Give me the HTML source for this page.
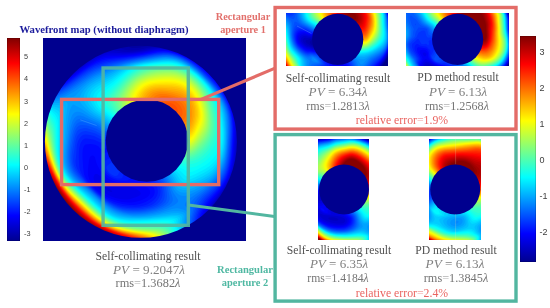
<!DOCTYPE html><html><head><meta charset="utf-8"><title>Wavefront map</title><style>html,body{margin:0;padding:0;background:#fff}#p{position:relative;width:550px;height:308px;overflow:hidden;background:#fff;font-family:'Liberation Serif',serif}.t{position:absolute;white-space:nowrap;line-height:normal}.c{position:absolute;white-space:nowrap;line-height:1;font-family:'Liberation Sans',sans-serif;color:#404040}svg{display:block}</style></head><body><div id="p">
<div style="position:absolute;left:7px;top:38.2px;width:13.3px;height:202.8px;background:linear-gradient(to bottom,#800000 0%,#ff0000 12.5%,#ffff00 37.5%,#00ffff 62.5%,#0000ff 87.5%,#00008f 100%);box-shadow:inset 0 0 0 0.5px rgba(0,0,0,.3)"></div>
<div style="position:absolute;left:519.8px;top:35.5px;width:15.9px;height:226.3px;background:linear-gradient(to bottom,#800000 0%,#ff0000 12.5%,#ffff00 37.5%,#00ffff 62.5%,#0000ff 87.5%,#00008f 100%);box-shadow:inset 0 0 0 0.5px rgba(0,0,0,.3)"></div>
<svg style="position:absolute;left:43.1px;top:38.2px" width="203" height="202.8" viewBox="43.1 38.2 203 202.8"><rect x="42.1" y="37.2" width="205" height="204" fill="#0000a3"/>
<path fill="#0000b1" d="M42.1 37.2l85.6 0 1.2 9 0.3 1 2.9 1 3 0.1 4-0.3 8.7-1.8 0.6-9 98.7 0 0 204-205 0z"/>
<path fill="#0000bf" d="M42.1 37.2l75.7 0 2.4 11 2 1 3.9 0.9 3 0.4 3 0.1 6.2-0.4 9.8-2.3 4.5-0.7 1.5-0.4 0.9-0.6 1.4-9 90.7 0 0 204-205 0z"/>
<path fill="#0000cd" d="M42.1 37.2l65.8 0 4.1 13 11.1 1.7 5 0.3 6-0.3 6-0.7 11-2.6 9-1.1 0.6-0.3 2.1-10 84.3 0 0 102-10 0.2-0.6 13.8-0.4 2 0 0.9 11 1.6 0 43.9-22-12.3-1 0.8-0.4 1.1-1.6 1.7-1.6 2.3-6.9 9-1.3 2-0.3 1 0.1 0.4 35 32.3 0 1.3-205 0z"/>
<path fill="#0000dc" d="M42.1 37.2l0.9 0 32.1 34.3 1-0.2 10-7.4 9-5.9 1.6-0.8 0.4-0.4 1.6-0.6 0.4-0.4 5-1.9 4-0.9 3-0.2 12 0.6 9-0.3 9-1.1 4.3-0.8 6.7-1.6 3-0.5 4-0.3 6 0.1 0.9-0.7 3-11 78.1 0 0 90-10 1.4-1 0.5 0.1 2.1-0.3 7-1.1 19-1.3 9-0.9 4-0.7 2-0.2 1-0.3 1-0.3 0.3-0.4 1.7-0.6 0.9-0.7 2.1-0.3 0.3-0.7 1.7-3.3 5.7-5 7.3-9.3 12-2 3-0.5 1-0.2 1 29 30-195 0z"/>
<path fill="#0000ea" d="M247.1 37.2l0 81-12 2.7-0.2 2.3 0.4 4-0.1 7-1 19-0.6 6-0.7 5-1.1 5-1.1 4-1.5 4-1.3 3-1.8 3.5-2 3.4-4 5.7-10.7 13.4-2.6 4-1 2-0.4 1 0.5 1 24.2 27-188 0 0-192.2 29 27.2 13-9.6 7-4.8 7-3.9 3-1.2 3-1 3-0.7 3-0.3 13-0.1 11-0.8 8-1.1 12-2.5 4-0.5 5 0 4 0.3 2 0.4 2.3-0.2 4.3-13zM104.4 187.2l0.5 1 2.2 2 1.6 1 2.2 1 1.2 0.1 0.3-0.1-0.4-1-0.9-1-2.7-2-1.8-1-1.5-0.5z"/>
<path fill="#0000f8" d="M247.1 37.2l0 71.5-14 4.4-0.1 2.1 0.5 1 1 10 0.1 5-0.2 6-0.8 13-0.7 8-1 7-1.4 6-1.3 4-1.2 3-1.9 3.9-2 3.5-2 3-3 4-8.1 9.6-3.1 4-2.5 4-2.4 5 21.8 26-182.7 0 0-184.5 26 22.4 2-1.1 14-10.2 8-5.2 4-2.2 3-1.4 3-1.2 3-0.8 4-0.6 15-0.7 10-1 8-1.1 13-2.7 4-0.5 6 0.1 8 1.3 2 0.6 2 0.1 0.9-0.3 6.2-15zM94.1 175.6l-0.4 1.6-0.1 1 0.5 3 1.3 3 2.1 3 2.6 2.6 3 2.4 5 3 4 1.8 3.5 1.2 4.5 1.1 4 0.4 4-0.1 2.3-0.4 6.2-2 2.5-1.3 1-0.7 0.6-1 0-1-0.5-1-0.8-1-3-2-2.1-1-2.9-1-2.3-0.5-10-1-4-0.9-3-1.1-4-2.1-10-7-1-0.4-1-0.1-1 0.3z"/>
<path fill="#0007ff" d="M247.1 59.2l0 34.4-18 8.2 0 1.7 0.5 0.7 0.5 2.4 0.5 0.6 0.3 2 0.5 1 1.4 7 0.8 6 0.3 6-0.3 10-1.1 16-1.2 9-1.6 7-1.3 4-1.3 3.1-2 3.9-1.8 3-4.2 5.8-8.9 10.2-3.2 4-3.1 5-1.4 3-1.2 3-0.1 1 19.2 24-178.3 0 0-178.7 23.2 18.7 0.8 0.4 1-0.4 16-11.5 7-4.6 7-3.8 3-1.3 3-1 3-0.7 3-0.4 16-1.3 10-1.2 7-1.1 16-3 4-0.2 5 0.2 4 0.7 4 1 3 0.9 4 1.6 1 0.2 1 0.7 1 0.2 1 0.8 1 0.1 0.7 0.7 1.3 0.3 0.7 0.7 1.7 1 0.6 0.1 1 1 1 0.1 1.9 1.8 1.1 0.5 0.4 0.5 0.6 0.2 3 2.9 1 0.4 1 0.9 12.8 12.6 0.2 1 1 0.4zM90.1 157.3l-1 3.2-1.1 9.7 0 3 0.2 2 1 4 1.8 4 2.1 3 2.7 3 2.2 2 4 3 5.2 3 3.9 1.7 3.6 1.3 3.4 1 4 0.9 6 0.6 3 0 3.9-0.5 3.1-0.8 3-0.9 3-1.3 2-1 2-1.5 1.3-1.5 0.8-2-0.1-2-0.4-1-0.6-1-1-0.9-2-1.1-5.4-2-4.6-1.1-8-1.1-7-0.2-4-0.5-4-1.2-4-2-2.7-1.9-2.2-2-2.7-3-2-3-2.1-4-0.8-2-1.5-5.5-1-1.6-1-0.5-1 0-1 0.5z"/>
<path fill="#0015ff" d="M208.6 75.2l5.5 5.8 5 6.2 4.1 6 3.3 6 1.8 4 1.1 3 1.8 6 1.2 6 0.7 7 0.1 5-0.1 6-0.6 11-0.7 8-1.5 10-1.2 5-1.2 4-1.2 3-1.6 3.3-2 3.4-2 3-4 4.9-8.6 9.4-3.8 5-1.7 3-1.5 3-1.6 4-0.6 2 0.5 1 16.8 22-174.5 0 0-173.8 22 16.6 1-0.3 2-1.3 17-12.1 6-3.9 6-3.3 6-2.3 3-0.8 4-0.7 18-2 9-1.2 22-4 4-0.3 3 0 5 0.6 6 1.5 6 2.2 6 2.9 5 3.1 5 3.6 5.3 4.5zM85.1 145l-1 1.2-0.8 2-0.4 2-0.3 3 0 4 0.7 11 0.8 6 1 2.7 1 1.9 3 4.5 5.1 5.9 5.9 5.1 4.1 2.9 3.4 2 3.5 1.6 3 1.2 4 1.2 4.5 1 3.5 0.5 4 0.4 3 0 3-0.2 3.6-0.7 3.3-1 3.1-1.3 3-1.6 2-1.5 1.7-1.6 1.3-2.1 0.6-1.9 0.1-1-0.1-2-0.6-2-1-1.3-1-0.8-1.5-0.9-4.5-1.9-8.3-2.1-2.2-1 3.5-24.8 0.6-6.2-0.6-0.7-0.3 1.7-0.7 1.7-0.5 2.3-0.5 1-7.1 24-0.9 0.4-1 0.7-1 0.4-2 0.1-6-0.2-4-0.9-3-1.2-3-1.8-3-2.6-2.3-2.9-1.1-2-0.8-2-0.6-2-0.3-3 0.7-7 0.4-1.4 2.5-0.6 22.7-7 0.8-0.4 2.4-0.6 0.6-0.4 2.6-0.6-0.6-0.3-4 0.3-1 0.4-4.4 0.6-21.4 4-1.2 0.5-0.3-0.5-0.7-0.4-1-1.5-1-1.1-3-1.2-3-0.6-2-0.1-4 0.3zM134.5 143.2l0.6 0.2 2-0.2zM140.1 145.1l-0.2 3.1 0.2 0.2 0.1-2.2z"/>
<path fill="#0023ff" d="M206.5 74.2l6.6 6.8 5 5.9 4 5.7 3.7 6.6 2.7 6 2.2 7 1.3 7 0.5 7 0.1 5-0.3 7-0.6 11-0.7 7-0.7 5-1 5-1 4-1.3 4-1.2 3-1.7 3.3-2 3.3-2 2.8-4 4.7-8.6 8.9-3.4 4.4-2.1 3.6-1.9 3.8-1.3 3.2-1.2 4 0.3 1 15.3 21-171.1 0 0-169.6 20 14.2 1 0.3 4-2.5 16-11.4 6-3.9 6-3.3 6-2.4 4-1.1 5-1 27-3.8 20-3.7 4-0.4 3-0.1 5 0.3 5 1 6 2 5.2 2.4 5.3 3 5.5 3.8 5.1 4.2zM82.1 141l-1 1.7-1 2.6-0.7 2.9-0.4 4-0.1 5 0.4 9 0.3 2 0.5 2 1.3 3 1.6 3 2 3 2.9 4 5.4 6 3.1 3 3.7 3.1 4 2.9 5 3 4 1.9 2.7 1.1 3.2 1 4.1 0.9 7 0.7 5 0.1 4-0.3 2.9-0.4 3.7-1 2.4-1 3.4-2 2.5-2 1.8-2 1.3-2.2 0.8-2.8 0-3-0.8-3.1-1-1.5-1.7-1.4-3.3-1.7-3.2-1.3-1.5-1-5.3-37.1-1.3 1.1-16.7 31.7-0.8 2.3-1.2 0.5-2 0-2-0.1-3-1-3-1.5-2.5-1.9-1.8-2-1.9-3-1-3-0.3-2 0.2-1 0.4-1 0.9-1.3 33-17.4 1-0.8 1 0 0.2-0.5-7.2-0.1-33 0.5-3-1.5-3-1.1-3.6-0.8-4.4-0.5-1 0.1-1 0.4-1 0.7z"/>
<path fill="#0032ff" d="M204.5 73.2l6.9 7 5.7 6.5 4 5.5 4 6.7 3 6.8 2 6.5 1.3 7 0.5 7 0.1 6-0.3 7-0.7 10-0.7 7-0.7 5-1 5-1.1 4-1.4 4-1.3 3-1.7 3.2-2 3.1-2 2.7-4 4.4-7.8 7.6-2.2 2.5-2 2.7-2.2 3.8-2.3 5-1.2 3-1.4 5 0.2 1 14 20-168.1 0 0-165.9 19 12.8 1-0.2 3-1.8 17-11.9 6-3.9 7-3.8 6-2.4 5-1.4 6-1.2 27-4.4 17-3.2 4-0.5 4-0.2 5 0.2 5 1 5 1.6 5.1 2.2 4.9 2.7 5 3.4 5 3.9zM80.1 137.9l-1 1.5-1 2-0.8 2.8-0.4 2-0.7 10-0.6 5 0.2 3 0.4 2 1.2 3 1.6 3 2.7 4 3.7 5 6.1 7 3.6 3.6 4 3.5 7 5 3.1 1.9 3.9 2.1 4.9 1.9 3.1 0.9 7 1.1 5 0.2 5-0.2 4-0.4 4-0.8 3-0.8 2.4-1 1.8-1 2.5-2 1.9-2 1.4-2.2 1.1-2.8 0.4-3-0.1-2-0.4-2-0.7-2-1.3-2-2-1.6-4.1-2.4-0.7-1-9.2-33.2-1-3.1-0.6-0.7-11.1-1-28.3-2-1-0.1-4-2-2-0.8-4-1-4-0.6-1 0-2 0.6-1.4 0.9zM139.1 143.6l0.3 0.6-20.4 29-1 2-0.9 0.7-2 0.4-0.5-0.1-2.5-1.2-2.4-1.8-1.7-2-1.2-2-0.6-2 0.9-1.1 2.2-1.9 28.5-20z"/>
<path fill="#0040ff" d="M202.6 72.2l7.5 7.5 5.8 6.5 4.5 6 3.7 6 3 6.3 2.2 6.7 1.4 7 0.6 8 0.1 5-0.3 7-0.7 10-0.7 7-0.6 4.4-1 5.2-1.1 4.4-1.4 4-2.5 5.4-2 3.2-2 2.6-4 4.4-9 8.4-2.7 3-1.4 2-2.3 4-2.6 6-1.4 4-1.2 5 0.1 1 12.8 19-165.3 0 0-162.6 18 11.6 3-1.6 6-4 13.6-9.4 5.4-3.5 6.6-3.5 6.4-2.6 7-2.1 10-2.1 24.6-4.2 12.4-2.4 8-0.9 5 0.1 5 0.7 5 1.5 4.9 2 5.1 2.7 4.9 3.3 5.1 4zM78.1 135.1l-1.1 2.1-1.2 4-2.3 15-0.2 3 0 2 0.5 3 0.5 2 1.3 3 1.8 3 7.1 9 3.4 4 3.8 4 4.2 4 3.2 2.7 7 5.2 4 2.5 3 1.6 4 1.7 3 1 3 0.8 4 0.6 5 0.3 5 0 5-0.5 5-0.9 3.8-1 3.2-1.3 3.1-1.7 2.3-2 1.9-3 0.8-2 0.4-2 0.1-4-0.7-4-0.8-2-1.3-2-1.8-1.7-2-1.3-1.2-1-12.7-34-1.1-2.6-0.4-0.4-5.6-1-34-4.6-5-2.6-2-0.8-4-1.1-4-0.8-2 0.1-2 0.6-2 1.2z"/>
<path fill="#004eff" d="M202.1 72.6l7.6 7.6 6.2 7 4.5 6 3.7 6.2 3 6.6 1.9 6.2 1.2 7 0.5 8 0 6-0.4 7-0.6 9-0.8 7-0.8 5-1 4.4-1 3.6-1.4 4-2.6 5.2-2 3-2 2.5-3 3.1-10.3 9.2-2.8 3-1.5 2-1.7 3-3.9 10-1.1 4-0.8 4 0.2 1 11.6 18-162.7 0 0-159.5 16 9.8 1 0.4 3-1.5 7-4.4 13-9 6-3.8 7-3.7 7-2.8 9-2.7 12.8-2.8 31.2-5.7 8-0.9 5 0 4 0.5 5 1.3 5 2 5 2.6 5 3.2 5 3.9zM78.1 130.5l-1 1.3-0.7 1.4-1.3 3.4-1 4.3-2 11.2-0.4 4.1 0 3 0.4 3.7 0.8 3.3 1.2 3 1 1.8 3.1 4.2 10.8 12 5.1 5 4 3.6 4 3.2 4 2.9 4 2.6 3.2 1.7 3.8 1.7 4 1.3 4 0.9 3 0.4 5 0.3 5-0.2 5-0.5 6-1.1 4-1.1 4.2-1.7 3.2-2 2.1-2 0.7-1 0.9-2 0.5-2 0.2-2-0.4-5-0.6-3-0.7-2-1-2-1.1-1.5-1-1-2-1.5-0.9-1-16.3-36-4-1-35.8-7.1-6-3.2-8-2.4-2-0.2-3 0.3-2 0.6-1 0.5z"/>
<path fill="#005cff" d="M202.1 73.3l7.8 7.9 6.1 7 4.4 6 3.7 6.4 2.8 6.6 1.7 6 1.1 7 0.4 8-0.1 6-0.5 9-1.2 12-1.7 9-1.1 4-1.4 4-1.4 3-1.6 2.8-3 4-4 4-11.6 10.2-3.6 4-1.3 2-0.9 2-4.1 13-1.1 6 0.3 1 10.5 17-160.2 0 0-156.6 15 8.7 1 0.3 3-1.3 8-4.8 12-8.3 7-4.5 7-3.7 7-3 9-2.8 14-3.4 30-5.6 7-0.9 5-0.1 5 0.5 5 1.3 5 2 5 2.6 5 3.3 5 3.9zM77.1 127.6l-1.6 2.6-1.4 4-1.2 5-1.9 10-0.5 5-0.1 4 0.3 4 1 4 1.1 3 1 2 1.3 2 2 2.4 13.1 13.6 7.9 7.3 4 3.2 4 3 4 2.6 4 2.2 4 1.7 3 0.9 4 0.9 4 0.5 5 0.3 5-0.2 6-0.6 5-1 5-1.4 3.6-1.4 3.6-2 2.4-2 0.9-1 1-2 0.5-3-0.1-3-0.4-3-0.6-3-0.9-3-0.9-2-1.1-1.8-1-1.2-2.3-2-0.7-1-18-35-4-1.2-35-8.7-6-3.5-4-1.5-5-1.5-4-0.5-3 0.2-1.4 0.7z"/>
<path fill="#006aff" d="M202.1 74.1l7 7.1 6.1 7 4.9 6.6 3.7 6.4 2.5 6 1 3 0.9 4 1 7 0.2 8-0.7 16-1.2 11-1 5-1.2 5-1.2 3.5-1.5 3.5-2.5 4.3-3 3.8-5 4.7-10.9 9.2-3.3 3-2.5 3-1 2-0.3 1-0.9 6-2.4 9-0.7 5 0.4 1 9.6 16-158 0 0-154 15 8.2 3-1.3 8-4.4 14-9.6 7.9-4.9 6.1-3.2 7-3 5.2-1.8 5.8-1.8 12.6-3.2 8.4-1.7 20-3.6 7-0.9 5-0.2 5 0.5 5 1.3 4.2 1.6 4.8 2.4 5 3.2 5 3.9zM76.7 124.2l-1.9 3-1.7 4.4-1.4 5.6-1.6 9.2-0.7 5.8-0.2 5 0.4 5 0.9 4 1.1 3 1 2 1.5 2.4 2.1 2.6 2.8 3 12.6 12 6.5 6 8 6.3 4 2.7 4 2.2 4 1.6 4 1.3 4 0.8 4 0.5 5 0.2 6-0.3 6-0.8 6-1.2 4.4-1.3 4.8-2 3.3-2 2.3-2 0.7-1 0.9-2 0.2-1 0-2-1.7-8-0.9-3-1.1-3-1.9-3.2-3-3.3-19.9-34.5-3.1-1.1-36-10.9-4-2.7-2-1-9-3.2-5-1.1-2 0-2 0.8z"/>
<path fill="#0078ff" d="M202.1 74.7l7.3 7.5 6 7 4.9 7 2.3 4 1.5 3 1.2 3 1.4 4 1.4 6.8 0.6 7.2 0 9-0.8 14-1.3 10-1.1 5-1.1 4-1.3 3.5-1.6 3.5-2.6 4-3.8 4.3-7 6.2-13.4 10.5-2.8 3-1.1 2-0.3 2 0.7 4 0.1 2-0.6 3-1.3 5-0.6 6 9.1 16-155.8 0 0-151.4 14 7.4 3-1.2 8-4 17.5-11.8 6.5-4 6-3.2 7-3 12-4.1 12-3.3 8-1.6 21-3.7 5-0.6 5-0.2 5 0.5 5 1.2 4 1.5 5 2.5 5 3.3 5 3.8zM75.8 121.2l-1.9 3-1.8 4.7-1.5 6.3-1.5 9.6-0.8 6.4-0.2 6 0.4 5 0.8 4 1.1 3 1.5 3 2.1 3 2.1 2.5 3 2.9 20 18.2 5 4.1 4 2.9 3 1.9 4 2 4 1.6 4 1.1 4 0.7 5 0.5 6 0.1 6-0.5 6-0.9 5.2-1.1 6.3-2 4.5-2 3.3-2 2.2-2 1.1-2 0.2-1-0.1-2-4.3-13-1.2-3-1.8-3-2.6-3-1.1-2-19.7-30.4-0.9-1.6-38.1-13.6-4-2.7-2-1.1-8-3.3-6-2.1-2-0.5-2 0.2-2 0.9z"/>
<path fill="#0087ff" d="M202.1 75.3l7.6 7.9 5.8 7 4.8 7 2.2 4 1.6 3.5 1 2.5 1.2 4 0.8 3.7 0.5 3.3 0.5 8-0.2 11-0.8 12-0.7 5-0.9 5-1 4-1.4 4.1-1.7 3.9-1.8 3-1.5 2.1-2 2.4-6 5.6-6 4.7-13.8 9.2-3.5 3-1.4 2-0.4 2 0.4 1 2.8 3 0.9 1.8 0.2 1.2-0.3 3-1 4-0.3 2-0.2 4 0.1 1 8.3 15-153.8 0 0-149 13 6.5 1-0.1 8-3.2 3-1.6 9-5.8 11.2-7.8 6.6-4 6-3 7.3-3 11.9-4.3 5.8-1.7 5.2-1.3 16-3.1 15-2.3 5-0.3 5 0.2 5 1.1 5 1.8 5 2.5 5 3.3 5 3.8zM74.5 118.2l-1.3 2-0.9 2-1.6 5-1.3 7-1.8 13-0.5 6-0.1 5 0.5 5 1 4 1.2 3 1.7 3 2.2 3 2.5 2.9 3 2.8 8 6.8 10 9.2 5 4.3 4 3.1 4 2.7 3 1.7 4 1.8 4 1.3 4 0.9 5 0.7 5 0.3 6-0.2 6-0.6 6-1 5-1.1 5.2-1.6 5.2-2 6-3 2.7-2 0.7-1 0.4-1-0.2-1-0.5-1-4.5-6.9-1-2.1-2.7-7-1.4-3-25.9-36.5-0.9-1.5-37.1-15.1-6-3.9-15-6.8-3-0.7-2 0.1-2 0.9z"/>
<path fill="#0095ff" d="M202.1 75.9l7.9 8.3 5.6 7 4.6 7 1.9 3.5 1.6 3.5 1.9 6 0.7 3 0.6 4 0.5 9-0.1 11-0.7 10-1.4 9-1 4-1.1 3.6-1.4 3.4-1.5 3-1.9 3-1.6 2-2.6 2.8-3 2.8-3 2.4-3 2.2-7 4.2-8 4.1-4 1.2-2 0.2-2-0.1-2-0.6-2-1.1-2-1.8-2-2.7-4-8.9-2.9-4.7-2.9-4-22.2-28.7-0.8-1.3-37.2-16.9-5-3.5-9-4.4-7-4-3-1.2-2-0.3-1 0-2 0.6-1 0.7-1 1-1 1.6-1 2.3-1.4 5.1-1 6-2.2 18-0.5 6-0.1 4 0.1 3 0.4 3 0.7 3 1 2.8 1 2.2 1.2 2 2.1 3 2.7 3.2 4 3.8 10 8.3 12 10.8 7 5.5 3 1.9 3 1.5 3 1.3 3 1 3 0.8 4 0.7 7 0.6 9-0.2 4-0.4 5.7-0.8 7.3-1.6 12-3.4 4-0.8 2 0 6 1.6 2 1.2 0.8 1 0.4 1 0.1 2-1 5-0.2 2 0 4 0.3 1 7.4 14-151.8 0 0-146.8 12 5.8 1 0.1 2-0.6 6-1.9 2-0.9 9-5 3-2 9.9-7.7 4.1-2.7 4-2.3 6.2-3 14.4-6 8.4-3 8-2.1 15-2.9 13-1.9 6-0.5 5 0.3 5 1 4 1.3 5 2.5 6 3.8 5 3.8z"/>
<path fill="#00a3ff" d="M202.1 76.5l6.4 6.7 5.8 7 4.7 7 2.2 4 1.4 3 2.1 6 1.2 6 0.7 8 0.2 10-0.4 10-1.1 9-0.8 4-1.1 4-2.3 6.1-1.5 2.9-1.5 2.3-2 2.5-3 3.2-5 4.2-3 2-4 2.3-4 2.1-4 1.9-3 1-3 0.8-3 0.4-2-0.2-2-0.6-1.7-0.9-1.3-1-2-2.5-4.1-8.5-4.9-7.3-24-28.5-0.8-1.2-36.2-18.3-5-3.5-6.3-3.2-3.5-2-9.2-6.5-7-3.7-1-0.2-1 1-1 1.8-1 2.4-1.1 4.2-0.7 4-0.8 6-2.6 28-0.2 4 0.1 3 0.4 3 0.6 3 1 3 1.3 3 1.1 2 2.1 3 2.8 3.4 4 3.9 11 9.1 13 11.6 6 4.7 5 2.9 3 1.4 3 1 3 0.8 4 0.8 7 0.6 8 0 9-0.7 8-1.3 11-2.4 4-0.5 6 0 2 0.3 2 0.5 1 0.5 1 1 0.5 1.4-0.1 2-0.8 5 0.2 5 7.2 14-150 0 0-144.6 11 5.1 1 0.2 8-1.6 7-2.6 4-0.4 1-0.3 2-1.6 4.6-5.2 3-3 3.5-3 3.9-2.8 3.7-2.2 3.9-2 17.5-8 7.4-3 8.5-2.5 14-2.7 12-1.8 7-0.7 5 0.1 5 0.8 5 1.6 5 2.4 6 3.8 6 4.7z"/>
<path fill="#00b1ff" d="M86.6 87.2l3.6-3 4.9-3.1 4-2.1 11-5.2 8.8-4.6 7.1-3 4.1-1.3 5-1.2 11-2 10-1.6 7-0.7 5-0.2 5 0.5 4 0.9 5 1.9 5 2.7 5 3.3 6 4.9 6.1 5.8 5.5 6 4.7 6 3.9 6 2.8 5.2 2.3 5.8 1.4 6 1 8 0.4 11-0.3 10-0.8 7.2-1.4 6.8-1.9 6-1.3 3-1.4 2.7-3.1 4.3-1.9 2.1-3 2.9-4 2.9-8 4.5-7 3-5 1.4-2 0.3-2-0.1-2-0.4-2-1-1-0.7-1.6-1.9-4.2-8-4.7-7-24.5-26.9-1.7-2.1-35.3-19.5-5-3.6-7.1-3.9-4.3-3-4.4-4-2-2-1.7-2-1.2-2-0.5-2 0-2 0.5-2 1.4-3 2.1-3zM42.1 98.7l11 4.8 8-0.6 4-0.8 1.2 0.1 0.8 0.5 0.3 0.5 0.3 1 0 2-1.7 13-1 18-1.3 15-0.1 4 0.3 4 0.5 3 0.8 3 1.1 3 1.4 3 3.4 5.1 2 2.3 3 3.2 4 3.5 9 7.4 11 10 6 4.9 3 2.1 3 1.8 3 1.3 3.9 1.4 4.1 1 5 0.7 5 0.4 6 0.1 6-0.3 6-0.6 15-2.3 6-0.7 6-0.2 2 0.3 2 0.6 1.2 1 0.5 1 0 2-0.5 5 0.5 5 6.5 13-148.2 0z"/>
<path fill="#00bfff" d="M88.6 88.2l3.6-3 3.9-2.5 14-7 11.3-6.5 4.3-2 2.7-1 7.1-2 6.6-1.3 13-2 7-0.8 6-0.2 5 0.4 4 0.9 5 1.9 5 2.7 5 3.3 6 4.9 5.5 5.2 5.5 6 4.7 6 3.9 6 2.6 5 2.3 6 1.5 6.2 1 8.3 0.5 10.5-0.3 9-0.9 8-1.3 6.4-2 6-2 4-3 4.4-2 2.3-2 2-4 3-7 4-8 3.6-5 1.6-2 0.4-2 0-2-0.3-2-0.9-1-0.8-1.5-1.7-3.9-7-4.9-7-26.7-27.1-0.7-0.9-34.3-20.8-5-3.6-5-2.8-2.8-1.8-2.5-2-2-2-2.7-3-2-3-1.2-3-0.2-2 0.2-2 1.1-3 1.9-3zM42.1 100.7l10 4.2 5 0.3 6 0.6 1 0.6 0.4 0.8 0.3 2 0 2-0.7 11-0.6 17-1 14 0.1 4 0.3 3 0.6 3 0.8 3 1.1 3 1.5 3 1.8 3 2.3 3 2.1 2.5 3 3.1 4 3.6 9 7.4 11 10.1 5 4.2 3 2.1 3.3 2 3.7 1.7 3 1 4 1 5 0.8 5 0.4 6 0.1 6-0.2 6-0.4 22-2.7 5 0 2 0.3 1 0.3 1.1 0.7 0.7 1 0.1 2-0.2 4 0.6 5 6.2 13-146.5 0z"/>
<path fill="#00cdff" d="M90.9 89.2l2.2-2 4-2.8 14-7.3 9.3-5.9 3.5-2 4.2-2 2.6-1 5.4-1.5 7-1.4 13-1.9 7-0.7 6-0.1 5 0.5 4 1.1 5 2 4 2.1 5.7 3.9 5.3 4.3 5.9 5.7 5.3 6 3.9 5 3.8 6 3.1 6 1.8 5 1.4 6 1.1 9 0.5 10-0.2 8-0.7 7-1.4 7-1.5 4.7-1 2.3-2 3.7-3 4.1-3 3.1-4 2.9-6 3.4-9 4.1-5 1.7-2 0.3-2 0-2-0.5-1-0.5-1-0.8-1-1.2-3.9-6.3-5.2-7-27.9-26.1-0.7-0.9-1.8-1-31.6-21-5.5-4-5-3-2.6-2-2.1-2-2.5-3-1.9-3-0.8-2-0.6-3 0.3-3 0.8-2 1.1-2zM42.1 102.6l9 3.6 4.7 1 3.2 1 2.1 0.9 1 1.1 0.5 2 0.1 4-0.5 22-0.8 15 0.2 4 0.5 4 1 3.9 1 2.9 2.6 5.2 1.9 3 2.3 3 5.2 5.6 4 3.6 9 7.5 11 10.2 5 4.1 3 2.1 3 1.8 3 1.4 3 1.1 4 1.1 4 0.6 5 0.5 6 0.2 6-0.1 7-0.4 23-2.3 4 0.1 2 0.4 1 0.5 0.9 1 0.2 1 0.1 5 1.1 5 5.5 12-144.8 0z"/>
<path fill="#00dcff" d="M93.4 90.2l2.2-2 2.8-2 13.7-7.6 9.1-6.4 3.2-2 6.1-3 2.6-1 3.5-1 7.5-1.5 12-1.6 7-0.7 6-0.1 5 0.5 4 1 4 1.5 5 2.6 5 3.4 6 4.8 5.3 5.1 4.7 5.3 4.4 5.7 3.6 5.6 2.8 5.4 1.9 5 1.5 6 1.2 9 0.7 9-0.1 9-0.8 8-1.2 5.4-2 5.7-2 3.9-3 4.3-3 3.1-4 2.9-4.7 2.7-9.3 4.5-5 1.8-2 0.4-2 0.1-1-0.1-1.6-0.7-1.3-1-0.8-1-3.3-5-6-7.2-29-25-0.6-0.8-1.7-1-30.6-22-5.1-3.9-4.9-3.1-3.6-3-1.6-2-1.9-3-1.4-3-0.5-2 0-3 0.6-2 1-2zM42.1 104.5l9 3.4 2 0.6 3 1.3 2.3 1.4 1.1 1 0.8 1 0.6 3 0.2 4-0.2 17-0.5 15 0.3 5 0.9 5 0.8 3 1.1 3 1.3 3 1.7 3 2.1 3 2.4 3 6.1 6.4 11.1 9.6 10.8 10 4.7 4 3.4 2.5 3 1.9 3 1.5 3 1.2 4 1.1 4 0.7 5 0.5 5 0.2 7 0 7-0.4 22-1.9 4 0.1 2.8 0.6 1.1 1 0.3 1 0.5 4 1.3 5.2 5.2 11.8-143.2 0z"/>
<path fill="#00eaff" d="M96.2 91.2l3.6-3 12.3-7.5 10-7.5 4-2.6 2.4-1.4 3.6-1.7 3.6-1.3 2.4-0.7 6.6-1.3 11.4-1.5 6-0.6 6-0.1 5 0.4 4 0.8 5 1.8 4 2 5 3.1 5.2 4.1 5.4 5 4.7 5 4 5 3.7 5.4 3 5.5 2.1 5.1 1.9 6.7 1.2 7.3 1 9 0.1 9-0.3 5.8-1 6.2-1.8 6-2.2 4.8-2 3.2-3 3.5-4 3.3-4 2.5-9.3 4.7-4.7 2.1-2 0.5-2 0.3-2-0.2-1-0.4-2-1.8-3.5-4.5-7.2-7-28.8-23-0.5-0.2-0.6-0.8-1.6-1-33.8-26.3-5.3-3.7-2.3-2-1.8-2-1.3-2-1.3-3-0.8-3 0-2 0.4-2 1-2zM42.1 106.4l10.5 3.8 4.1 3 0.9 1 1.2 2 0.6 3 0.2 5-0.2 28 0.6 6 1.1 5 2.1 6 1.4 3 1.9 3 4.6 6 6 6.3 11 9.7 10.8 10 4.8 4 3.4 2.5 3 1.8 3 1.5 3.2 1.2 3.8 1.1 4 0.7 4 0.4 5 0.2 14-0.3 22-1.6 4 0.2 2 0.6 1 0.8 1.3 4.9 1.6 5 4.7 11-141.6 0z"/>
<path fill="#00f8ff" d="M99.4 92.2l3.5-3 10.2-6.9 8.7-7.1 3.9-3 3.2-2 3.2-1.7 3.2-1.3 3-1 4.2-1 7.6-1.2 11-1.1 7-0.2 5 0.4 4 0.8 4 1.3 5 2.4 5 3.2 5 3.8 5 4.6 5 5.5 4 5 3 4.5 3 5.6 2.2 5.4 1.8 6.5 1.5 8.5 0.8 9 0.1 7-0.4 6.2-1 5.3-1 3.5-1 2.8-2 4.1-2 2.9-3 3.2-3 2.4-4 2.7-9.4 4.9-3.6 1.6-3 0.8-2-0.1-1-0.3-1.4-1-3.6-3.5-6-4.4-2.4-2.1-30-22-0.6-0.3-0.5-0.7-2.8-2-31.7-26.5-6-4.7-1.7-1.8-1.3-2-0.9-2-0.6-3-0.1-2 0.4-2 0.9-2zM42.1 108.1l9 3.2 1 0.7 3 2.8 1.6 2.4 1.1 3 0.5 4 0.2 10-0.1 14 0.3 5 0.6 5 1.4 6 1.4 4 1 2.3 1.4 2.7 1.9 3 4.9 6 6.8 7 10 8.9 9.8 9.1 5.9 5 3.3 2.3 3 1.8 3.9 1.9 2.8 1 3.8 1 3.5 0.6 8 0.6 14-0.2 21-1.3 4 0.2 2 0.6 0.8 0.5 0.5 1 7.8 19-140.1 0z"/>
<path fill="#07fff8" d="M102.7 93.2l3.3-3 8.1-6.3 8.6-7.7 3.8-3 2.9-2 3.6-2 3.1-1.3 3-1.1 5-1.2 6-1 11-1 7-0.2 5 0.4 4 0.8 4 1.3 4 1.9 4.2 2.4 5.5 4 4.5 4 4.8 5 4.1 5 3.4 5 2.8 5 2.2 5 1.9 6 1.6 8 1 7.8 0.3 6.2-0.3 7-0.8 6-1.2 4.4-2 4.9-1.7 2.7-1.6 2-2.7 2.7-3 2.5-3 2.2-3 1.7-5 2.7-4 1.7-3 0.7-2-0.4-5-2.8-5-2.3-3-1.7-2.6-2-29.6-20-0.8-0.3-0.5-0.7-2.6-2-29.9-26.9-6.1-5.1-1.6-2-1.1-2-0.6-2-0.2-2 0.3-2 0.8-2zM42.1 109.9l7 2.3 2 1 3.3 4 1.2 2 0.9 3 0.6 4 0.5 21 0.3 6 0.9 6 1.3 5.1 1 2.9 2 4.5 3 5 2 2.6 3 3.5 7 7.1 18.8 17.3 5.9 5 4.1 3 3.2 1.9 2.2 1.1 3.8 1.5 6 1.6 4 0.6 4 0.3 12-0.1 22-1 4.4 0.1 2.6 0.7 1 0.9 3 5 1.7 3.4 4 10-138.7 0z"/>
<path fill="#15ffea" d="M105.3 94.2l3-3 6.8-5.9 7.3-7.1 4.8-4 2.8-2 3.3-2 3.8-1.7 3-1.1 4.4-1.2 6.1-1 10.5-0.9 6-0.2 5 0.3 4 0.7 4 1.2 4 1.7 4.1 2.2 4.9 3.4 5 4.3 4.3 4.3 3.4 4 3.7 5 3 5 2.3 5 2 6 1.4 6 1.2 7 0.5 7-0.1 7-0.6 6-1.1 4.7-1.7 4.3-1.3 2.2-2 2.6-3 3.2-3 2.8-3 2.2-3 1.9-3 1.7-3 1.2-3 0.8-3-0.1-8-2-5-1.8-31.5-19.7-2.5-1.4-0.4-0.6-1.6-1-35.2-34-0.9-1-1.1-2-0.3-1-0.3-2 0.3-2 0.5-1.5 0.8-1.5zM42.1 111.6l7 2.1 1 0.6 1 1.2 1 1.8 2 2.9 1.1 3 0.9 5 0.7 19 0.6 7 1.1 6 1.6 5.7 1.3 3.3 1.7 3.6 3 4.8 4.7 5.6 7.3 7.4 18 16.7 7 5.9 2.7 2 3.3 2 4 2 2.6 1 3.4 1.1 4 0.9 7 0.8 8 0.1 24-0.9 4 0.2 2 0.4 1 0.3 3.2 3.1 0.8 1.1 2 3.3 4.2 10.6-137.2 0z"/>
<path fill="#23ffdc" d="M107.5 95.2l2.7-3 5.9-5.7 6.1-6.3 4.4-4 4-3 3.2-2 3.3-1.7 3-1.2 5-1.4 5-1 7.5-0.7 8.5-0.4 5 0.2 4 0.6 4 1 4 1.6 4 2.1 5 3.3 4.4 3.6 4.1 4 3.6 4 3.7 5 3.1 5 1.9 4 1.9 5 1.6 6 1.2 7 0.6 6 0.2 6-0.4 6-0.9 4.9-1.4 4.1-1 2-1.6 2.5-5 6.1-2.5 2.4-2.5 1.9-3 2.1-2 1.1-4 1.5-2 0.4-2 0.2-8-0.7-5-1.1-32.2-18.4-2.8-1.4-0.4-0.6-1.5-1-27.8-29-4.7-5-1.6-2-0.9-2-0.2-1 0.1-2 0.6-2zM42.1 113.3l7 2.1 1 0.9 3.6 6.9 0.9 3 0.7 5 0.8 16 1 8.6 0.9 4.4 1 4 2.3 6 2.8 5.3 3 4.2 4.9 5.5 6.1 6 17.1 16 6.9 5.9 2.8 2.1 3.1 2 6.2 3 2.9 1 4 1.2 4.2 0.8 4.8 0.5 8 0.2 22-0.5 4 0.2 2.4 0.6 3.6 2.2 1 0.8 2 2.6 1.5 2.4 3.3 9-135.8 0z"/>
<path fill="#32ffcd" d="M128.1 76.5l4-3 3.9-2.3 4.1-1.9 4-1.3 5-1.1 5-0.7 9-0.6 6 0 4 0.4 4 0.8 4 1.3 3 1.3 3.3 1.8 3.7 2.4 3.3 2.6 3.7 3.3 4 4.2 3.6 4.5 2.6 4 2.7 5 1.7 4 1.6 5 1.1 5 0.9 6 0.4 6 0 6-0.5 5-0.8 4-1.3 3.4-2 3.6-3 4.4-3 3.4-3 2.8-3 2.2-3 1.7-3 1.3-3 0.7-3 0.2-5-0.1-4-0.4-2-0.6-33.7-17.6-1.3-0.5-0.4-0.5-1.5-1-27.5-31-3.8-5-0.8-1.5-0.4-1.5 0-2 0.6-2 1.1-2 1.5-2 12.1-13zM42.1 114.9l6 1.6 1 0.7 1 1.5 1 2.7 2 4.1 0.7 2.7 0.6 4 1.4 18 1.2 8 1.1 4.4 1.1 3.6 1.9 4.6 2 3.9 3 4.5 5.2 6 5.8 5.7 16 15 8.2 7.3 5.8 4 5.8 3 6.2 2.2 7 1.5 7 0.8 6 0.1 17-0.3 5 0.2 2.7 0.5 3.3 1.3 2 1 1 0.7 3.2 4 3.3 9-134.5 0z"/>
<path fill="#40ffbf" d="M129.1 77.2l4-3 4-2.4 4-1.8 5-1.6 5-1.1 5-0.6 7-0.4 6 0.1 4 0.3 4 0.9 3 0.9 4 1.7 3.6 2 3.4 2.2 3.5 2.8 3.3 3 3.7 4 3.2 4 2.6 4 2.6 5 1.6 4 1.5 5 1.1 5 0.8 6 0.3 6 0 5-0.5 4-0.9 4-1.6 4-2.2 4-2.7 4-2.7 3-2.6 2.5-2 1.5-4 2.5-3 1.3-2 0.6-3 0.4-5 0-4-0.2-1-0.2-34.5-16.4-1.5-0.6-0.3-0.4-1.5-1-0.2-0.4-24.7-29.6-3.5-5-1-2-0.7-2 0-2 0.6-2 1-2 1.4-2 10.5-12 3-3zM42.1 116.5l6.1 1.7 0.9 1 0.5 1 1.4 4 1.4 3 0.7 2.8 0.5 3.2 1.5 16 1.5 9 1.2 5 1.3 3.8 2 4.8 1.8 3.4 3.2 4.7 4.6 5.3 5 5 18.4 17.3 6.5 5.7 5.6 4 3.5 2 3.4 1.6 3.7 1.4 3.3 1 6 1.3 7 0.9 6 0.2 14 0 5 0.2 4 0.6 5 1.5 2.1 1.3 2.9 3.4 3.1 8.6-133.1 0z"/>
<path fill="#4effb1" d="M131.1 77l4-2.8 4-2.2 4-1.7 4-1.2 5-1.1 6-0.7 6-0.2 6 0.1 4 0.5 4 0.9 4 1.5 3 1.4 3 1.7 4 2.8 3.8 3.2 3 3 3.4 4 2.9 4 2.4 4 2.3 5 1.6 5 1 4 0.9 6 0.6 6 0 5-0.2 4-0.8 4-1.3 4-1.9 4-1.9 3-2.8 3.7-3 3.1-2 1.7-4 2.8-2 1.2-2 0.8-2 0.5-2 0.3-5 0.1-4-0.1-37-15.7-0.3-0.4-1.5-1-0.2-0.5-0.6-0.5-23.1-30-2.3-4-0.9-2-0.6-2-0.1-2 0.5-2 1-2 1.3-2 10-12 3.1-3zM42.1 118.1l5 1.2 1 0.6 1 1.5 1 3.5 1.7 4.3 0.8 3 0.7 5 1.6 14 1.4 8 1.4 5 1.4 3.9 3 6.4 3 4.8 2 2.6 3 3.4 4 4 20 18.9 7 6 5.9 4 6.1 3.1 7 2.4 6 1.4 6 0.8 6 0.5 18 0.4 7 1.1 3 0.8 2 1.3 3.1 3.2 2.7 8-131.8 0z"/>
<path fill="#5cffa3" d="M131.2 78.2l3.9-2.7 4-2.3 4-1.8 4-1.3 5-1.1 5.6-0.8 5.4-0.3 6 0.1 4 0.4 3 0.5 4 1.2 3 1.2 3.6 1.9 3.4 2.2 3.6 2.8 3.3 3 3.6 4 3 4 2.5 4 2.4 5 1.4 4 1.3 5 0.9 5 0.6 6 0.2 5-0.2 4-0.7 4-1.2 4-1.7 3.9-1.8 3.1-2.2 3-3 3.4-2 1.8-4 3.2-2 1.3-2 0.9-2 0.6-2 0.3-8 0.3-1-0.2-37-14.3-1.8-1.3-0.2-0.6-0.5-0.4-22.1-31-1.9-4-0.8-3-0.1-2 0.4-2 0.9-2 1.3-2 4.5-6 4.2-5 2.9-3zM42.1 119.6l5 1.2 1 0.9 0.7 1.5 1.3 4.7 1.2 3.3 0.8 3 2.3 17 1.8 9 1.1 4 1.8 4.9 3 6.2 2 3.2 2 2.7 4 4.7 23.4 22.3 6.9 6 5.8 4 3.6 2 3.3 1.5 6.9 2.5 6.1 1.5 6 0.9 7 0.5 15 0.7 8 0.8 3 0.8 2 1.3 2.8 2.5 0.5 1 2.2 7-130.5 0z"/>
<path fill="#6aff95" d="M131.6 79.2l3.5-2.5 4-2.3 4-1.8 4-1.5 5-1.2 5-0.7 5-0.4 6 0 4 0.3 4 0.7 4 1.2 3 1.2 3.8 2 3.1 2 3.1 2.4 3 2.7 3.6 3.9 3 4 2.4 4 2 4 1.6 4 1.3 5 0.9 5 0.7 6 0.2 5-0.2 4-0.7 4-1.2 4-1.2 3-1.7 3-2.7 3.7-2.9 3.3-5.1 4.6-2 1.4-2 1.1-2 0.6-2 0.3-8 0.4-38-13.1-1.7-1.3-0.3-0.7-21-31.5-1.3-2.8-0.9-3-0.2-2 0.2-2 0.6-2 1.6-3 3.5-5 3.1-4 2.7-3zM42.1 121.2l5 1.1 1.2 1.9 3.4 12 2.4 16.2 2 9.1 1.1 3.7 1.9 4.9 3 5.9 2 3.2 2 2.7 4 4.6 23.8 22.7 3.4 3 3.8 3 6 4 6 3 7 2.5 6 1.5 6.3 1 6.7 0.6 20 1.2 3 0.5 2 0.6 3 2 1.3 1.1 0.7 0.9 2.2 7.1-129.2 0z"/>
<path fill="#78ff87" d="M132.1 80.2l3-2.3 4-2.3 4-1.9 5-1.8 5-1.1 5-0.8 6-0.3 5 0 4 0.4 4 0.8 4 1.3 3 1.3 3 1.7 4 2.7 3.8 3.3 2.9 3 3.3 4 2.6 4 2.1 4 1.9 5 1.4 5 0.9 5 0.6 6 0.2 5-0.4 4-0.7 4-0.9 3-1.7 3.7-2 3.2-2.3 3.1-1.8 2-4.9 4.9-3 2.2-3 1.2-5 0.6-5 0.1-38-11.8-1.7-1.2-0.3-0.8-19.9-32.2-0.8-2-0.7-3-0.1-3 0.4-2 0.7-2 1-2 2.7-4 3-4 2.7-3.1zM42.1 122.7l4 0.8 1 0.5 1 1.9 1 4.4 2 6.9 2.9 17 1.9 8 1.3 4 1.9 4.7 3 5.8 3.8 5.5 4.2 4.9 23.2 22.1 6.8 5.8 6.2 4.2 3.7 2 3.1 1.5 7 2.5 6 1.5 7 1.1 7 0.7 18 1.1 3 0.5 2 0.7 3 1.8 1.8 1.6 2.1 7-127.9 0z"/>
<path fill="#87ff78" d="M133.7 80.2l3.4-2.4 4-2.1 4-1.6 5-1.6 4-0.9 5-0.7 6-0.3 5 0.1 4 0.5 3 0.6 4 1.3 3 1.3 3.2 1.8 3.8 2.7 3 2.5 3 3.1 3.1 3.7 2.6 4 2.1 4 1.6 4 1.4 5 1 5 0.7 6 0.2 5-0.3 4-0.7 4-1 3-1.3 3-1.7 3-2.7 3.6-4.8 5.4-2 2-2.2 1.6-3 1.3-4 0.5-5 0.4-2-0.4-37-10.2-1.6-1.2-19.2-34-0.6-2-0.3-2 0-3 0.3-2 0.7-2 1.5-3 2.7-4 2.5-3.3 3-3.4zM42.1 124.2l4 0.7 1 1 0.6 1.3 3.4 13.2 2.3 12.8 1.7 7.3 1.1 3.7 1.9 5.2 2 4.4 2 3.6 4 5.7 4 4.6 22.6 21.5 6.4 5.5 6.5 4.5 5.5 3 4.7 2 2.9 1 7.4 2 6 1 9.2 1 15.8 1 3 0.5 1.6 0.5 2.4 1.3 2.4 1.7 0.6 1 1.7 6-126.7 0z"/>
<path fill="#95ff6a" d="M134.1 81.2l3-2.2 4-2.2 4-1.6 5-1.6 4-0.9 5-0.7 5-0.4 5 0.1 4 0.3 3 0.5 3 0.8 4 1.6 4 2.1 3 2.1 3 2.4 3 2.9 3.2 3.8 2.6 4 2.1 4 1.6 4 1.5 5 0.9 5 0.6 5 0.2 5-0.2 4-0.7 4-0.9 3-1.3 3-1.6 2.7-2.4 3.3-4.2 5-2.4 2.6-2 1.6-1.5 0.8-1.5 0.6-4 0.5-5 0.3-39-9.3-1.6-1.1-18.1-35-0.4-2-0.1-2 0.2-3 0.5-2 1.3-3 1.7-3 2.9-4 2.6-3.1zM42.1 125.7l4 0.7 1.2 1.8 3.5 14 2.4 12 1.9 7.5 1.1 3.5 1.9 5 2 4.3 2 3.5 4 5.7 4 4.5 22 21 7 6 6 4.2 5.1 2.8 4.5 2 3.4 1.2 6.3 1.8 7.7 1.5 8 0.9 16 1.1 3 0.5 2 0.7 3.9 2.3 0.9 1 1.6 6-125.4 0z"/>
<path fill="#a3ff5c" d="M135.8 81.2l2.9-2 3.4-1.7 5-1.9 5-1.3 5-1 4-0.4 5-0.3 5 0.2 4 0.5 3 0.7 3 1 3 1.3 3 1.7 3 2 3 2.5 3 3 3 3.7 2 3 2.1 4 1.6 4 1.4 5 0.9 5 0.7 5 0.1 5-0.3 4-0.5 3-0.9 3-1.4 3-1.7 2.9-2.2 3.1-4.8 6-2 2-2 1.4-2 0.8-5 0.7-4 0.2-39-8.1-1.6-1-16.6-35-0.4-2-0.1-3 0.5-3 0.6-2 1.4-3 2.5-4 2.3-3 2.4-2.6zM42.1 127.2l4 0.7 1 1.8 3.6 14.5 2.6 12 1.6 6 1.3 4 1.9 4.8 3.1 6.2 3.9 5.8 5 5.8 21.4 20.4 6.6 5.7 6 4.3 3.3 2 3.7 1.9 7 2.7 8 2.2 6.5 1.2 9.1 1 13.4 0.9 3 0.6 2 0.7 3 1.6 1.6 1.2 1.6 6-124.2 0z"/>
<path fill="#b1ff4e" d="M136.1 82.3l2.9-2.1 3.1-1.6 4-1.6 4-1.1 5-1.1 5-0.7 5-0.4 5 0.1 4 0.4 3 0.6 4 1.2 2.9 1.2 3.1 1.7 3 2.1 2.6 2.2 2.4 2.3 3 3.6 2.1 3.1 2.1 4 1.6 4 1.4 5 1 5 0.6 5 0.1 4-0.2 4-0.6 3-0.9 3-1.2 2.8-3.3 5.2-4.4 6-2.3 2.5-2 1.5-2 0.9-5 0.7-4 0.2-39-6.8-1.5-1-15.5-35.9-0.2-1.1-0.1-2 0.4-3 0.8-3 0.8-2 1.7-3 2.9-4 2.6-3zM42.1 128.7l3 0.4 1 0.5 1 2.1 5.8 24.5 2 7 1.4 4 1.8 4.5 2 4.1 2 3.4 4 5.6 4 4.5 4 4 18 16.9 7 5.9 5.9 4.1 6.1 3.3 6.9 2.7 6.1 1.7 6 1.3 7.3 1 15.7 1.2 3 0.6 3 0.9 4.3 2.3 1.6 6-122.9 0z"/>
<path fill="#bfff40" d="M136.7 83.2l2.7-2 2.7-1.5 4-1.6 4-1.1 5-1.1 5-0.7 5-0.3 5 0 4 0.4 3 0.5 3 0.9 3 1.1 3 1.5 3 2 3 2.4 2.6 2.5 2.5 3 2.1 3 1.8 3.4 1.5 3.6 1.6 5 1.1 5 0.6 5 0.2 4-0.1 3-0.4 3-0.7 3-1.2 3-2.9 5-4.2 6-2.5 3-2 1.6-2 0.9-4 0.7-4 0.3-40-5.6-1.5-0.9-14.3-37-0.1-2 0.4-3 0.8-3 0.8-2 1.7-3 2.2-3.1 2.5-2.9zM42.1 130.1l3 0.4 1 0.8 1 2.4 2 8.8 3.5 13.7 2 7 1.5 4.3 1.9 4.7 2.1 4.2 2 3.4 3.1 4.4 4.9 5.6 4 4 17.4 16.4 6.6 5.6 6.2 4.4 5.8 3.2 6.9 2.8 6.7 2 4.5 1 7.9 1.2 17 1.6 3 0.7 3 1.1 2.8 1.4 0.7 1 1.2 5-121.7 0z"/>
<path fill="#cdff32" d="M137.1 84.3l2.8-2.1 2.2-1.3 3-1.3 4-1.3 5-1 6-0.9 5-0.3 5 0 4 0.4 3 0.5 3 0.8 3 1.1 3 1.5 3 1.9 2.4 1.9 2.6 2.5 2.9 3.5 1.9 3 1.5 3 1.6 4 1.3 4 1.1 5 0.7 5 0.1 4-0.1 3-0.5 3-0.5 2-1 2.6-1.8 3.4-3.9 6-2.1 3-1.7 2-1.5 1.2-2 1-4 0.6-4 0.4-40-4.3-1.4-0.9-13-37-0.1-1 0.4-4 0.9-3 0.8-2 1.7-3 1.7-2.4 2.1-2.6zM42.1 131.6l3 0.3 1.1 1.3 0.9 2.5 2 8.7 2.8 10.8 2.7 9 1.5 4.1 2 4.7 2 4 2 3.3 4 5.6 4 4.5 21 19.9 5.6 4.9 5.4 4 4.9 3 5.1 2.5 7 2.6 8 2 9 1.5 14.7 1.4 4.6 1 4.7 1.9 1.4 1.1 1 5-120.4 0z"/>
<path fill="#dcff23" d="M137.9 85.2l2.5-2 2.7-1.6 3-1.3 3-0.9 5-1 5-0.7 5-0.4 5-0.1 4 0.3 4 0.6 3 0.8 3 1.1 2.5 1.2 2.5 1.5 2 1.5 3 2.7 2.8 3.3 2 3 1.6 3 1.6 4 1.3 4 1.1 5 0.6 4 0.2 4-0.1 3-0.4 3-0.7 2.5-1 2.4-2.2 4.1-3.7 6-1.4 2-1.7 1.9-1.4 1.1-1.6 0.8-4 0.7-4 0.3-40-3-1.4-0.8-11.7-38 0.4-4 0.7-2.4 1-2.6 1.1-2 1.9-2.8 1.8-2.2zM42.1 133.1l3 0.2 1 1.4 1 2.9 2 8.5 2.7 10.1 2.5 8 1.9 5 1.7 4 2 4 2.2 3.6 4 5.6 4 4.5 21.4 20.3 4.6 4 5.4 4 5.6 3.4 5.4 2.6 6.6 2.4 8 2.1 8 1.3 14 1.5 3 0.5 3 0.8 3.5 1.4 1.7 1 1 5-119.2 0z"/>
<path fill="#eaff15" d="M138.5 86.2l2.6-2.1 3-1.7 3-1.2 3-0.9 4-0.7 5-0.7 5-0.3 5-0.1 4 0.2 3 0.5 3 0.6 3 1 3 1.3 2 1.2 2.7 1.9 2.3 2 2.7 3 2 3 1.6 3 1.7 3.9 1.4 4.1 1 4 0.6 4 0.3 4-0.3 5-0.7 3-0.7 2-2 4-3.4 6-1.3 2-1.9 2.4-2 1.5-1 0.4-4 0.8-4 0.3-40-1.6-1.4-0.8-10.3-38 0.1-2 0.3-2 0.6-2 1.2-3 2.4-4zM42.1 134.5l3 0.2 1 1.7 1 3.1 2 8.2 2.1 7.5 2.9 9.3 2 5.3 2 4.4 2 3.8 2 3.3 4 5.6 4 4.5 21 19.9 5.7 4.9 4.3 3.2 5 3.1 5.5 2.7 6.5 2.4 8 2.2 8 1.4 15 1.8 5 1.2 4.9 2 1.1 5-118 0z"/>
<path fill="#f8ff07" d="M139.3 87.2l2.4-2 2.4-1.5 3-1.3 3-0.9 4-0.7 4-0.5 6-0.5 5-0.1 6 0.5 3 0.6 3 0.9 3 1.2 2.3 1.3 2.7 1.8 2 1.7 2.3 2.5 2.2 3 1.7 3 1.8 3.9 1.1 3.1 1.1 4 0.8 4 0.4 4-0.3 5-1.1 4.2-1.7 3.8-3.2 6-1.8 3-1.3 1.7-1.4 1.3-1.6 0.8-4 0.9-4 0.3-40-0.3-1.3-0.7-8.9-39 0.2-2 0.4-2 1.6-4 2-3.3zM42.1 136l3 0.2 1 1.9 1 3.1 3 11.5 3.9 12.5 2.1 5.3 2 4.3 4 7 4 5.6 4 4.5 4 4 17.4 16.3 4.7 4 4.9 3.6 5 3.1 5 2.4 7 2.7 7 1.9 8 1.5 14.2 1.8 3.8 0.8 3 0.9 3.3 1.3 0.7 1 0.7 4-116.7 0z"/>
<path fill="#fff800" d="M140.1 88.2l2-1.8 2-1.3 3-1.4 3-0.9 3-0.7 5-0.6 6-0.3 5-0.1 6 0.4 3 0.6 3 0.9 2.8 1.2 2.2 1.2 2.7 1.8 2.3 2 2 2.3 1.9 2.7 1.8 3 1.3 3 1.5 4 1 4 0.7 4 0.2 3-0.1 3-0.3 2-0.5 2-1.1 3-1.9 4-2.5 4.9-1.3 2.1-1.7 2-1 0.8-2 0.8-4 0.7-3 0.3-40 1.1-1.3-0.7-7.5-39 0.2-2 0.5-2 1.6-4 1.9-3zM42.1 137.4l3 0.2 1 2.1 1 3.1 3 11.2 4 12.2 2 4.9 1.9 4.1 4.1 7.1 4 5.5 4 4.6 4 4 16.8 15.8 5.2 4.4 5 3.6 4.9 3 5.1 2.5 6.7 2.5 7.3 2 7 1.3 14 2 3.5 0.7 3.5 1 2.6 1 1.2 1 0.7 4-115.5 0z"/>
<path fill="#ffea00" d="M140.1 90.1l2-1.9 2.7-2 2.3-1.1 2.5-0.9 3.5-0.8 3-0.4 10-0.5 7 0.1 3 0.4 3 0.7 3 1.1 3 1.4 2 1.2 2.3 1.8 1.7 1.7 2 2.4 1.9 2.9 1.6 3 1.5 3.6 1.1 3.4 0.9 4 0.3 3 0.1 3-0.2 2-0.4 2-1 3-1.6 4-2.2 4.7-1.3 2.3-1.7 2.2-1 0.9-1 0.6-4 0.9-3 0.5-39 2.5-2 0-1.2-0.6-6-39 0-1 0.4-2 1-3 1.5-3zM42.1 138.9l3 0.2 1 2.1 1 3.1 3 10.8 3.7 11.1 2.1 5 2.2 4.7 4 6.9 4 5.5 4 4.6 4 4 16.3 15.3 5.7 4.8 5 3.6 5 3 5 2.4 7 2.6 7 1.9 7 1.4 13 1.9 4 0.9 5 1.5 1.6 1 0.6 4-114.2 0z"/>
<path fill="#ffdc00" d="M141.1 91.1l1.9-1.9 2.1-1.5 2.7-1.5 2.3-0.8 3-0.7 3-0.5 8-0.3 8 0.1 3 0.3 3 0.6 3 0.9 3 1.3 2 1.2 2.6 1.9 2 2 1.7 2 1.7 2.5 1.9 3.5 1.2 3 1 3 0.7 3 0.4 3 0.1 3-0.2 2-1.2 5-2.9 7.2-1.5 2.8-1.5 2.3-1 1-1.1 0.7-3.7 1-3.2 0.5-39 3.9-2 0.1-1.2-0.5-4.5-40 0.4-2 1.1-3 1.6-3zM42.1 140.4l3 0.2 2 5.1 4 13.6 2.8 7.9 2.2 5 1.9 4 4.1 7.1 4 5.5 5 5.6 19 18 5 4.3 5 3.7 5 3.1 5.6 2.7 6.4 2.4 7 2 7 1.4 13.6 2.2 3.4 0.8 4 1.2 2.4 1 0.5 4-112.9 0z"/>
<path fill="#ffcd00" d="M142.1 92.2l3-2.8 2-1.3 2-1 2-0.6 3-0.7 6-0.5 11 0.1 6 0.7 3 0.8 3 1.2 3 1.8 2 1.5 2 1.9 2 2.5 1.6 2.4 1.4 2.7 2 5.4 0.7 2.9 0.4 3-0.1 4-1.4 6-2.6 6.6-1.3 2.4-1.4 2-1.3 1.1-1 0.5-6 1.3-39 5.4-2 0.2-1.2-0.5-2.8-40 0.4-2 0.7-2 1.5-3zM42.1 141.8l2 0 1 0.2 1 2.2 1 2.8 3 10.2 4 11 4 8.7 4 6.8 4 5.5 5 5.7 19 18 5.1 4.3 4.9 3.6 5 3 4.8 2.4 6.2 2.4 7 2.1 7 1.5 14 2.4 7 1.8 2.1 0.8 0.5 4-111.6 0z"/>
<path fill="#ffbf00" d="M143.3 93.2l1.8-1.9 1.5-1.1 1.6-1 2.1-1 2.8-0.8 2-0.4 5-0.4 12 0.4 5 0.7 2 0.5 3 1.1 3 1.6 2 1.4 2 1.8 1.8 2.1 2.5 4 1.4 3 1.1 3 0.9 5 0 4-1.2 6-2.1 6-1.4 2.7-1 1.4-1 1-1 0.6-6 1.5-37.6 6.8-3.4 0.4-1.1-0.4-1.2-40 0.4-2 0.8-2zM42.1 143.3l3 0.2 2 4.8 4 12.8 3.5 9.1 2.4 5 2.1 4 4 6.4 4 5.3 4 4.5 5 4.9 13.7 12.9 4.8 4 5.5 4 5 3 4 2 7 2.8 7 2 6 1.3 14 2.5 7 1.9 1.4 0.5 0.6 1 0.3 3-110.3 0z"/>
<path fill="#ffb100" d="M188.1 95.1l3 3.6 2 3.6 1 2.4 0.7 2.5 0.6 4-0.2 5-1 5-0.9 3-1.2 2.8-1 1.7-1 1.3-1 0.8-1 0.5-5 1.3-38.5 8.6-2.5 0.4-1.1-0.4 0.6-40 0.5-2 0.8-2 1.9-3 1.3-1.5 1.8-1.5 1.7-1 2.4-1 2.1-0.6 5-0.6 6 0.1 9 0.8 5 1 3 1.1 2 1 2 1.4zM42.1 144.8l3 0.1 2 4.7 4 12.3 3.3 8.3 2.3 5 2.1 4 4.3 6.9 4 5.2 5 5.6 17.2 16.3 4.7 4 5.1 3.7 5 3.1 4.2 2.2 6.8 2.7 7 2.2 6 1.4 14.7 2.7 7.1 2 0.9 1 0.3 3-109 0z"/>
<path fill="#ffa300" d="M187.1 96.3l1.8 1.9 1.2 1.6 1.9 3.4 1.3 4 0.5 4-0.1 5-0.9 5-1.7 4.4-1 1.7-1 1.1-1.2 0.8-4.8 1.5-39.1 10.5-1.9 0.3-1-0.3 2.5-40 0.5-2 1-1.9 2-2.9 1-1.1 1.4-1.1 1.6-0.9 2-0.8 2-0.6 4-0.5 6 0.2 9 1 5 1.1 4 1.7 2 1.2zM42.1 146.3l3-0.1 2 4.6 3.8 11.4 3.7 9 3.9 8 4.6 7.3 4 5.2 5 5.6 16.6 15.9 4.8 4 5.4 4 4.9 3 4.3 2.2 6.8 2.8 6.5 2 7.7 1.8 11.6 2.2 7.5 2 1.3 1 0.2 3-107.6 0z"/>
<path fill="#ff9500" d="M187.1 98.7l2 2.7 1 1.8 0.8 2 1 4 0.3 4-0.2 4-0.9 4-1.2 3-0.8 1.3-1 1.1-1 0.6-43.5 14-1.5 0.3-1-0.3 4.6-40 0.4-1.3 0.9-1.7 1.4-2 1.7-2 1.3-1 1.7-0.9 2-0.7 2-0.5 4-0.3 6 0.4 7 1.2 6 1.7 2 0.8 2 1.2zM42.1 147.9l3-0.2 1 1.8 1 2.5 4.7 13.2 3.4 8 4.2 8 4.6 7 4.1 5.1 5 5.5 10 9.7 6.2 5.7 4.9 4 5.6 4 5.1 3 4.1 2 5 2 6.3 2 7.8 1.9 12 2.4 6.4 1.7 1.6 1 0.2 3-106.2 0z"/>
<path fill="#ff8700" d="M185.6 100.2l1.5 2 1.6 3 1 3 0.7 4 0 4-0.6 3-1 3-0.7 1.1-1 1.1-1 0.6-43 16.2-1 0.2-0.8-0.2 0.8-5.6 6-34.4 1.6-3 2.7-3 1.3-1 1.4-0.7 3-0.8 2-0.2 3-0.1 5 0.6 5.9 1.2 5.1 1.7 2 1 2 1.2zM42.1 149.4l3-0.2 1 1.6 5.8 15.4 3.2 7.3 4.1 7.7 4.6 7 4.3 5.6 5 5.5 9 8.7 6.7 6.2 4.8 4 5.5 3.9 5 3 4.2 2.1 4.9 2 6.9 2.2 7 1.8 13 2.7 4.6 1.3 2 1 0.2 3-104.8 0z"/>
<path fill="#ff7800" d="M184.1 102.1l1.6 2.1 1.4 2.8 0.7 2.2 0.6 3 0 3-0.3 2.2-0.9 2.8-1.1 1.6-1 0.7-42.3 18.7-0.7 0.1-0.6-0.1 0.6-3.8 8.4-35.2 0.4-1 1.2-1.8 3-3.1 2-1.2 2-0.6 1.9-0.3 4.1 0 4 0.7 5 1.3 4 1.6 3 1.7zM42.1 151l3-0.3 1 1.3 2 4.8 4 10.4 3.1 7 4.3 8 4.6 6.9 4 5.1 5 5.5 8.7 8.5 6.5 6 4.8 4 5 3.6 5 3.1 4.6 2.3 4.8 2 6.6 2.2 5 1.4 14 3.1 4.9 1.3 2.3 1 0.1 3-103.3 0z"/>
<path fill="#ff6a00" d="M181.7 103.2l1.6 2 1.2 2 0.8 2 0.5 2 0.2 3-0.3 2-0.6 1.8-1 1.4-2 1.2-37.6 19.6-1.4 0.5-0.5 0.5-0.9 0 0.4-2.7 11.3-35.3 1.1-2 1.6-1.7 2.9-2.3 2.1-0.8 3-0.2 3 0.2 4 0.9 4.8 1.9 3.4 2zM42.1 152.6l3-0.3 1 0.9 2 4.6 3.7 9.4 3.3 7.4 4.1 7.6 4.9 7.3 4 5.1 5 5.5 8.2 8.1 6.8 6.3 5 4.1 5 3.6 4.9 3 4 2 5.1 2.1 7 2.4 7 1.8 11.4 2.7 4.6 1.3 1.7 0.7 0.1 3-101.8 0z"/>
<path fill="#ff5c00" d="M178.7 104.2l1.4 1.5 1 1.5 1.3 3 0.3 3-0.4 2-0.5 1-1.7 1.4-36.2 22.6-0.8 0.3-0.8 0.7-0.3 0 0.1-1.8 14-33.5 1-2.1 1.3-1.6 2.6-2 1.9-1 2.2-0.4 2 0 3 0.6 3 1.1 3.1 1.7zM42.1 154.2l3-0.3 1 0.6 2 4.3 4.7 11.4 3.3 6.9 4.1 7.1 4.9 7 4 4.9 5 5.5 7 6.9 7 6.4 5 4.1 4.4 3.2 5 3 3.9 2 5.7 2.4 6 2.1 7 1.9 14.5 3.6 2.6 1 0.1 3-100.2 0z"/>
<path fill="#ff4e00" d="M175.7 106.2l1.5 2 0.7 2 0.1 1-0.1 1-0.8 1.3-5 3.8-28.9 22.9-1.1 0.4 0-0.5 0.7-0.9 0.3-0.9 18-31.6 1-1.2 1.6-1.3 1.4-0.9 1-0.4 2-0.3 2 0.3 2 0.7 2 1.2zM42.1 155.9l3-0.4 1 0.2 2 4 4.5 10.5 3.3 7 4.7 8 5 7 4.5 5.4 5 5.4 7 6.9 6 5.4 7.4 5.9 4.7 3 3.9 2.2 7 3.1 6 2.1 7 2.1 13.7 3.5 2.8 1 0 3-98.5 0z"/>
<path fill="#ff4000" d="M42.1 157.7l4-0.7 2 3.7 4.6 10.5 3 6 3.3 6 3.3 5 4.5 6 6.2 7 8.1 8.2 7 6.4 5 4 4.9 3.4 5.2 3 4.9 2.3 5 2 6 2 17 4.7 2.7 1-0.1 3-96.6 0z"/>
<path fill="#ff3200" d="M42.1 159.4l4-0.7 1 1.1 8.8 18.4 3.2 5.6 3.6 5.4 4.6 6 5.3 6 7.5 7.6 7 6.5 4.6 3.9 4.2 3 5.2 3.1 5 2.6 4 1.7 6 2.2 6 2 12.4 3.4 2.4 1-0.1 3-94.7 0z"/>
<path fill="#ff2300" d="M42.1 161.3l4-0.8 1 0.4 6.5 13.3 3.1 6 3 5 3.4 5 4.7 6 4.4 5 7.9 8.1 7 6.5 4.1 3.4 4.2 3 4.9 3 4.8 2.5 4 1.8 6 2.3 6 2 11.7 3.4 2 1-0.2 3-92.5 0z"/>
<path fill="#ff1500" d="M42.1 163.2l5-1.1 2 3.6 7.4 14.5 3.5 6 3.5 5 3.9 5 5.7 6.4 8 8.1 5.9 5.5 5 4 4.4 3 5.7 3.3 4 2 5 2.1 6 2.3 14.1 4.3 1.3 1-0.2 3-90.2 0z"/>
<path fill="#ff0700" d="M42.1 165.2l5-1.2 1 0.9 8.6 16.3 3 5 4.4 6.3 4 5 5.1 5.7 7.9 8 5.3 5 3.7 3 5 3.5 5 3 4 2.1 4 1.9 7 2.8 12 4 2.4 0.7 0.5 1-0.3 3-87.6 0z"/>
<path fill="#f80000" d="M42.1 167.3l5-1.3 1 0 9.5 17.2 3.1 5 3.4 4.8 4 5 5 5.6 6.4 6.6 5.2 5 3.6 3 4.8 3.5 5 3.2 5 2.8 9 4.1 15.2 5.4-0.6 4-84.6 0z"/>
<path fill="#ea0000" d="M42.1 169.6l6-1.7 1 0.8 8.7 15.5 3.9 6 2.9 4 4.5 5.5 4 4.5 5.8 6 5.3 5 3.9 3.3 4 3 5 3.2 4 2.3 5 2.6 5 2.2 10 3.8 2.1 0.6 0.8 1-0.7 4-81.2 0z"/>
<path fill="#dc0000" d="M42.1 172l7-2 1 1.4 7.3 12.8 5.3 8 6.4 8.1 8.2 8.9 4 4 3.8 3.3 5 4 5 3.4 5 3 5 2.6 7 3.2 5 2 1.7 0.5 0.3 0.5 1.1 0.5-1.1 5-77 0z"/>
<path fill="#cd0000" d="M42.1 174.6l7-2.3 1 0.2 7.5 12.7 4 6 6 8 6.5 7.4 4.5 4.6 4.5 4.2 4 3.3 5 3.7 5 3.3 5 2.8 4 2 6.1 2.7 0.9 0.6 1.5 0.4 0.5 0.8 0.4 0.2-1.6 6-71.8 0z"/>
<path fill="#bf0000" d="M42.1 177.5l8-2.9 1 0.5 6.7 11.1 5.5 8 6.8 8.6 7.8 8.4 7.2 6.5 7 5.3 6 3.8 7 3.9 1.2 0.5 0.8 0.6 1.4 0.4 0.6 0.9 0.5 0.1-2.7 8-64.8 0z"/>
<path fill="#b10000" d="M42.1 180.9l9-3.6 1 0.5 6.5 10.4 4.8 7 5.7 7.2 6 6.7 7 6.8 6 4.9 4 2.9 6 3.9 1.2 0.6 0.8 0.7 1 0.3 1.1 1-4.9 11-55.2 0z"/>
<path fill="#a30000" d="M42.1 185l10-4.4 1 0.1 7.6 11.5 2.9 4 3.8 5 5.1 6 4.6 4.8 5 4.7 6 4.9 3.5 2.6 0.5 0.7 1.1 0.3-0.1 1-8.5 15-42.5 0z"/>
<path fill="#950000" d="M54.1 184.6l1 0.3 8.6 12.3 6.3 8 4.1 4.7 7.3 7.3 1.7 2-16.5 22-24.5 0 0-50.8z"/>
<path fill="#870000" d="M58.1 190.9l0.1 0.3 0.9 0.7 3.6 5.3 8.5 11 0.2 1-29.3 28.3 0-37.9 15-8.7z"/><path fill="#00008f" fill-rule="evenodd" d="M41.1 36.2H248.1V243H41.1Z M45 142a96 96 0 1 0 192 0a96 96 0 1 0 -192 0Z"/><circle cx="147" cy="140.8" r="41.2" fill="#00008f"/></svg>
<svg style="position:absolute;left:285.5px;top:12.8px" width="102.9" height="53" viewBox="285.5 12.8 102.9 53"><rect x="284.5" y="11.8" width="104.5" height="55" fill="#000087"/>
<path fill="#000095" d="M284.5 11.8l103.6 0 0.9 2.5 0 37.3-2.5 6.6-2 3.8-3.4 4.8-96.6 0zM332.7 40.3l-0.7-0.2-11.9 0.7-2.2 0.5-0.9 0.4-0.7 0.6-0.2 0.5 0.2 0.5 0.4 0.5 1.3 0.6 2 0.4 2.5-0.2 2-0.4 2.5-0.9zM333.5 40.2l-0.3 0.1 0 0.5-1.3 2.5-1 3-0.1 1 0.2 0.9 0.5 0.5 0.5 0.2 0.5-0.1 0.6-0.5 0.6-1 0.3-1 0.2-1.5-0.2-2.5z"/>
<path fill="#0000a3" d="M284.5 11.8l103.4 0 1.1 3.2 0 35.5-1.1 3.3-1.4 3.5-2.5 4.6-3.7 4.9-95.8 0zM312.3 42.8l0.6 1 0.6 0.5 1.9 1 2.6 0.6 3-0.1 2.5-0.5 3-1.1 3-1.6 3.4-2.3-0.4-0.3-11-0.2-4.5 0.3-2 0.3-1.5 0.6-1 0.8zM333.5 40.2l-0.5 0.1 0 0.5-2.1 3.5-1 3-0.1 1.5 0.2 1 0.5 0.7 1 0.6 1-0.1 1-0.4 1-1.2 0.3-1.1 0.1-1.5-0.3-2.5-0.6-3z"/>
<path fill="#0000b1" d="M284.5 11.8l103.2 0 1.3 3.9 0 33.7-2 5.8-1.5 3.2-1.4 2.4-4.5 6-95.1 0zM309.4 41.3l-0.1 1 0.4 1 0.8 1 1.5 1 3 1.2 3.5 0.4 3.5-0.4 3-0.9 3-1.5 3.9-2.8 0.4 0-2 3-0.9 2-0.5 2.5 0.2 2 0.4 0.9 0.6 0.6 0.9 0.5 1 0.2 1.5-0.2 1-0.5 0.5-0.5 0.5-0.9 0.3-2.1-0.3-2.4-1.5-5.4-0.5-0.9-0.9-0.3-12.1-0.7-4.5 0-2.5 0.2-2.1 0.5-1.1 0.5z"/>
<path fill="#0000bf" d="M284.5 11.8l103 0 1.5 4.8 0 31.7-2 6-1.5 3.2-1.5 2.7-2 2.7-3.1 3.9-94.4 0zM305.3 40.3l-0.2 1 0.9 1.6 0.5 0.4 1 0.2 1.3 1.3 1.7 1.1 2 0.9 2 0.6 3 0.3 3.5-0.3 3-0.7 4.5-1.7 0.1 0.3-0.6 3-0.1 2 0.5 2 1.1 1.4 1 0.7 1 0.3 2 0.2 1-0.2 1-0.5 0.5-0.6 0.4-0.8 0.3-2.5-0.6-3.5-2.1-6-0.5-0.7-0.5-0.3-14-1.4-5-0.2-4 0.4-1.5 0.5-1 0.6-1.5 0.1z"/>
<path fill="#0000cd" d="M284.5 11.8l102.8 0 1 3 0.7 2.9 0 29.5-0.9 3.1-1.1 3.1-1.5 3.3-2 3.4-5.4 6.7-93.6 0zM302.5 39l-0.3 1.3 0.6 1.5 1.6 2 2.1 1.6 1.5 0.3 1.9 1.1 2.1 0.8 3.5 0.8 4.5-0.1 5.5-1.1 1 0 0.3 0.6 0.2 3 0.5 2 0.8 1.5 1.2 1.2 2 1 1.5 0.2 1.5 0 1-0.1 1-0.5 0.9-1.3 0.3-1 0-1.5-0.7-3.8-1.1-3.2-1.8-4.5-0.6-0.8-0.4-0.2-14.1-2-6-0.5-2.5 0.1-3 0.4-2-0.3-1 0-1 0.4z"/>
<path fill="#0000dc" d="M284.5 11.8l102.5 0 1.2 3.5 0.8 3.8 0 26.9-0.9 3.3-1.1 3.3-1.5 3.2-2 3.4-2 2.7-4.1 4.9-92.9 0zM300.7 37.8l-0.3 1-0.1 1 0.2 1 0.5 1 1.1 1.5 1.5 1.5 1.4 1.1 1.5 0.9 2 0.3 3.5 1.4 3 0.6 3.5 0.1 5.5-0.6 1 0.2 0.5 0.5 0.9 3.5 0.8 2 1.3 1.6 1.5 1.1 2.5 0.9 3 0.3 1-0.1 1-0.5 1-1.3 0.3-1 0-1.5-0.2-2-0.5-2-2.6-6.5-1.4-3-0.9-1-16.7-3-4.5-0.4-4 0.1-3-0.7-1.5 0.1-1 0.3-1 0.7z"/>
<path fill="#0000ea" d="M284.5 11.8l102.3 0 1.4 4.5 0.8 4.7 0 23.8-0.9 3.5-1.1 3.4-1.5 3.3-2 3.4-2 2.7-4.9 5.7-92.1 0zM299.1 36.8l-0.4 1-0.1 1.5 0.4 1.5 0.5 1 2.6 3 1.7 1.5 1.7 1.1 1.5 0.7 1.5 0.1 3 1 2.5 0.5 3 0.3 5-0.2 1.5 0.1 0.5 0.2 0.6 0.7 1.4 3.8 1 1.9 1.5 1.6 1.5 1.1 3 1.2 3 0.4 2-0.3 1-0.7 0.5-0.6 0.5-1.4 0.1-1.5-0.3-2-0.6-2.5-2.7-6.5-2.3-4.5-0.9-1-16.8-3.6-4.5-0.6-4-0.2-3.5-1.1-1.5 0.1-1.5 0.4-1.5 0.9z"/>
<path fill="#0000f8" d="M284.5 11.8l102.1 0 0.9 2.5 0.7 3 0.8 6.7 0 19.4-0.9 3.9-1.1 3.5-1.8 4-2.2 3.5-2.5 3.1-4.8 5.4-31.2 0-1.5-0.8-2-0.2-2.5 0.2-2.7 0.8-51.3 0zM298 35.3l-0.5 1.4-0.2 1.6 0.2 1.5 0.5 1.6 0.9 1.4 1.8 2 1.8 1.7 2 1.4 2.5 1.2 2 0.1 4 1.1 3.5 0.4 5 0.1 1.5 0.4 1 1.1 1.7 4 1.3 2.1 2 1.9 1.5 1 1.5 0.7 3 0.8 2.5 0.2 2-0.5 1.3-1.2 0.6-1.5 0.1-1.5-0.3-2-0.7-2.5-1.4-3.5-1.6-3.5-3-5.5-1-1.5-17-4.2-4.5-0.8-3.5-0.3-4-1.4-2 0-2 0.4-1.5 0.7z"/>
<path fill="#0007ff" d="M284.5 11.8l101.9 0 1 3 0.7 3.5 0.9 9.5 0 14-0.8 4-1.2 4.2-1.7 3.8-2.3 3.6-3 3.7-5.4 5.7-28 0-1.2-1.5-0.9-0.5-1.5-0.6-0.6-0.4 0.5-2 0.1-1.5-0.4-2.5-0.8-2.5-1.2-3-2-4-3.4-6-1.7-2.5-17-4.7-4-0.9-4-0.6-3.5-1.5-2-0.3-2 0.2-2 0.5-1 0.6-1 1.6-0.5 2.1 0.1 2.5 0.5 2 0.9 1.8 1.5 1.7 4 3.5 1.5 0.9 1.5 0.7 1 0.2 2 0.1 4.5 1 6.5 0.5 1.5 0.4 1.2 1.2 2.3 4.8 2 2.8 2.5 2.1 3.8 1.8-1.3 0.6-2.1 1.4-45.9 0z"/>
<path fill="#0015ff" d="M284.5 11.8l101.7 0 1.1 3.5 0.7 3.5 1 12.5-0.1 9.5-0.8 4.5-1.1 3.8-1.6 3.7-2.4 3.8-3 3.6-6.5 6.6-25.4 0-0.5-1-0.7-1-0.9-0.8-1.1-0.7-0.9-4.5-2-5-3.9-7-4.6-7-16.5-5.1-4-1.1-4-0.8-4-1.8-3-0.3-2.5 0.1-1.5 0.7-1 1-0.7 1.3-0.5 2-0.1 2 0.3 2.5 0.7 2 1.3 2.1 1.8 1.9 2.4 2 2.1 1.5 1.7 0.9 1.5 0.3 2 0 4 0.8 6 0.6 1 0.3 1 0.5 1.3 1.6 2.2 4.5 1 1.7 2.8 3.3-0.2 1.5-1.9 1-42.2 0z"/>
<path fill="#0023ff" d="M284.5 12.3l2.8-0.5 98.7 0 1 3.5 0.8 4 1.1 15-0.1 4-0.2 3-0.7 3.5-0.9 3.5-1.8 4-2.2 3.5-3 3.4-7.7 7.6-23 0-0.3-1-0.9-1.5-1.9-2-0.1-1-1.2-3-3.1-6-4.1-6.5-4.2-6-16.5-5.6-8-2.2-2.5-1.3-1.5-0.6-3.5-0.6-2.5 0.1-1.5 0.7-1.4 1.5-0.8 2-0.3 2 0 2.5 0.5 2.5 1 2.4 1.3 2.1 1.5 1.5 2.9 2.5 2.2 1.5 1.6 0.8 1.5 0.3 2.5-0.1 8 1.3 1.5 0.3 1 0.5 1 0.9 0.9 1.5 2.1 4.4 1.7 3.1 0.4 1.5-1.6 0.8-0.8 0.7-39.7 0z"/>
<path fill="#0032ff" d="M284.5 13l2.5-0.2 3 0.1 1-0.2 1.3-0.9 93.4 0 1.1 3.5 0.6 3.5 1.2 15 0 4-0.2 3-0.6 3.5-0.8 3-1 2.6-1 2-2.5 3.6-2.5 2.7-5 4.5-4 4.1-20.6 0-0.9-2.5-1.9-2.5-1.3-3-2.6-4.5-5.3-8-4.9-6.5-16-6-8-2.4-4-2.1-4.5-0.9-2.5 0-1.5 0.6-1.3 1.3-1 2-0.5 2.5 0.1 2.5 0.5 3 0.9 2.5 1.4 2.5 1.4 1.7 2.5 2.2 2.5 1.9 2 1.1 2 0.5 3-0.1 6 1 2 0.5 1.4 0.7 1.1 1.1 1 1.7 2.9 7.2-1.4 0.7-1.4 1.3-37.6 0z"/>
<path fill="#0040ff" d="M284.5 13.7l2 0 3 0.8 1 0.1 1.5-0.7 1.7-2.1 91.8 0 1 3.5 0.7 3.5 1.2 15 0 4-0.3 3-0.6 3.5-0.7 2.5-1.8 4.3-2.5 3.5-2.5 2.6-6 5-4.5 4.6-18 0-1-3-2-3-0.4-1-1.6-2.5-6.7-9.5-6.3-8.1-16-6.4-8-2.7-4-2.1-5-1.3-1.5-0.2-1.5 0-1.5 0.6-1 1.2-1.1 2.5-0.5 3 0.2 3 0.7 3.5 1 2.5 1.4 2.5 1.3 1.6 2 1.9 3 2.3 2 1.2 2.5 0.7 2-0.3 1.5 0.1 6 1.2 2 0.9 1 0.9 1.3 2 1.9 5 0.2 1-2.3 1.5-1.1 1-35.5 0z"/>
<path fill="#004eff" d="M284.5 14.4l2 0.2 3 1.6 1.5 0.1 1-0.4 1-0.8 1.9-3.3 90.4 0 1 3.5 0.6 3.5 1.2 15-0.1 6-0.5 3.3-0.7 2.7-0.8 2.4-1 2.1-2.5 3.4-2.5 2.5-6.5 5-5.4 5.6-15.5 0-1.1-3.4-2.5-4.1-9.6-12.5-5.9-7.1-15.5-6.7-8-3-4-2.1-7-2.4-2-0.5-1 0-1 0.6-1 1.7-1 3.9-0.3 3.1 0.2 3 0.7 3 1.1 3 1.3 2.5 1.5 1.9 2 2 3.3 2.6 2.2 1.3 2.5 0.7 2.5-0.4 1.5 0.2 4.5 1 2 0.8 1.5 1.4 0.9 1.5 1.8 4.5-0.1 0.5-4.5 3-33.1 0z"/>
<path fill="#005cff" d="M284.5 15.1l1 0.2 1 0.4 3 2.2 3 0.9 0.5 0 0.5-0.3 0.5-0.9 1.9-5.8 89.1 0 0.9 3 0.7 3.5 1.3 15.5 0 3.5-0.2 3-0.5 3-0.7 2.5-1.5 3.6-1.5 2.2-1.5 1.8-2 1.7-5.4 3.7-1.9 1.5-2.2 2.2-3.8 4.3-13 0-1.1-3.5-2.7-4.5-16.4-19.1-15-6.9-8.5-3.5-3.5-2-6.5-2.7-4-2.7-1-0.4-0.5-0.1-0.5 0.4-0.8 3-1 6.5-0.1 3.5 0.3 3 0.6 2.6 1.1 2.9 1.4 2.6 1.8 2.4 2 2 3.2 2.6 2.5 1.5 2.5 0.7 1.5 0 1.5-0.5 1.5 0.2 3.6 1 1.9 1 1 0.9 0.8 1.1 1.7 4-0.2 0.5-0.8 0.7-3.5 1.6-1.8 1.2-30.2 0z"/>
<path fill="#006aff" d="M296.8 11.8l88 0 0.9 3 0.6 3.5 1.3 16.5 0 3.5-0.2 2.5-0.5 2.5-0.9 3-1.5 3-2.5 3.1-2.5 2.1-7.5 4.8-2 2-4.8 5.5-10.2 0-1.4-4-2.8-4.5-5.3-5.5-12-13.1-14.5-7.2-8.5-3.7-3.5-2-5.3-2.5-2.2-1.6-0.9-0.9-1.4-2-0.8-2-0.1-2.5zM284.5 15.9l1 0.3 0.9 0.6 4.2 4 0.7 1.5 0.5 3-0.4 8.5 0.4 4 0.7 2.8 0.8 2.2 1.2 2.5 1.3 2 1.7 2.1 2.5 2.3 3 2.3 2.5 1.4 1.5 0.6 1.5 0.1 2.5-0.8 3.5 1 2.1 1 1.5 1.5 1.3 2.5 0.3 1-0.5 1-5.2 1.6-1.4 0.9-0.8 1-27.3 0z"/>
<path fill="#0078ff" d="M297.7 11.8l86.9 0 0.8 3 0.6 3.5 1.4 16 0 3-0.3 3-0.4 2.5-0.7 2.4-1.5 3.1-2.5 3.1-3 2.3-8 4.8-1.8 1.8-3.7 4.5-1.9 2-7.1 0-1.7-4.5-3.1-4.5-6.2-5.8-12-12.3-13.5-7.1-9.5-4.6-6.1-3.2-2.4-1.4-1.3-1.1-1.6-2-0.8-1.5-0.5-1.5-0.3-2.5zM284.5 16.7l1.1 0.6 1 1 2.6 3 1 2 0.6 3 0.1 8 0.6 4.5 1.5 4.7 1.2 2.3 1.3 2 2 2.3 2.5 2.3 3.5 2.7 2.5 1.5 1.5 0.6 1.5 0.2 1-0.3 1.5-1 2.2 0.7 2 1 1.3 1.2 1.1 1.8 0.3 1-0.4 0.9-4.5 0.5-1.5 0.4-1 0.6-0.5 0.5-0.5 0.8-0.4 1.3-25.1 0z"/>
<path fill="#0087ff" d="M298.6 11.8l85.7 0 0.7 2.5 0.6 3 1.5 16.5-0.1 5.5-0.5 3-0.6 2-0.9 2.1-1 1.7-2.5 2.8-3 2.1-8.5 4.8-1.6 1.5-3.9 4.7-2 1.9-1.6 0.9-1.9 0-1.1-1-2-4.5-3.4-4-7-6-12-11.6-13.5-7.5-14.9-7.9-3-2-1.6-2-1.5-3-0.4-2.5zM284.5 17.6l1.4 1.2 2.6 3.5 1.1 2.5 0.5 3 0.2 6 0.4 3.5 0.8 3.5 1.3 3.5 2.2 3.6 2.9 3.4 4.1 3.5 7.2 5.5 0.1 1-1.1 3.5-0.3 2-23.4 0zM311.8 57.3l0.2-0.2 1 0.3 2.4 1.4 1.3 1.5 0.3 1.5-1.5 0-2-0.3-1.8-0.7-0.6-0.5-0.2-0.5 0-0.5z"/>
<path fill="#0095ff" d="M299.5 11.8l84.5 0 0.7 2.5 0.6 3 1.5 17-0.2 5.5-0.5 2.5-0.6 1.9-1 2-1 1.5-1 1.2-1.5 1.3-3.5 2.3-8.7 4.8-2.4 2-3.9 4.1-1 0.6-1 0.1-1-0.8-1.2-2-0.8-1-4.7-4-3.3-2.4-3.5-2.8-12.5-11.4-14-8.2-13.5-7.5-2.5-1.7-1.9-2-1.3-2.5-0.8-3zM284.5 18.6l1.1 1.2 2.1 3 1.2 2.5 0.6 3 0.3 6 0.5 3.5 0.9 3.5 1.3 3.5 1.8 3 2.2 2.8 2 1.9 5.4 4.8 2.2 2.5 0.5 1 0.3 1.5-0.2 4.5-22.2 0zM313.2 58.8l0.3-0.2 0.5 0.3 1.3 1.4-0.3 0.2-1-0.6z"/>
<path fill="#00a3ff" d="M300.3 11.8l83.5 0 0.7 2.5 0.5 3 0.5 8 1 8.5-0.1 5-0.4 2.4-0.5 1.7-1.5 3-2 2.4-2.5 1.9-4 2.4-6.3 3.2-4.7 2.7-1.5 0.6-2 0-3.5-0.9-3-1.7-7-4.9-4.5-3.6-9.5-8.3-13-8.1-13.6-7.8-2.2-1.5-2-2-1.3-2.5-0.9-3zM284.5 19.6l3 4.6 0.9 2.1 0.5 2.5 0.4 5.5 0.5 3.5 0.9 3.5 1 3 1.6 3 2.2 2.9 2 2.1 4.9 4.5 2.1 2.5 0.7 1.5 0.2 1 0.1 5-21 0z"/>
<path fill="#00b1ff" d="M301.1 11.8l82.4 0 1.1 5 0.6 8.5 0.9 8 0 5-0.7 3.5-1.4 2.9-2 2.5-3 2.3-5.5 3.2-6.5 3-3 1-2 0.3-2.5 0-1.5-0.1-1.5-0.5-1.5-0.7-3.5-2.1-4.5-3-13.5-11-14-9.1-7-4.3-5.2-2.9-1.8-1.3-1.7-1.7-1.5-2.5-1-3zM284.5 20.8l2.7 4.5 0.8 2 0.4 2 1 8.5 0.8 3.5 1 3 1.5 3 1.8 2.5 2.3 2.5 4.7 4.5 1.6 2 0.7 1.5 0.4 1.5 0.3 5-20 0z"/>
<path fill="#00bfff" d="M301.8 11.8l81.4 0 0.7 2.5 0.3 2.5 0.6 8 0.9 8.5 0 4.5-0.2 1.5-0.6 2-1.4 3-1 1.3-1.5 1.4-5 3.3-5 2.7-4.5 1.8-3.5 0.7-4.5 0.2-3-0.7-7.5-4.3-5-3.6-9-6.9-0.5-0.6-15-10.2-6-3.9-3.2-1.7-3-2-1.9-2-1.2-2-1-3zM284.5 22.1l2.3 4.2 0.7 1.8 1.5 10.2 1 4 0.9 2.5 1.3 2.5 1.8 2.7 2.1 2.3 4.5 4.5 1.5 2 1 2.5 0.5 5.5-19.1 0z"/>
<path fill="#00cdff" d="M302.6 11.8l80.3 0 1 4.5 0.5 8.5 0.9 8.5 0 4-0.8 3.5-1.5 2.9-2 2.2-5 3.5-4.5 2.4-4 1.7-3 0.7-5 0.6-2-0.1-1.5-0.4-5-2.5-4.5-2.7-25.5-18.5-8-5.5-3-1.6-2.6-1.7-2.1-2-1.2-2-1.1-3zM284.5 23.4l1.8 3.4 0.8 2 1.7 10.5 0.7 3 1 2.9 1.4 2.6 1.7 2.5 6.2 6.5 1.4 2 0.9 2.5 0.5 5.5-18.1 0z"/>
<path fill="#00dcff" d="M303.3 11.8l79.3 0 0.9 4.5 0.5 8 0.8 8.5-0.1 4-0.7 3.5-1.5 2.8-2 2.1-4.5 3.3-4.5 2.5-4 1.6-3 0.8-5 0.5-2-0.1-1.5-0.3-6-2.9-6.5-4-9.5-6.4-0.5-0.6-9.5-7.2-10.5-7.7-3-1.6-2.7-1.8-1.6-1.5-1.3-2-0.9-2.5zM284.5 24.8l1.5 2.9 0.6 1.6 1.9 10.5 1.5 5.5 1 2.1 1.6 2.4 2.1 2.5 4.3 4.5 1.4 2 0.8 2.5 0.6 5.5-17.3 0z"/>
<path fill="#00eaff" d="M304.1 11.8l78.2 0 0.8 4.5 0.5 8.5 0.7 8-0.2 4-0.6 2.8-1.5 2.7-1.8 2-4.2 3.2-4.5 2.7-3.5 1.5-3 0.8-5 0.6-3.5-0.1-4.5-2-4-2.1-14-8.8-9.5-7.6-10.6-8.2-2.9-1.5-2.5-1.7-1.8-1.8-1.2-2-0.9-2.5zM284.5 26.2l1.2 2.6 0.5 1.5 2.3 11.3 1.4 4.7 1 2 1 1.5 6.3 7 1.4 2 0.7 2 0.3 4.5 0.5 1.5-16.6 0z"/>
<path fill="#00f8ff" d="M304.8 11.8l77.2 0 0.7 4.5 0.4 8.5 0.6 7.5-0.1 3.5-0.6 3-1.3 2.5-1.7 2-4 3.3-4 2.6-4 1.8-2.5 0.7-5 0.7-3.5 0-4.5-1.8-4.5-2.2-14-8.3-9-7.6-10.9-8.7-2.8-1.5-2.2-1.5-1.5-1.5-1.3-2-0.9-2.5zM284.5 27.6l1.5 4.1 2.4 11.1 1.1 3.7 1 2.1 1 1.6 5.6 6.1 1.5 2 0.5 1 0.4 1.5 0.3 4 0.9 2-16.2 0z"/>
<path fill="#07fff8" d="M305.6 11.8l76 0 0.7 4.5 0.3 8.5 0.5 7-0.1 3.5-0.7 3-1.3 2.5-2.2 2.5-3.3 2.8-4 2.6-3.5 1.6-2.5 0.8-5 0.7-3.5-0.1-4.5-1.7-4.5-2.1-14-7.8-8.5-7.5-11-9.2-3-1.7-2.6-1.9-1.2-1.5-1.1-2-0.6-2zM284.5 29.2l1.1 3.1 2.6 11.5 1.3 3.9 1 1.9 1 1.5 4.8 5.2 1.5 2 0.8 2 0.4 3.6 1.3 2.9-15.8 0z"/>
<path fill="#15ffea" d="M306.4 11.8l74.9 0 0.6 4.5 0.2 8 0.4 7-0.1 3.5-0.7 3-0.7 1.5-1 1.5-3 3.2-3.6 2.8-3.9 2.2-3 1.2-3.5 0.7-5.5 0.4-6-2.2-3.5-1.6-14-7.4-9-8.2-10-8.8-3.5-2.1-2.1-1.7-1.2-1.5-0.8-1.5-0.6-2zM284.5 30.9l1.2 3.9 2.4 10 1.2 3.5 1.1 2 1 1.5 4.2 4.5 1.5 2 0.6 1.5 0.8 4 1.5 3-15.5 0z"/>
<path fill="#23ffdc" d="M307.1 11.8l73.8 0 0.6 4 0.5 15-0.2 3.5-0.6 2.5-0.6 1.5-0.9 1.5-3.2 3.7-3.5 2.8-4.4 2.5-1.6 0.7-2 0.6-4.5 0.5-2.5 0.1-3-0.9-7-2.8-14-6.9-8.5-8.1-10.5-9.7-3-1.6-2.2-1.9-1.1-1.5-0.7-1.5-0.5-1.5zM284.5 32.6l1.5 5 1.9 7.7 1.1 3.3 1 1.9 1 1.6 3.9 4.2 1.4 2 0.5 1 1.2 4.5 1.6 3-15.1 0z"/>
<path fill="#32ffcd" d="M307.9 11.8l72.6 0 0.5 4 0.4 14.5-0.2 3.5-0.6 2.5-0.8 2-1 1.5-2.8 3.3-3.5 2.8-4.5 2.6-1.5 0.6-2 0.5-6.5 0.6-3.5-1.1-7-2.7-13.5-6.3-18.5-18-3-1.8-2-1.7-1-1.3-0.8-1.5-0.4-1.5zM284.5 34.3l1.4 4.5 1.7 7 1.4 3.7 2 3.3 3.5 3.9 1.1 1.6 0.5 1 1.3 4 1.9 3.5-14.8 0z"/>
<path fill="#40ffbf" d="M308.6 11.8l71.5 0 0.5 4 0.3 14-0.3 3.5-0.5 2.5-0.9 2-0.9 1.5-1.3 1.8-1.5 1.6-3.5 2.9-4.5 2.6-3 0.9-6 0.6-5.5-1.6-6.5-2.5-12.5-5.5-18-18.3-3.2-2-1.7-1.5-0.8-1-0.8-1.5-0.5-1.5zM284.5 35.9l1 3 1.9 7.4 1.3 3.5 1.8 3.1 4.5 5.4 2 5 2 3.5-14.5 0z"/>
<path fill="#4effb1" d="M309.4 11.8l70.3 0 0.4 4.5 0.3 13-0.2 3-0.7 3-1.6 3.5-2.4 3.1-3.4 2.9-4.6 2.9-3 0.9-6 0.6-6-1.7-5.5-2.1-13-5.3-17.8-18.8-3.1-2-1.6-1.5-0.7-1-0.8-1.5zM284.5 37.3l2.5 9 1.6 4 1.9 3.3 4.2 5.2 2.2 5 1.8 3-14.2 0z"/>
<path fill="#5cffa3" d="M310.1 11.8l69.2 0 0.4 4.5 0.2 13-0.3 3-0.7 3-1.7 3.5-2.7 3.3-3 2.5-3 2-2 1-2.5 0.6-5.5 0.5-7.5-2.2-17-6.5-17.5-19.2-3-2-1.5-1.5-0.7-1-0.7-1.5zM284.5 38.8l2.3 8 1.6 4 2.1 3.4 3.6 4.6 2.4 5 1.9 3-13.9 0z"/>
<path fill="#6aff95" d="M310.8 11.8l68 0 0.4 4.5 0.2 12-0.3 3.5-0.7 3-1.6 3.5-1.3 1.8-1.5 1.7-2 1.7-3 2.2-3 1.6-2 0.4-5.5 0.4-4.5-1.1-5-1.6-15-5.4-0.8-0.7-5.7-6.9-10.5-11.8-2.5-1.8-1.6-1.5-0.8-1-0.7-1.5zM284.5 40.2l2.1 7.1 1.7 4 1.7 2.9 3.6 4.6 2.5 5 1.9 3-13.5 0z"/>
<path fill="#78ff87" d="M311.6 11.8l66.7 0 0.5 4.5 0.2 12-0.4 3.5-0.8 3-0.8 2-1.2 2-1.6 2-1.6 1.5-3.1 2.5-2 1.3-2 0.8-1.5 0.3-5 0.5-2.5-0.5-7.5-2.1-15-5.1-0.8-0.7-5.7-7.2-10-11.8-2.7-2-1.4-1.5-1.2-2zM284.5 41.6l1.9 6.2 1.8 4 1.8 3 3 4 2.7 5 2 3-13.2 0z"/>
<path fill="#87ff78" d="M312.4 11.8l65.5 0 0.4 4.5 0.2 11-0.2 3.5-0.9 3.5-0.8 2-1.2 2-1.4 1.8-1.6 1.7-3 2.5-1.9 1.3-2 0.9-1.5 0.3-5 0.4-2.5-0.5-7.5-2-15-4.7-0.8-0.7-5.7-7.6-9.5-11.6-2.8-2.3-1.2-1.3-1.1-2.2zM284.5 43.1l1.7 5.2 1.8 4 1.6 2.5 2.9 4 2.7 5 2 3-12.7 0z"/>
<path fill="#95ff6a" d="M313.2 11.8l64.2 0 0.5 5 0.2 10-0.3 4-0.9 3.5-0.9 2-1 1.7-1.4 1.8-1.6 1.6-2.7 2.4-1.8 1.3-1.5 0.7-2 0.5-4.5 0.4-2.5-0.3-7.5-1.9-15.5-4.5-0.7-0.7-5.3-7.3-9.6-12.2-3.6-3.5-1.1-2zM284.5 44.6l1.7 4.7 1.7 3.5 1.6 2.5 2.5 3.5 2.7 5 2.1 3-12.3 0z"/>
<path fill="#a3ff5c" d="M314 11.8l62.9 0 0.6 5.5 0.2 9-0.3 4-0.9 3.5-1.7 3.5-2.9 3.5-3.9 3.5-1.8 1-1.7 0.5-5 0.5-1.5-0.2-7.5-1.7-16.5-4.4-0.7-0.7-5.3-7.6-9.3-12.4-2.1-2-1.3-1.5-0.9-2zM284.5 46l1.5 3.8 1.8 3.5 3.7 5.5 2.7 5 2.1 3-11.8 0z"/>
<path fill="#b1ff4e" d="M314.8 11.8l61.6 0 0.7 6 0.2 7.5-0.3 4.5-0.9 3.5-1.6 3.5-2.8 3.5-3.7 3.5-1.7 1-1.8 0.5-5 0.5-1.5-0.2-7.5-1.5-16.5-4.1-0.7-0.7-4.8-7.3-9.5-13.1-2.8-3.1-1-2zM284.5 47.2l1.4 3.1 1.5 3 3.6 5.5 3 5.5 1.8 2.5-11.3 0z"/>
<path fill="#bfff40" d="M315.6 11.8l60.4 0 0.7 6.5 0.2 7-0.4 4.5-0.9 3.5-0.9 2-1.2 2-1.6 2-2.3 2.5-2.6 2.1-1.5 0.7-1 0.2-5 0.6-9-1.7-16.5-3.7-0.7-0.7-4.8-7.7-8.9-12.8-2.5-3-1-2zM284.5 48.2l2.8 5.6 3.2 5 3 5.5 1.7 2.5-10.7 0z"/>
<path fill="#cdff32" d="M316.5 11.8l59 0 0.7 6 0.3 6.5-0.4 5-0.9 3.5-0.8 2-1.2 2-3.2 4-2.5 2.3-1.1 0.7-1.4 0.5-4.5 0.5-2 0-7-1.3-17.5-3.6-0.7-0.6-5.8-9.7-7.6-11.3-2.2-3-0.7-1.5zM284.5 49.2l2.1 4.1 3.8 6 2.2 4.5 2.1 3-10.2 0z"/>
<path fill="#dcff23" d="M317.4 11.8l57.6 0 0.8 6 0.3 6-0.4 5-0.8 3.5-0.9 2-1.1 2-3 4-2.4 2.3-1.1 0.7-1.4 0.5-3.5 0.5-2.5 0-7-1-18-3.4-0.6-0.6-5.9-10.2-8.7-13.3-1-2zM284.5 50.1l2 3.7 3.1 5 2.5 5 2.1 3-9.7 0z"/>
<path fill="#eaff15" d="M318.3 11.8l56.2 0 0.9 5.5 0.3 6-0.3 5-0.9 3.6-1.9 3.9-3.3 4.5-2.3 2.1-2 0.9-3.5 0.5-2.5 0.1-25-4-0.6-0.6-5.4-10-8.4-13.5-0.9-2zM284.5 51l4.7 7.8 2.7 5.5 1.8 2.5-9.2 0z"/>
<path fill="#f8ff07" d="M319.2 11.8l54.8 0 1 5.5 0.3 5.5-0.3 5-1 4-1.7 3.5-3.1 4.5-2.2 2.1-2 1-3.5 0.4-2.5 0.1-25-3.5-0.6-0.6-4.9-9.7-8.1-13.8-0.8-2zM284.5 51.8l4.2 7 2.8 5.5 1.7 2.5-8.7 0z"/>
<path fill="#fff800" d="M320.1 11.8l53.4 0 1.1 5.5 0.3 5-0.3 5-1 4-1.6 3.5-3 4.5-2 2.1-2 1-3 0.4-2.5 0.1-25.5-3-0.6-0.6-4.4-9.4-7.6-13.6-1-2.5zM284.5 52.5l3.8 6.3 2.7 5.5 1.7 2.5-8.2 0z"/>
<path fill="#ffea00" d="M321 11.8l52 0 1.1 5 0.4 5-0.3 5-0.9 4-1.7 3.5-2.7 4.5-1.9 2.1-1 0.6-1 0.4-3 0.4-2.5 0.1-25.5-2.5-0.6-0.6-2.2-5.5-1.9-4-7.2-13.5-0.9-2.5zM284.5 53.2l3.3 5.6 2.7 5.3 1.8 2.7-7.8 0z"/>
<path fill="#ffdc00" d="M321.9 11.8l50.6 0 1.2 5 0.4 4.5-0.3 5-0.8 3.7-1.5 3.4-2.8 4.9-1.7 2-1 0.7-1 0.3-3 0.5-2.5 0.1-25.5-2-0.5-0.6-2-5.2-2-4.6-6.7-13.2-0.8-2.5zM284.5 53.9l2.9 4.9 2.6 5.1 1.9 2.9-7.4 0z"/>
<path fill="#ffcd00" d="M322.7 11.8l49.4 0 1.2 5 0.4 4.5-0.3 4.5-0.9 4-1.5 3.5-2.5 4.5-1.7 2-0.8 0.6-1 0.4-5 0.6-18-1.2-8-0.3-0.5-0.6-1.7-5-2-5-6.3-13-0.7-2.5zM284.5 54.5l2.5 4.3 2.5 5 2 3-7 0z"/>
<path fill="#ffbf00" d="M323.6 11.8l48 0 1.2 4.5 0.4 4.5-0.2 4.8-0.9 3.7-1.5 3.5-2.3 4.5-1.6 2-0.7 0.5-1 0.5-2.5 0.4-2.5 0.2-16.5-0.9-9.5-0.2-0.5-0.5-1.6-5.5-1.7-4.5-6.2-13.5-0.4-2zM284.5 55.1l2.1 3.7 2.9 5.5 1.7 2.5-6.7 0z"/>
<path fill="#ffb100" d="M324.5 11.8l46.6 0 0.9 3 0.6 3 0.2 3.5-0.2 3.5-0.4 2.5-0.9 2.5-2.9 6.5-1.4 2-1.2 1-1.3 0.5-3 0.5-2 0-16.5-0.5-9 0-0.5-0.5-1.2-5-1.7-5-5.9-13.5-0.3-2zM284.5 55.7l4.4 8.1 2 3-6.4 0z"/>
<path fill="#ffa300" d="M325.4 11.8l45.2 0 1 3 0.6 3 0.2 3.5-0.2 3-0.3 2-1 3-2.9 6.7-1.2 1.8-1.2 1-3.6 0.8-2.5 0.2-16-0.3-9.5 0.3-0.4-0.5-1.3-6-1.4-4.5-5.4-13-0.3-2zM284.5 56.3l4.1 7.5 2 3-6.1 0z"/>
<path fill="#ff9500" d="M326.2 11.8l43.9 0 1 3 0.6 3 0.2 3-0.1 3-0.4 2-1.1 3.5-1.5 4-1.3 2.6-1 1.4-1 0.8-3.5 0.9-2.5 0.1-15.5 0.1-10 0.6-0.4-0.5-0.9-5.5-1.4-5-5.2-13.5-0.1-1.5zM284.5 56.9l3.7 6.9 2.1 3-5.8 0z"/>
<path fill="#ff8700" d="M327.1 11.8l42.5 0 0.9 2.5 0.7 3 0.3 2.5-0.1 3-0.4 2.3-1 3.5-1.6 4.2-1.2 2.5-0.7 1.1-1 1-1.1 0.4-2.4 0.5-18 0.6-10 0.9-0.4-0.5-0.7-6-1.1-4.5-4.8-13.5-0.2-1.5zM284.5 57.4l3.4 6.4 2.1 3-5.5 0z"/>
<path fill="#ff7800" d="M328 11.8l41.1 0 1 2.5 0.7 3 0.2 2.5-0.1 2.5-0.4 2.3-1 3.7-1.4 4-1.2 2.5-0.9 1.2-1 0.8-3 0.8-17.5 0.9-10.5 1.3-0.3-0.5-0.5-6-0.9-4.5-1-3.5-3.6-10.5 0-1zM284.5 58l3.1 5.8 2.1 3-5.2 0z"/>
<path fill="#ff6a00" d="M328.9 11.8l39.7 0 1 2.5 0.6 2.5 0.3 2.5-0.1 2.5-0.4 2.5-1.1 4-1.4 3.9-1 2.1-0.7 1-0.8 0.6-3.5 1-16.5 1.2-11 1.6-0.3-0.4-0.2-6.1-0.7-4.9-1-3.5-3.2-10-0.1-1zM284.5 58.5l2.9 5.3 2 3-4.9 0z"/>
<path fill="#ff5c00" d="M329.9 11.8l38.1 0 1 2.3 0.6 2.2 0.3 2 0 2.5-0.5 3-1 4-1.3 4-1.1 2-0.5 0.7-1 0.7-3 0.8-16.5 1.7-11 2-0.3-0.4 0.1-5.5-0.3-4.5-1-4.5-3-10-0.1-1zM284.5 59.1l2.6 4.7 2 3-4.6 0z"/>
<path fill="#ff4e00" d="M330.8 11.8l36.7 0 1.5 4 0.4 2 0 2-0.4 3-0.9 4-1.1 3.5-1 2.2-0.5 0.8-1 0.9-3 0.9-16.5 2.1-4.5 0.9-6.5 1.5-0.2-0.3 0.3-6-0.2-4.5-0.9-4.8-2.6-9.7 0-1zM284.5 59.6l2.5 4.5 1.8 2.7-4.3 0z"/>
<path fill="#ff4000" d="M331.8 11.8l35.1 0 0.9 2 0.7 2 0.3 2 0.1 1.5-1.4 7.3-1 3.1-1 2.2-1 1.1-3 1.1-17 2.8-4.5 1-6 1.7-0.2-0.3 0.6-7-0.1-4-0.7-4.5-2.3-9.5 0-1zM284.5 60.1l2.3 4.2 1.8 2.5-4.1 0z"/>
<path fill="#ff3200" d="M332.7 11.8l33.6 0 1.5 3.5 0.4 2 0.1 1.5-1.3 7.1-1 3.2-0.8 1.7-1.2 1.3-3 1-17 3.4-4 1.1-6 1.9-0.2-0.2 0.9-6.5 0.1-4.5-0.6-5-1.9-9 0-1zM284.5 60.6l2.1 3.7 1.7 2.5-3.8 0z"/>
<path fill="#ff2300" d="M333.7 11.8l32 0 1.5 3.5 0.3 1.5 0.1 1.5-1.1 6.7-0.7 2.3-0.8 2-1.1 1.5-2.9 1.2-17 4-4.5 1.4-4.6 1.9-0.9 0.2-0.1-0.2 1.2-6.5 0.2-4.5-0.4-5-1.7-10zM284.5 61.1l2 3.5 1.5 2.2-3.5 0z"/>
<path fill="#ff1500" d="M334.7 11.8l30.3 0 1.4 3 0.4 1.5 0.1 1.5-1 6.5-0.6 2-0.8 2-0.5 0.8-0.7 0.7-2.5 1-16.8 4.7-4.5 1.6-4.8 2.2-0.7 0.2 0-0.8 1.3-5.4 0.5-5-0.2-5-1.4-10zM284.5 61.5l1.6 2.8 1.7 2.5-3.3 0z"/>
<path fill="#ff0700" d="M333.9 39.3l1.8-6 0.7-5-0.1-5-1.2-10 0.6-1.5 28.6 0 0.8 1.5 0.7 2 0.3 1.5 0 1.5-0.6 4-0.6 2.5-0.9 2.4-1 1.3-1.6 0.8-3.4 1.2-14.5 4.6-4.5 1.8-4.4 2.4zM284.5 61.9l1.5 2.7 1.5 2.2-3 0z"/>
<path fill="#f80000" d="M333.9 39.3l1.9-5 1.1-5.5 0.1-5.5-0.9-9.5 0.7-2 26.6 0 0.9 1.5 0.6 1.5 0.3 1.5 0.1 2-0.5 3.5-0.6 2.5-0.7 1.7-1 1.3-1.5 0.8-3.5 1.5-14.5 5.1-4 1.9-4.6 2.7zM284.5 62.3l2.8 4.5-2.8 0z"/>
<path fill="#ea0000" d="M334.3 38.8l2-5 0.8-3 0.4-2.5 0.3-5.5-0.7-9 0.7-2 24.7 0 0.9 1.5 0.6 1.5 0.4 2 0 1.5-0.3 2.5-0.6 2.5-0.6 1.5-0.9 1.3-1.1 0.7-3.4 1.6-14.5 5.7-4 2-4.5 2.9zM334 39.2l0.2 0.1-0.2 0zM284.5 62.7l2.6 4.1-2.6 0z"/>
<path fill="#dc0000" d="M361.4 11.8l1 1.5 0.6 1.4 0.4 1.6 0.1 1.5-0.1 2-0.5 2-0.5 1.5-0.9 1.5-1.3 1-3.2 1.5-14.5 6.3-3.5 1.9-4 2.9-0.2-0.1 2.1-4.5 0.8-3 0.5-2.5 0.4-5-0.5-9.5 0.9-2zM284.5 63.1l2.3 3.7-2.3 0z"/>
<path fill="#cd0000" d="M337.3 35.3l1.4-5 0.5-3 0.2-4.5-0.3-8.5 0.2-1 0.9-1.5 20 0 1.1 1.5 0.7 1.5 0.4 1.5 0.2 1.5-0.2 1.5-0.4 2-0.6 1.5-0.9 1.3-1.5 1-15.5 7.1-6 3.3zM284.5 63.4l2.1 3.4-2.1 0z"/>
<path fill="#bf0000" d="M339.8 31.8l0.6-8-0.2-9.5 0.3-1 1-1.5 17.3 0 0.9 1 0.9 1.5 0.6 1.5 0.3 1.5 0 1.5-0.3 1.5-0.6 1.5-0.7 1-1.4 1.1-2.7 1.4-12.8 6-2.5 0.9-0.5-0.1zM284.5 63.8l1.9 3-1.9 0z"/>
<path fill="#b10000" d="M341.6 13.8l1.4-2 14.3 0 1.8 2 1 2 0.3 2-0.4 2.2-0.9 1.8-1.6 1.2-5.5 2.8-5.5 2.5-2.5 0.9-1.5 0.1-0.5-0.5-0.3-1.5-0.3-12.5zM284.5 64.1l1.7 2.7-1.7 0z"/>
<path fill="#a30000" d="M342.9 14.3l0.6-1.1 1.2-1.4 10.9 0 1.7 1.5 1.3 2 0.5 2-0.2 2-0.9 1.6-1.5 1.2-8 3.7-2 0.6-1.5 0.1-0.6-0.2-0.5-0.5-0.6-2-0.7-6.5 0-2zM284.5 64.5l1.5 2.3-1.5 0z"/>
<path fill="#950000" d="M344.3 14.8l0.9-1.5 1.7-1.5 6.3 0 2.3 1.4 1.4 1.6 0.7 2-0.2 2-0.9 1.5-1.5 0.9-5 2.1-1.5 0.4-1.5 0-0.9-0.4-0.5-0.5-0.7-1.5-0.8-4 0-1.5zM284.5 64.8l1.3 2-1.3 0z"/>
<path fill="#870000" d="M346.2 15.3l1-1.5 1.4-1 1.4-0.3 2 0.2 2 1 1.1 1.1 0.7 1.5 0 1.5-0.4 1-1.4 0.9-3.5 1.1-2-0.1-1-0.6-1-1.5-0.5-1.8zM284.5 65.1l1.1 1.7-1.1 0z"/><path fill="#00008f" fill-rule="evenodd" d="M283.5 10.8H390.4V67.8H283.5Z M272.22 39.84a61.44 61.44 0 1 0 122.88 0a61.44 61.44 0 1 0 -122.88 0Z"/><circle cx="337.2" cy="39.1" r="25.6" fill="#00008f"/></svg>
<svg style="position:absolute;left:405.9px;top:12.8px" width="103" height="53" viewBox="405.9 12.8 103 53"><rect x="404.9" y="11.8" width="105" height="55" fill="#000087"/>
<path fill="#000095" d="M404.9 11.8l102.8 0 1.4 3.5 0.8 3.4 0 41.9-0.9 2.2-2.4 4-101.7 0z"/>
<path fill="#0000a3" d="M404.9 11.8l102.7 0 1.6 4.5 0.7 3.9 0 39.7-1.2 2.9-2.5 4-101.3 0z"/>
<path fill="#0000b1" d="M404.9 11.8l102.5 0 1.2 3 0.7 2.5 0.4 2.5 0.1 3 0.1 36.3-1.5 3.7-2.5 4-101 0z"/>
<path fill="#0000bf" d="M404.9 11.8l102.3 0 1.3 3.5 0.8 3.5 0.3 3.5 0 6.5 0.3 2.3 0 27.2-1.6 4-1.4 2.5-1.4 2-100.6 0z"/>
<path fill="#0000cd" d="M404.9 11.8l102.1 0 1.4 3.5 0.8 3.5 0.2 3.5 0 6.5 0.5 3.7 0 25-1.8 4.8-1.2 2.1-1.8 2.4-71.8 0-3.4-1.3-2-0.4-1.5 0.6-0.8 1.1-20.7 0z"/>
<path fill="#0000dc" d="M404.9 11.8l102 0 1.3 3.5 0.8 3.5 0.2 3.5 0 6.5 0.7 5 0 22.8-1 3.1-1 2.3-1.5 2.6-1.6 2.2-68.4 0-7-3.1-2-0.5-1.5 0.3-1 0.7-0.8 1.1-0.5 1.5-18.7 0z"/>
<path fill="#0000ea" d="M404.9 11.8l101.8 0 1.3 3.5 0.8 3.5 0.2 3.5 0.1 7 0.8 5.8 0 20.6-1 3.2-1.2 2.9-1.4 2.5-1.9 2.5-64.5 0-4.5-1.4-7-3.5-1-0.4-1-0.1-1.5 0.6-1.4 1.3-0.9 1.5-0.5 2-17.2 0z"/>
<path fill="#0000f8" d="M404.9 11.8l101.6 0 1.3 3.5 0.8 3.5 0.2 3.5 0.1 7 1 7.3 0 18.2-1.2 4-1.3 3-1.5 2.6-1.9 2.4-59.9 0-5.7-1.2-3.5-1.2-2.9-1.6-4.6-3.3-1.5-0.8-0.5 0.1-0.5 0.3-3 4-1 2.2 0 0.5 0.3 1-16.3 0zM423.4 52.3l-0.6 0.5-0.2 0.5 0.3 1 0.5 0.8 1 0.9 0.5 0.2 0.5-0.2 0.5-0.6 0.4-1.1-0.2-1-1.2-1z"/>
<path fill="#0007ff" d="M404.9 11.8l101.4 0 1.3 3.5 0.8 3.5 0.2 3.5 0.1 7 1.2 9.1 0 15.3-1.2 4.1-1.3 3.5-1.8 3-2.1 2.5-56 0-10.1-2.3-2.5-0.9-2.5-1.5-2.2-1.8-1.6-2-0.5-1.5-0.2-3.5-0.5-1.3-0.5-0.8-1-0.8-1-0.5-2.5-0.3-2 0.4-0.5 0.3-0.4 1 0.5 2 1.9 3.5 0.5 1.5-0.1 1-0.3 1-2.1 4 0.1 1 0.6 1.5-15.7 0z"/>
<path fill="#0015ff" d="M404.9 11.8l101.2 0 1.3 3.5 0.8 3.5 0.2 3.5 0.1 7 1.4 10.8 0 12.4-1.1 4.3-1.8 4.5-1.6 2.8-2.3 2.7-53.1 0-5.6-1.5-6-1.1-2.5-0.9-2-1.1-2.5-1.9-1.5-2-0.6-2-0.6-4.5-0.6-1.5-0.7-1-1-0.7-1.5-0.6-6.5-0.9-0.7 0.2-0.5 0.5-0.3 1 0 1 0.7 2.5 2.6 4.5 0.5 1.5-0.1 1.5-1.5 3.5-0.1 0.5 0.4 1.5 0.8 1.5-15.3 0z"/>
<path fill="#0023ff" d="M404.9 11.8l101.1 0 1.2 3.5 0.8 3.5 0.2 3.5 0.1 7 1.6 12.4 0 9.6-1 4.5-1.9 5-2.1 3.4-2.3 2.6-50.2 0-6-1.8-8-1.4-2-0.8-2-1-2.4-2-1.3-2-0.5-1.5-0.2-1.5 0.3-2-0.2-2.5-0.2-0.5-1-0.8-2-2.3-1-0.3-4-0.5-1.5-0.4-1-0.5-1.5-1.1-1-0.2-1 0.6-1 1.3-0.4 1.2 0 1.5 0.4 1.5 0.8 2 2.8 4.5 0.7 1.5 0.2 1-0.1 1-1 2.5 0 1 0.4 1.5 1.1 2-14.9 0z"/>
<path fill="#0032ff" d="M404.9 11.8l100.9 0 1.2 3.5 0.8 3.5 0.2 3 0.1 7.5 1.1 7.5 0.7 7.4 0 4.3-0.4 3.8-1.1 4-1.5 4-2 3.4-2.8 3.1-47.2 0-5-1.8-3.5-1.8-1-0.3-1.5-0.1-2.5 0.6-3-0.5-3-1.2-2.5-1.9-1.4-2-0.5-1.5-0.1-1 1.3-2 1.7-4 1-1.6 2-1.8 4.2-2.6 0.5-0.5 0.2-0.5-0.4-0.5-1.4-0.5-4.5-1-3.1-0.4-2.5 0.2-0.6 0.2-0.7 0.5-0.1 0.5 0.5 1.5 0 1-0.5 1-0.6 0.5-1.5-1.6-0.5-0.1-2.5 0.5-1.9-0.3-0.6-0.5-1.8-3.5-0.7-0.8-0.5-0.1-1 0.5-2.5 2.3-2 1.6-0.5 1-0.2 1.5 0.5 2 1.3 3 4.4 7 0.3 1.5-0.6 2.5 0 1 0.7 2 1.1 2-14.5 0z"/>
<path fill="#0040ff" d="M404.9 11.8l100.7 0 1.3 3.5 0.7 3.5 0.2 3 0.1 7.5 1.1 8 0.7 8-0.1 4-0.5 3.5-0.9 3.5-1.6 4-2.2 3.6-2.8 2.9-44.4 0-5.6-2-0.7-0.5-3-3.1-1.5-0.9-1-0.1-1.5 0.2-2.8 0.9-1.2 0.7-3-0.1-1.5-0.8-1.7-1.3-1.2-1.5-0.6-1.6 1.9-2.4 2.3-4.5 1.6-2 2.7-2.1 6.5-3.9 0.3-0.5-7.3-1.6-7.5-2-2.5-0.3-2 0.1-0.8-0.7-1-1.5-0.8-3.5-0.4-0.9-1-0.5-1-0.1-1.5 0.4-2 1-1 0.8-1.9 4.3-2.1 2.3-2 1.5-2 2.1-0.8 1.1-0.2 1 0.5 2.8 1 2.3 4.6 5.9 1.2 2 0.3 1-0.1 2.5 0.2 1.5 0.8 2 1.2 2-14.2 0z"/>
<path fill="#004eff" d="M404.9 11.8l100.5 0 1.3 3.5 0.6 3.5 0.3 3 0.1 7.5 1.1 8 0.7 8-0.1 4-0.5 3.5-1 3.5-1.5 3.8-1 1.8-1.3 1.9-3 3-41.6 0-5.9-2-1.8-2-2.9-4.1-1.5-1.3-1-0.1-1 0.2-8.5 2.8-2-0.5-1-1 3.2-7.5 1.7-2.5 2-2 2.6-1.8 4-2.4 3.5-1.8-0.5-0.3-4.5-0.4-4.5-1-3.5-1.1-9-3.3-0.6-0.4-1.1-4-0.4-1-0.5-0.5-0.9-0.5-1.9-0.5-4.1-0.6-1 0.2-0.4 0.4-2.1 3.5-0.5 1.5-0.6 3.5-0.9 1-2 1.7-2.5 2.8-0.6 1-0.4 1.5 0.4 3 1.1 3 1.5 2.5 3 3.3 1.2 1.7 0.4 1 0.2 2.5 0.4 1.5 0.9 2 1.2 2-13.8 0zM414.9 23.6l0 0.9 0.5 0.5 0.5 0 0-0.8-0.5-0.6z"/>
<path fill="#005cff" d="M404.9 12.3l1.4-0.5 98.9 0 1.3 3.5 0.6 3 0.2 3.5 0.2 7.5 1.2 8 0.6 7.5-0.1 4-0.5 3.5-0.9 3.5-1.6 4-1.1 2-1.2 1.7-1.5 1.6-1.9 1.7-39 0-5.8-2-1.1-1-1.9-2.5-1.1-2-1.7-3.7-1-1.3-0.5-0.2-1 0.1-4.5 1.9-2.5 0.5-1.5-0.4-0.5-0.6-0.2-0.8 0.1-1.5 0.6-2 1.1-2 1.3-1.5 1.6-1.5 2.8-2 6.9-4-6.2-0.7-4-0.9-5.2-1.9-4.9-2.5-2.9-2.2-1.1-2.8-0.8-1-1.6-1-3.8-1.5-1.8-1-1-1-1.9-2.7-1.5-1.8-5-4-0.5 0.1-0.5 0.9-0.2 1 0.2 1.5 1.5 5.5 2.3 4.5-0.7 3-0.5 4-0.8 1.5-2.3 2.8-1.1 1.7-0.7 2 0.1 1.5 0.7 3 1.2 3 1.3 2.2 3.9 4.8 0.4 1 0.6 2.5 0.5 1.5 2 3.5-13.4 0z"/>
<path fill="#006aff" d="M413.1 11.8l91.9 0 1.3 3.5 0.6 3 0.2 3.5 0.2 7.5 1.2 8 0.6 7.5-0.1 4-0.6 4-1.1 3.5-1.7 4-2.2 3.3-3.4 3.2-36.8 0-5.4-2-0.9-0.5-1.7-2-1.3-2-1-2-1.3-4-0.7-5.1-0.5-0.1-3.1 2.7-2.9 1.7-1.5 0.3-1 0-1-0.5-0.2-0.5-0.1-1 0.4-1.5 0.9-1.5 1.2-1.5 3.6-3 6.1-4-0.4-0.3-6-0.8-4-1.1-4.5-1.9-4.1-2.4-2.8-2.5-1.1-1.3-0.7-1.2-0.9-1-1.5-1-3.9-2-2-1.5-3.5-4.8-3.2-3.7-0.8-1.5zM453.4 40.4l-1.5 3.9-0.2 1.5 0.2 0.5 1-1.6 0.5-1.4 0.3-2zM404.9 13.6l1.5-0.1 0.5 0.3 0.4 0.5 0.6 6 3.2 7.5 0.4 1.5-0.4 6-0.5 1.5-2.2 3.3-1.3 2.7-0.3 1.5 0.4 2 0.9 3 1.3 3 1.5 2.3 3.3 4.2 1.6 4.5 2.1 3.5-13 0z"/>
<path fill="#0078ff" d="M414.6 11.8l90.2 0 1.2 3.5 0.6 3 0.3 3.5 0.2 7.5 1.2 8 0.6 7.5-0.1 4-0.7 4-1.1 3.5-1.6 3.8-1 1.7-1.5 1.9-3.5 3.1-34.8 0-5-2-1.5-1-2.3-3-1.6-3-0.8-2.5-0.4-2-0.2-2.5 0.2-2.5 0.9-5 0-2.2-0.5-0.9-1-0.4-5-0.7-4-1.1-4.5-2-3.5-2.2-2.3-2-4.2-4.5-1.5-1.1-3.4-1.9-2.1-1.6-6.2-8.4-0.6-1zM404.9 15.4l0.5 0.4 0.3 0.5 1.2 5.5 2.6 6 0.4 1.5 0.3 2-0.1 2.5-0.3 2-2.9 5.5-0.7 2-0.1 1 0.3 1.5 1.1 3.5 1.4 3.2 1.5 2.4 3.4 4.4 1.8 4.5 1.9 3-12.6 0zM452.9 40.5l0.1 0.3-2.6 5-2 3-1 1-1.5 1-1.5 0.5-1-0.2-0.3-0.3-0.1-0.5 0.2-1 0.5-1 1.2-1.5 3.3-3 4.1-3z"/>
<path fill="#0087ff" d="M415.8 11.8l88.8 0 1.2 3.5 0.6 3 0.4 11 1.3 8 0.6 7.5-0.2 4-0.6 3.9-1 3.2-1.7 3.9-1.2 2-1.2 1.5-1.9 1.9-2 1.6-33.2 0-1.8-1-3.5-1.4-1.3-1.1-1.9-2.5-1.4-2.5-1.1-3-0.5-2-0.2-2.5 0.2-8-0.3-2-0.5-0.7-0.5-0.3-2.5-0.3-2.5-0.5-3.5-1.1-4-1.8-3.6-2.3-2.4-2-4.5-4.6-1.9-1.4-3.6-2.2-2-1.8-5.6-8zM404.9 18.6l1.2 4.7 1.5 3 0.9 2.5 0.4 1.5 0.2 2-0.1 2-0.4 2-2.4 5-0.7 2-0.1 1 0.3 1.5 1.2 3.5 1.6 3.5 1.9 3 2.7 3.5 2 4.5 1.9 3-12.1 0zM452 41.3l0.4-0.2 0.1 0.2-0.1 0.1zM451.9 41.3l0.2 0.5-3.2 4.6-1 1-1 0.6-0.5 0.2-0.4-0.4 0.3-1 1.2-1.5z"/>
<path fill="#0095ff" d="M416.9 11.8l87.5 0 1.2 3.5 0.6 3 0.4 10.5 1.4 9 0.5 7-0.2 4-0.7 4-1.1 3.5-1.6 3.5-1.3 2-1.2 1.5-2 1.9-2.1 1.6-31.6 0-1.8-1.1-3.3-1.4-1.2-1.1-1.9-2.4-1.5-2.5-1-2.5-0.7-2.5-0.3-2-0.3-6.5-0.3-2.5-0.5-1.7-0.5-0.6-4.5-1-3.8-1.2-3.7-1.7-3.5-2.3-2.3-2-4.2-4.3-2.2-1.7-3.8-2.5-2-1.7-1-1.3-4.7-7zM404.9 23.1l0.8 2.2 1.9 4.5 0.4 1.5 0.1 2-0.2 2-0.4 1.5-2.6 5.6zM404.9 45.8l1.6 4 1.7 3.5 1.7 2.7 2.4 3.3 2.1 4.5 2 3-11.5 0z"/>
<path fill="#00a3ff" d="M417.9 11.8l86.3 0 1.1 3 0.6 3 0.3 3.5 0.2 7.5 1.4 9 0.5 7-0.2 4-0.7 3.9-1 3.1-1.9 4-1.1 1.8-1.5 1.7-2 1.9-2.1 1.6-30.2 0-2.2-1.5-2.5-1.1-1.2-0.9-2.1-2.5-1.5-2.5-0.9-2-1.2-4-1.1-8.5-0.9-3-0.6-0.9-4-0.9-4-1.4-3.6-1.8-3.4-2.4-1.8-1.6-4.7-4.8-5.5-3.8-2.2-1.9-1.2-1.5zM404.9 26.7l1.9 4.1 0.4 2.5-0.1 1.5-0.3 1.5-1.9 4zM404.9 47.8l3 6 4 6 2.2 4.5 1.7 2.5-10.9 0z"/>
<path fill="#00b1ff" d="M418.9 11.8l85.1 0 1.1 3 0.6 3 0.5 11 1.4 9 0.5 6.5-0.2 4-0.6 4-1.2 3.5-1.7 3.6-1.2 1.9-1.7 2-2.1 1.8-2.2 1.7-28.8 0-2-1.5-3.1-1.5-2.7-3-1.6-2.5-1.1-2.5-0.9-2.5-2.1-10.3-1-2.6-0.5-0.6-3.5-0.8-4-1.5-3.3-1.7-3.5-2.5-2.1-2-4.6-4.8-5.5-3.8-2-1.8-1.3-1.6zM404.9 29.6l1 2 0.4 2.2-0.4 2.4-1 2.3zM404.9 49.3l2.8 5 3.6 5.5 2.4 5 1.4 2-10.2 0z"/>
<path fill="#00bfff" d="M419.8 11.8l83.9 0 1.1 3 0.7 3 0.5 11.5 1.4 8.5 0.5 6.5-0.2 4-0.7 4-1.1 3.3-1.8 3.7-1.3 2-1.8 2-2.1 1.8-2.4 1.7-27.3 0-2.3-1.8-3.1-1.7-2.2-2.5-1.7-2.5-1.2-2.5-0.8-2-2.4-9.5-1.6-4-0.5-0.5-3.6-1-3.7-1.5-3.5-2-2.7-2-7.4-7.5-5.1-3.5-1.7-1.5-1.5-2zM404.9 32.7l0.2 1.6-0.2 1.5zM404.9 50.6l5.7 9.2 2.2 4.5 1.7 2.5-9.6 0z"/>
<path fill="#00cdff" d="M420.6 11.8l82.9 0 1.1 3 0.6 3 0.5 11 1.6 9.5 0.4 6-0.2 4-0.6 3.5-1.2 3.5-1.8 3.8-1.5 2.2-1.9 2-2.1 1.8-2.6 1.7-25.8 0-2.1-1.7-3.5-2.1-1.9-2.2-1.8-2.5-2.1-4.5-2.7-9-2-4.5-0.5-0.5-4-1.3-3.7-1.7-2.5-1.5-2.6-2-7.7-8-4.5-3-2.2-2-1.6-2zM404.9 51.7l4.8 7.6 2.5 5 1.7 2.5-9 0z"/>
<path fill="#00dcff" d="M421.4 11.8l81.9 0 1.1 3 0.5 2.5 0.6 12 1.5 8.5 0.5 6-0.2 4-0.7 4-1.2 3.5-1.7 3.5-1.7 2.5-1.9 2-2.2 1.7-2.9 1.8-24.2 0-2.4-2-3.3-2-2.2-2.5-1.4-2-2.3-4.5-3.3-9.5-1.9-4-0.6-0.5-3.5-1.2-3.7-1.8-2.4-1.5-2.5-2-2.1-2-5.8-6.3-4.5-3.1-2-1.7-1.5-1.9zM404.9 52.7l4.2 6.6 2.6 5 1.6 2.5-8.4 0z"/>
<path fill="#00eaff" d="M422.2 11.8l80.8 0 1.1 3 0.6 2.5 0.6 12 1.6 9 0.4 5.5-0.2 4-0.7 3.9-1 3.1-2 3.9-1.8 2.6-2 2-2.7 2-2.7 1.5-22.6 0-2.4-2-3.7-2.5-1.8-2-1.5-2-2.2-4-3.7-9.5-2.3-4.5-0.6-0.6-3.8-1.4-2.9-1.5-2.3-1.5-2.5-2-8.4-9-3.8-2.5-2.3-2-1.6-2zM404.9 53.6l3.7 5.7 2.8 5.5 1.4 2-7.9 0z"/>
<path fill="#00f8ff" d="M422.9 11.8l79.9 0 1.1 3 0.5 2.5 0.7 12 1.5 9 0.5 5.5-0.2 3.9-0.6 3.6-1.2 3.5-1.8 3.5-1.9 2.7-2.3 2.3-2.7 1.9-3.2 1.6-20.8 0-3-2.5-3.1-2-3.5-4-2.3-4-4-9.5-2.5-4.5-0.6-0.6-3-1.1-3.3-1.8-2.2-1.5-2.4-2-2-2-6.6-7.4-3.5-2.2-2.5-2.2-1.7-2.2zM404.9 54.4l3.1 4.9 2.9 5.5 1.4 2-7.4 0z"/>
<path fill="#07fff8" d="M423.7 11.8l78.9 0 0.9 2.5 0.6 2.5 0.7 12.5 0.4 3 1.2 6 0.5 5.5-0.3 4-0.7 3.9-1.1 3.1-1.9 3.5-2 2.8-2.4 2.2-2.6 1.7-3.8 1.8-18.9 0-3-2.5-3.6-2.5-3.2-3.6-2.4-3.9-4.3-9.5-2.7-4.5-0.6-0.6-3.3-1.4-2.6-1.5-2.2-1.5-2.3-2-2-2-6.6-7.6-3.6-2.4-2.4-2.1-1.8-2.4zM404.9 55.2l2.9 4.6 2.7 5 1.3 2-6.9 0z"/>
<path fill="#15ffea" d="M424.4 11.8l77.9 0 1 2.5 0.5 2.5 0.8 13.5 1.6 8.5 0.4 5-0.2 4-0.7 3.5-1 3-1.8 3.4-2 2.9-2.5 2.4-3 1.9-4.4 1.9-17 0-3.6-2.9-3-2.1-3.5-3.8-2.6-4.2-4.7-9.5-2.5-4-0.7-0.6-3.1-1.4-2.5-1.5-2.1-1.5-2.2-2-1.9-2-6.8-8-3.8-2.5-2.2-2-1.8-2.5zM404.9 55.9l2.7 4.4 2.4 4.5 1.4 2-6.5 0z"/>
<path fill="#23ffdc" d="M425.1 11.8l76.9 0 1 2.5 0.6 2.5 0.8 14 1.5 7.5 0.5 4.5-0.1 3.5-0.5 3.5-0.9 3.2-1.5 3.2-2.3 3.6-2.4 2.5-3.1 2-4.2 1.9-1.8 0.6-14.7 0-7.3-5.5-3.2-3.5-2.6-4-5-9.5-2.7-4-0.7-0.6-2.9-1.4-2.4-1.5-2-1.5-2.2-2-8.9-10.5-3.6-2.4-2.3-2.1-1.8-2.5zM404.9 56.6l4.8 8.2 1.3 2-6.1 0z"/>
<path fill="#32ffcd" d="M425.8 11.8l76 0 1.1 3 0.4 2 0.8 14 1.7 8.5 0.3 4-0.1 3.5-0.6 3.5-1 3.2-1.4 2.8-2.1 3.2-2.5 2.5-3 2-3.5 1.5-3.8 1.3-12.2 0-7.5-5.5-2.5-2.5-3-4-5.6-10-3.2-4.5-0.7-0.6-2.7-1.4-2.3-1.5-4.1-3.5-8.9-10.8-3.9-2.7-2.1-2-1.7-2.5zM404.9 57.2l4.4 7.6 1.4 2-5.8 0z"/>
<path fill="#40ffbf" d="M426.5 11.8l75 0 1 2.5 0.4 2 0.8 14.5 0.4 2.5 1.4 6 0.4 4-0.2 3.5-0.5 3-0.8 2.8-1.5 3.1-2 3.2-2.2 2.4-2.8 2-3.5 1.6-6 1.9-9.3 0-0.7-0.4-7.8-5.6-2.5-2.5-2.7-3.5-5.9-10-3.4-4.5-0.7-0.6-1.7-0.9-3-2-3.5-3-2.2-2.5-4.6-6-3-3.5-3.5-2.3-2-2-1.6-2.2zM404.9 57.9l4.1 6.9 1.3 2-5.4 0z"/>
<path fill="#4effb1" d="M427.2 11.8l74 0 1 2.5 0.4 2 0.9 15 0.4 2.5 1.3 5.5 0.4 4-0.2 3.5-0.5 3.2-1 3-1.4 2.8-2.1 3.2-2 2.1-2.5 1.7-3.5 1.7-4 1.3-4 1-5.8 0-2.2-1-7-5-3-2.9-3-3.8-5.4-8.8-3-4-1.6-1.7-2.4-1.3-2.7-2-2.7-2.5-2.2-2.5-4.5-6.1-2.8-3.4-3.6-2.5-2.1-2-1.7-2.5zM404.9 58.5l3.7 6.3 1.4 2-5.1 0z"/>
<path fill="#5cffa3" d="M427.9 11.8l73 0 1 2.5 0.4 2 0.8 15 0.5 3 1.3 5 0.3 4-0.1 3.5-0.5 3-0.8 2.5-1.4 3-2 3-2 2.2-2.5 1.9-3.5 1.6-5.5 1.7-4.5 0.9-3-0.2-1.5-0.5-1.5-0.8-6.8-4.8-3.2-3.1-2.5-3.1-5.3-8.3-2.6-3.5-1.8-2-5.1-3.5-3.2-3-2.1-2.5-4.4-6.1-3-3.8-3.7-2.6-2-2-1.4-2zM404.9 59.1l3.4 5.7 1.4 2-4.8 0z"/>
<path fill="#6aff95" d="M428.6 11.8l72 0 1 2.5 0.4 2 0.8 15.5 0.5 2.5 1.3 5 0.3 4-0.1 3.5-0.6 3-0.8 2.5-1.5 3.1-2 3-2 2-2.7 1.9-3.3 1.5-5.5 1.6-4 0.7-3-0.3-3-1.3-3-1.9-3.5-2.7-3.3-3.1-2.7-3.4-4.7-7.1-2.7-3.5-2.3-2.5-4.2-3-3.7-3.5-2.1-2.5-4.3-6.2-3-3.8-4-3-1.9-2-1.3-2zM404.9 59.6l3.1 5.2 1.4 2-4.5 0z"/>
<path fill="#78ff87" d="M429.3 11.8l70.9 0 1.1 2.5 0.4 2 0.8 15.5 0.5 3 1.2 4.5 0.3 4-0.1 3.5-0.6 3-0.9 2.8-1.5 2.9-2 2.8-2.5 2.4-3 1.8-3.5 1.3-5 1.3-3.5 0.4-1.5-0.1-1.5-0.4-3-1.4-5.4-3.8-3.7-3.5-2.4-2.9-5.3-7.6-2.4-3-2.5-2.5-4.1-3-2.6-2.5-2.9-3.5-4.7-6.9-2.8-3.6-3.4-2.5-2-2-1.4-2zM404.9 60.2l2.8 4.6 1.4 2-4.2 0z"/>
<path fill="#87ff78" d="M430 11.8l69.9 0 1 2.5 0.5 2 0.8 16 0.4 2.5 1.2 4.5 0.3 4-0.1 3.5-0.6 3-1 2.9-1.4 2.6-2.1 3-2.5 2.3-3 1.7-4 1.4-4.5 1.1-3.5 0.2-1.5-0.3-1.5-0.5-3-1.5-3.5-2.4-4-3.5-3-3.4-5.1-7.1-2.5-3-3-3-4-3-2.6-2.5-2.4-3-4.9-7.4-3-4-3.4-2.6-2-2-1.1-1.7zM404.9 60.7l2.5 4.1 1.4 2-3.9 0z"/>
<path fill="#95ff6a" d="M430.7 11.8l68.9 0 1 2.5 0.4 1.5 0.8 16.5 0.4 2.5 1.2 4.5 0.3 3.5-0.1 3.5-0.5 3-0.8 2.5-1.5 3-2.4 3.4-2.3 2.1-3.2 1.8-4 1.3-4 0.9-3.5 0.1-3-0.8-3.5-1.8-3-2.1-4-3.5-2.5-2.9-5.3-7-2.6-3-3.2-3-3.3-2.5-3-3-2.4-3-4.7-7.4-3-4.1-3.7-3-1.8-2-0.9-1.5zM404.9 61.2l3.6 5.6-3.6 0z"/>
<path fill="#a3ff5c" d="M431.4 11.8l67.8 0 1.1 2.5 0.3 1.5 0.8 16.5 0.5 3 1.1 4 0.3 3.5-0.1 3.5-0.5 3-0.8 2.5-1.6 3-2.4 3.3-2.5 2.1-3 1.6-4.5 1.4-3.5 0.7-3 0-3-0.9-3.5-1.8-2.7-1.9-3.8-3.3-2.5-2.7-5.1-6.5-2.6-3-2.6-2.5-4.5-3.5-2.4-2.5-3.1-4-6.2-9.7-1.5-2-2.9-2.3-1.6-1.7-1.2-1.8zM404.9 61.7l3.3 5.1-3.3 0z"/>
<path fill="#b1ff4e" d="M432.1 11.8l66.7 0 1.1 2.5 0.4 1.5 0.8 17 0.4 2.5 1.1 4 0.2 3.5-0.1 3.5-0.5 3-0.9 2.5-1.5 3-2.3 3-2.6 2.2-3 1.5-4 1.3-3.5 0.6-3-0.1-3-0.8-3.5-1.8-2.5-1.8-3.6-3.1-2.4-2.6-5.2-6.4-2.8-3-2.7-2.5-1.8-1.2-2.1-1.8-2.5-2.5-3-4-4.4-7.3-3.7-5.2-2.9-2.5-1.4-1.5-1-1.5zM404.9 62.1l3 4.7-3 0z"/>
<path fill="#bfff40" d="M432.8 11.8l65.6 0 1.1 2.5 0.4 1.5 0.2 6 0.5 5.5 0.1 5.5 0.4 2.5 1 4 0.2 3.5-0.1 3.5-0.5 3-1.1 3-1.7 2.9-2.5 3.1-2.5 1.8-3 1.4-4.5 1.1-3 0.4-2.5-0.3-3-1-3.4-1.9-4.1-3.2-2-1.9-7.3-8.4-2.4-2.5-2.9-2.5-1.9-1.2-2.5-2.3-1.9-2-3-4-4.1-7.2-2.5-3.9-1.5-1.9-3.7-3.5-1-1.5zM404.9 62.6l2.7 4.2-2.7 0z"/>
<path fill="#cdff32" d="M433.6 11.8l64.4 0 1.2 2.5 0.4 1.5 0.1 5.5 0.6 6 0 5.5 0.4 2.5 1 4.5 0.1 3-0.1 3.5-0.6 3-1.1 3-1.8 3-2 2.5-2.6 2-3.6 1.5-4.1 1-3 0.1-2.5-0.4-3-1.2-3-1.6-4-3.2-2-1.9-8.9-9.8-2.9-2.5-2.7-1.7-3.8-3.8-3-4-4.4-8-2.3-3.6-1.3-1.9-2.7-2.5-1.3-1.5-0.9-1.5zM404.9 63l2.5 3.8-2.5 0z"/>
<path fill="#dcff23" d="M434.4 11.8l63.2 0 1.2 2.5 0.4 1.5 0.2 5.5 0.5 6 0.1 6 1.1 6 0.2 3-0.2 4-0.6 3-1.1 3-1.8 3-2.1 2.5-2.6 1.8-3 1.3-4 0.9-3 0.1-2.5-0.5-3.5-1.4-2.5-1.4-5.5-4.7-9.1-9.6-3.1-2.5-2.8-1.7-3.2-3.3-3.3-4.5-4.3-8-2.2-3.7-1.5-2.1-3.5-3.7-0.9-1.5zM404.9 63.4l2.2 3.4-2.2 0z"/>
<path fill="#eaff15" d="M435.2 11.8l62 0 1.2 2.5 0.4 1.5 0.2 5.5 0.6 6 0 6 1 6 0.1 3-0.2 4-0.6 3-1.2 3-1.8 3-2 2.4-2.4 1.6-3.1 1.2-3.5 0.8-3 0.1-2.5-0.5-3.5-1.5-2.5-1.5-5-4.1-9.3-9.5-3.2-2.5-2.4-1.5-0.6-0.2-2.7-2.8-1.9-2.5-1.6-2.5-4.3-8.3-2-3.4-1.5-2.3-3.2-3.5-0.9-1.5zM404.9 63.8l2 3-2 0z"/>
<path fill="#f8ff07" d="M436 11.8l60.8 0 1.2 2.5 0.4 1.5 0.2 5 0.6 6.5 0 6.5 0.9 5.5 0.1 2.5-0.3 4.3-0.7 3.2-1.2 3-1.7 3-1.9 2.1-2.5 1.7-3.3 1.2-3.2 0.6-2.5 0-2.5-0.6-3.5-1.5-2.5-1.5-5-4.2-8.4-8.3-3.9-3-2.5-1.5-0.7-0.2-2.2-2.3-1.9-2.5-1.6-2.5-4.3-8.7-1.8-3.3-1.7-2.6-3.2-3.9zM404.9 64.1l1.7 2.7-1.7 0z"/>
<path fill="#fff800" d="M436.8 11.8l59.6 0 1.4 3 0.3 1.5 0.1 4.5 0.6 6.5 0 6.5 0.7 5.5 0.1 2.5-0.4 4.5-0.6 3-1.2 3-1.9 3-1.8 2-2.3 1.5-3 1.1-3 0.5-2.5-0.1-2.5-0.6-3.5-1.5-2.5-1.5-4.5-3.7-6.3-6.2-2.8-2.5-3.5-2.5-2.6-1.5-0.8-0.2-1.7-1.8-1.9-2.5-1.6-2.5-5.5-11.5-2.3-3.7-2.9-3.8zM404.9 64.5l1.5 2.3-1.5 0z"/>
<path fill="#ffea00" d="M437.7 11.8l58.2 0 1.4 3 0.4 1.5 0.2 4.5 0.6 6.5-0.1 6.9 0.6 5.1 0 2-0.3 4.5-0.6 3-1.5 3.5-1.8 3-1.9 1.9-2 1.3-3 1-3 0.4-2.5-0.3-2.5-0.7-3-1.3-2.5-1.6-4-3.2-6.3-6-2.9-2.5-3.7-2.5-2.8-1.5-0.8-0.3-1.2-1.2-1.9-2.5-1.6-2.5-1.5-3-4-9-2.4-4-2.5-3.5zM404.9 64.9l1.3 1.9-1.3 0z"/>
<path fill="#ffdc00" d="M438.6 11.8l56.9 0 1.2 2.5 0.5 2 0.9 11-0.1 6.5 0.5 7.5-0.4 4.5-0.7 3-1.5 3.5-1.9 3-1.5 1.5-1.5 1-2.1 0.9-2 0.4-2 0.2-1.5-0.1-4.5-1.3-2-0.9-2-1.2-4-3.2-6.9-6.3-3.1-2.5-4.1-2.5-2.9-1.3-2.3-2.7-2.2-3.5-1.4-3-3.6-8.5-2-3.7-2.8-4.3zM404.9 65.2l1.1 1.6-1.1 0z"/>
<path fill="#ffcd00" d="M439.5 11.8l55.5 0 1.5 3 0.4 2 0.8 10.5-0.1 6.5 0.4 7-0.5 4.5-0.8 3.5-1.3 3-1.9 3-1.4 1.5-1.3 1-1.9 0.8-2 0.5-2 0.1-1.5-0.1-4.5-1.4-2-0.9-2-1.2-4-3.2-6.4-5.6-3.3-2.5-4.2-2.5-3.1-1.3-2.2-2.7-2.1-3.5-1.4-3-3.3-8.5-1.8-3.5-2.7-4.5zM404.9 65.5l0.9 1.3-0.9 0z"/>
<path fill="#ffbf00" d="M440.3 11.8l54.3 0 1.4 3 0.5 2 0.9 10.5-0.2 6 0.2 7.5-0.5 4.5-0.9 3.5-1.4 3-2 3-1.5 1.5-1.2 0.8-1.5 0.5-2 0.4-3-0.1-4.5-1.3-3.5-1.8-4-3.1-6.4-5.4-3.4-2.5-4.4-2.5-3.3-1.3-0.7-0.7-1.4-2-2-3.5-1.3-3-2.9-8-1.4-3-3-5.5zM404.9 65.8l0.7 1-0.7 0z"/>
<path fill="#ffb100" d="M441.2 11.8l52.9 0 1.5 3 0.5 2.5 0.9 10-0.3 6.5 0.2 6.5-0.5 4.5-0.9 3.5-1.4 3-2.1 3-2.2 2-1.4 0.6-2 0.5-3-0.2-4.5-1.3-3.3-1.6-10-8-3.5-2.5-4.7-2.5-3.5-1.3-1.7-2.2-2.2-4-1.2-3-2.7-8-1.3-3-2.7-5zM404.9 66.1l0.5 0.7-0.5 0z"/>
<path fill="#ffa300" d="M442.1 11.8l51.5 0 1.3 2.5 0.5 1.5 1 8.5 0.2 4-0.3 5 0.1 7-0.5 4-1 3.7-1.5 3.1-2 2.7-1 1.1-1.3 0.9-1.2 0.5-1.5 0.3-3-0.2-4.5-1.2-3-1.4-9.7-7.5-3.7-2.5-4.8-2.5-3.8-1.3-1.6-2.2-2.1-4-1.1-3-2.5-8-1.2-3-2.5-5zM405.2 66.8l-0.3 0 0-0.4z"/>
<path fill="#ff9500" d="M443 11.8l50.2 0 1.2 2.4 0.6 1.6 1 8 0.3 4.5-0.4 5 0 6-0.4 4-1 4-1.2 2.5-1.9 2.8-1.1 1.2-1.4 1.1-1 0.5-1.5 0.4-2.5-0.1-5-1.2-2.5-1-9.6-7.2-3.8-2.5-5.1-2.5-4-1.3-0.6-0.7-1.3-2-1.8-4-3.1-10.5-1.1-3-2.2-4.5-0.5-1.5z"/>
<path fill="#ff8700" d="M443.9 11.8l48.8 0 1.3 2.5 0.8 2.5 0.9 7.5 0.1 4.5-0.3 4.5-0.1 6-0.5 4-1.4 4.5-1 2-1.1 1.5-2.5 2.4-1 0.6-1.5 0.5-2.5 0-5-1-2.5-1-9.7-7-4.1-2.5-4.4-2-4.3-1.3-0.6-0.7-1.2-2-1.7-4-2.9-11-3.1-7.5z"/>
<path fill="#ff7800" d="M444.8 11.8l47.4 0 1.3 2.5 0.9 2.5 0.9 7.5 0.1 4.5-0.4 4.5-0.1 6-0.5 3.5-1.4 4.5-0.7 1.5-1.4 1.9-2.5 2.2-1 0.5-1.5 0.5-3-0.1-4.5-0.9-1.5-0.5-9.6-6.6-4.2-2.5-4.6-2-4.6-1.3-0.6-0.7-1.1-2-1.6-4-2.5-11-1.1-3-1.9-4.5z"/>
<path fill="#ff6a00" d="M445.7 11.8l46 0 1.4 2.5 0.8 2.5 1 7 0.1 4.5-0.4 5-0.2 5.5-0.4 3-1.3 4.5-0.8 1.7-1 1.5-2.5 2.3-1 0.6-1.5 0.5-3 0.1-4.5-0.7-1.5-0.6-8.9-5.9-4.4-2.5-4.7-2-5-1.4-0.6-0.6-1-2-1.5-4-2.1-11-1-3-1.8-4.5z"/>
<path fill="#ff5c00" d="M446.7 11.8l44.5 0 1.6 3 0.8 2.5 0.8 6 0.2 4.5-0.7 11-0.5 3-1.4 4.5-0.8 1.5-0.8 1.1-2.5 2.2-1 0.5-1.5 0.5-3.5 0-4-0.6-0.6-0.2-9.4-6-3.7-2-4.9-2-5.4-1.4-0.6-0.6-0.9-2-1.4-4-1.7-11-0.9-3-1.7-4.5z"/>
<path fill="#ff4e00" d="M447.6 11.8l43.1 0 1.7 3 0.7 2.5 0.9 5.5 0.2 4.5-0.8 11-0.5 3-1.2 4-0.8 1.6-1 1.4-2 1.9-1 0.5-1.5 0.5-1.5 0.2-2 0-4-0.5-9.3-5.6-3.8-2-5.1-2-3.7-1-2.1-0.4-0.5-0.6-0.9-2-1.1-3.5-0.5-2.5-1-9-0.7-3-1.7-5z"/>
<path fill="#ff4000" d="M448.6 11.8l41.6 0 1.7 3 0.8 2.5 0.9 5.5 0.2 4-0.9 11-0.4 3-1.3 4-0.8 1.6-1 1.5-2 1.7-1 0.5-1.5 0.5-3.5 0.1-3.5-0.4-8.5-5-5-2.5-5.5-1.9-5-1-0.5-0.6-0.7-1.5-1.1-4-0.4-2.5-0.5-8.5-0.8-3.5-1.5-5z"/>
<path fill="#ff3200" d="M449.6 11.8l40.1 0 1.7 3 0.8 2.5 0.9 5 0.2 4-0.9 11.5-0.5 2.9-1.4 4.1-0.8 1.5-1.1 1.5-1.7 1.3-2 0.8-3 0.2-3.5-0.3-9.1-5-4.2-2-5.7-1.9-5.5-1-0.5-0.6-0.6-1.5-1-4-0.2-2.5-0.3-8.5-0.6-3.5-1.4-5 0-1z"/>
<path fill="#ff2300" d="M450.6 11.8l38.5 0 1.5 2.5 1 2.5 1 5 0.2 4-0.9 11.5-0.5 3-1.3 4-0.8 1.5-1.1 1.5-1.8 1.3-2 0.7-3 0.1-3-0.2-8.2-4.4-5.3-2.4-5.4-1.6-5.6-0.9-0.5-0.6-0.5-1.5-0.9-4 0-11-0.5-3.5-1.3-5.5z"/>
<path fill="#ff1500" d="M451.6 11.8l37 0 1.5 2.5 1 2.5 0.9 4.5 0.4 4-1 11.5-0.4 3-1.3 4-0.8 1.6-1 1.3-1.5 1.2-2 0.7-2.5 0.2-3-0.2-1-0.3-8-4.1-5-2.1-5.5-1.5-5.5-0.7-0.4-0.6-0.5-1.5-0.7-3.5-0.1-2.5 0.4-9-0.3-3.5-1.1-5.5z"/>
<path fill="#ff0700" d="M452.6 11.8l35.4 0 1.4 2.2 1 2.3 1.1 4.5 0.3 4-0.5 5-0.4 7-0.5 3-0.5 2-0.8 2-0.7 1.3-1 1.2-1.5 1.1-1.5 0.5-2.5 0.2-3-0.1-8.9-4.2-4.6-1.8-5.5-1.4-3.5-0.6-2.5-0.1-0.4-0.6-0.6-2-0.3-3 0-2.5 0.7-9-0.2-3.5-0.9-5.5z"/>
<path fill="#f80000" d="M453.7 11.8l33.7 0 1.5 2.3 0.9 2.2 1.2 4.5 0.3 3.5-0.6 5.5-0.3 6.5-0.4 3-1.1 3.8-1 1.7-0.8 1-1.2 0.9-1.5 0.5-2.5 0.3-3-0.1-8.5-3.9-5-1.8-5.5-1.3-3-0.4-3-0.1-0.4-0.6-0.3-1.5-0.4-3.5 1.1-11.5 0-3.5-0.7-6z"/>
<path fill="#ea0000" d="M454.7 11.8l32 0 1.4 2 1 2 1.2 4.5 0.4 3.5-1 15-1 3.5-0.8 1.5-1 1.3-1 0.8-1.5 0.6-2.5 0.3-2.5 0-9-3.8-5-1.6-6-1.2-5.6-0.4-0.3-0.5-0.3-1.5-0.2-3.5 1.6-11.5 0-3.5-0.4-6z"/>
<path fill="#dc0000" d="M455.8 11.8l30.2 0 1.5 2 0.9 2 1.3 4.5 0.4 3.5-0.5 6-0.1 6-0.3 3-1.1 3.5-0.7 1.3-1 1.2-1 0.7-1 0.3-2.5 0.3-2.5 0-8.5-3.3-5.5-1.7-5.5-1-6-0.3-0.3-0.5-0.2-1-0.1-3.5 0.3-3 1.6-9 0.2-3.5-0.2-6z"/>
<path fill="#cd0000" d="M456.9 11.8l28.4 0 1.5 2 0.9 2 1.3 4.5 0.4 3-0.3 6.5 0 5.5-0.3 3-0.9 3.2-0.7 1.3-0.8 1.1-1 0.8-1 0.3-2.5 0.4-2.5 0-8.4-3.1-5.6-1.6-5.5-0.8-6-0.1-0.3-0.5-0.1-1 0-3.5 2.4-12 0.3-4 0-5z"/>
<path fill="#bf0000" d="M458 11.8l26.5 0 1.8 2.5 0.7 1.5 1.3 5 0.4 3.5-0.2 5.5 0.1 5.5-0.2 2.5-0.4 2-0.6 1.5-0.5 1-1 1.2-1 0.6-1.5 0.4-3.5 0.3-9-3.1-5-1.2-6-0.8-6 0.1-0.3-0.5-0.1-1 0.2-3.5 2.8-12 0.5-4 0.2-5z"/>
<path fill="#b10000" d="M459.1 11.8l24.5 0 0.8 0.9 1.1 1.6 0.7 1.5 1.4 5.5 0.4 3-0.1 5 0.2 5.5-0.2 2.5-0.6 3-0.5 1-0.9 1.2-1 0.7-1.5 0.4-3.5 0.4-9-2.8-5.5-1.2-6-0.5-5.5 0.3-0.2-0.5-0.1-1.5 0.4-3.5 3-11 0.8-4 0.4-5.5z"/>
<path fill="#a30000" d="M460.4 11.8l22.1 0 0.9 1 1 1.3 0.6 1.2 0.6 2.5 1.2 3.5 0.5 3 0 5 0.3 5-0.2 3-0.6 2.5-0.5 1-0.9 1.1-2.5 1-3 0.3-9-2.5-5.5-1.1-6-0.3-5.5 0.5-0.2-0.5 0-1.5 0.6-3.5 3.7-12 0.7-3.5 0.6-5z"/>
<path fill="#950000" d="M461.7 11.8l19.4 0 1.5 1.5 0.8 1.1 0.6 1.4 1.9 5.5 0.6 3 0.4 12-0.5 2.8-1 1.6-1 0.6-1.5 0.6-3 0.3-9-2.2-5.5-0.8-5.5-0.2-6 0.7-0.2-0.4 0-1 0.8-4 4.2-12 0.9-3.5 0.7-4.5z"/>
<path fill="#870000" d="M463.2 11.8l16.2 0 2.2 2 1.2 2 2 5 0.9 3.5 0.6 11.5-0.4 2.4-0.5 1-0.5 0.5-2 1-2.5 0.5-9.5-1.8-5.5-0.7-5.5 0.1-6 0.9-0.2-0.4 0.2-1.5 1-4 4.6-11.5 0.9-3 1.1-5z"/><path fill="#00008f" fill-rule="evenodd" d="M403.9 10.8H510.9V67.8H403.9Z M392.22 39.84a61.44 61.44 0 1 0 122.88 0a61.44 61.44 0 1 0 -122.88 0Z"/><circle cx="457.5" cy="39.1" r="25.6" fill="#00008f"/></svg>
<svg style="position:absolute;left:317.5px;top:138.6px" width="51.8" height="101.4" viewBox="317.5 138.6 51.8 101.4"><rect x="316.5" y="137.6" width="53.5" height="103" fill="#000087"/>
<path fill="#000095" d="M316.5 138l3.6-0.4 43 0 3.9 1.4 3 1.5 0 100.1-53.5 0z"/>
<path fill="#0000a3" d="M316.5 138.3l2-0.3 7.3-0.4 36.6 0 4.1 1.4 3.5 1.7 0 99.9-53.5 0z"/>
<path fill="#0000b1" d="M316.5 138.7l2-0.4 5.5-0.3 4-0.4 33.7 0 4.4 1.5 3.9 1.9 0 99.6-53.5 0z"/>
<path fill="#0000bf" d="M316.5 139l2-0.4 6.5-0.4 4.3-0.6 31.7 0 4.6 1.5 4.4 2.1 0 99.4-53.5 0z"/>
<path fill="#0000cd" d="M316.5 139.4l2-0.4 8-0.7 3.8-0.7 29.9 0 5.3 1.7 4.5 2.1 0 99.2-53.5 0zM327.8 217.6l0 0.5 1.2 1 3 1 3.5 0.2 1.6-0.2 0.7-0.5 0.1-0.5-1.1-1-2.5-1-1.8-0.3-2 0-1.8 0.3z"/>
<path fill="#0000dc" d="M316.5 139.7l2-0.4 9-0.8 3.7-0.9 28.1 0 5.7 1.7 5 2.3 0 99-53.5 0zM327.8 194.1l-0.4-0.5-0.4-0.2-2.5-0.3-2.5 0.2-2 0.7-1.4 1.1-0.8 1.5-0.2 1.5 0.4 1.4 0.5 0.6 1 0.6 1 0 1.5-0.5 2-1.3 2.4-2.3 1.2-1.5zM318.7 213.6l0.2 1 0.9 1.5 1.2 1.3 1.5 1.2 3.6 2 4.4 1.6 5.2 0.9 5.3 0.1 1.5-0.3 1-0.5 0.8-0.8 0.5-1-0.1-1.5-0.8-1-1.7-1-2.2-0.8-2-0.4-6.5-0.9-6.5-0.2-2-0.5-3.5-1.3-0.6 0.1z"/>
<path fill="#0000ea" d="M316.5 140.1l2-0.4 9-1 4.6-1.1 26.3 0 6.6 2 5 2.2 0 98.8-53.5 0 0-26.8 1 1.8 1.1 1.5 1.4 1.5 2 1.5 2 1.2 2.5 1.1 5 1.5 3 0.5 3 0.3 3.5-0.1 2-0.3 1.7-0.7 1.2-1 0.7-1 0.3-1.5-0.3-1.5-1.3-1.5-2.3-1.4-3.5-1.1-0.8-0.5 0.4-1 0.3-1.5-0.2-3.5-1.1-5-0.6-1.1-0.5-0.4-1 0.3-1.5 1.2-2.2 2.5-1.4 2-0.9 2.5-0.1 1.5 0.5 2-0.4 0.2-3.5 0-2-0.4-1.5-0.6-2.8-1.7-2.7-2.9-1-0.6 0-5.6 2 0.9 1 0.2 1.5-0.1 1.5-0.7 1.5-1.2 2-2 4.1-4.5 0.8-1 0.1-0.5-0.5-0.5-2.5-0.6-3-0.2-3 0.2-2 0.5-1.4 0.6-1.2 1-0.9 1.2z"/>
<path fill="#0000f8" d="M316.5 140.5l2-0.5 9.5-1.1 5.1-1.3 24.3 0 3.6 0.9 3.5 1.1 2.5 1 3 1.5 0 98.5-53.5 0 0-24.6 1.5 2 1.5 1.5 2 1.6 1.6 1 4.4 2 3.4 1 2.6 0.4 3 0.3 3.5 0 2.5-0.2 1.8-0.5 1.7-0.9 1.3-1.1 0.9-1.5 0.3-1.5-0.2-1.5-1-1.5-2-1.5-2.8-1.5-0.4-3.5-1.1-4.5-2-6.9-0.5-1.1-0.5-0.2-1 0.6-8.4 8.1-0.7 1-0.6 1.5-0.2 1.5 0.4 1.5-0.5 0.3-1.5 0.3-2-0.7-1.5-0.8-1.4-1.1-0.8-1-1.4-2.5-0.2-1 0.3-0.3 2 0.1 1.5-0.4 1.5-0.8 1-0.8 4.8-6.3 4.1-4.5 0.1-0.5-1.4-0.5-3.6-0.5-5.5-0.2-2.1 0.2-1.9 0.5-1.5 0.7-1 0.8z"/>
<path fill="#0007ff" d="M316.5 140.9l2-0.5 9.5-1.2 6.1-1.6 22.3 0 4.1 1 3.4 1 3.1 1.2 3 1.5 0 98.3-53.5 0 0-23.2 1.5 1.7 2 1.9 4.2 2.6 2.3 1 2.7 1 2.8 0.6 3 0.4 3.5 0.2 3-0.2 2-0.3 2-0.6 1.8-1.1 1.2-1.1 1-1.8 0.3-1.6-0.2-1.5-0.7-1.5-1.7-1.5-1.7-1-0.8-1-1.2-4.8-2.8-8.7-1.2-4.5-0.5-0.8-3.5 3.7-3 2.4-2.5 1.2-0.9 0-0.4-0.5 0.1-1 0.4-1 1.5-2.5 2-2.5 3.1-3-0.3-0.3-1.1-0.2-7.9-0.9-3-0.1-4 0.3-1.5 0.5-1.5 0.8zM320.5 207.7l2 0.6 1 0.7 0.6 1.1-0.4 1-1.2-0.5-1.5-1.3-0.8-1.2z"/>
<path fill="#0015ff" d="M316.5 141.4l2.5-0.7 9.5-1.2 6.9-1.9 20 0 4.1 0.9 3.7 1.1 3.8 1.5 3 1.5 0 98-53.5 0 0-22.2 2 2.1 2 1.6 2.4 1.5 2.6 1.3 3 1.2 2.5 0.7 2.5 0.5 3 0.3 3.3 0 2.7-0.2 2-0.4 2.2-0.9 1.8-1.2 1.2-1.3 0.8-1.5 0.4-2-0.1-1.5-0.6-1.5-0.9-1-2.3-1.7-0.7-0.8-1.3-4.4-3.7-10.6-1-3.5-0.4-2.5-0.4-0.2-2 2.9-2.5 2.4-1.5 1-1 0.3-0.5 0-0.4-0.4 0-0.5 0.9-2 2.1-2.5 3.1-2.5-0.2-0.3-14.5-1.4-3.6 0.2-1.4 0.3-1.5 0.6z"/>
<path fill="#0023ff" d="M316.5 141.8l2.5-0.7 9.5-1.3 5.5-1.6 3-0.6 17.2 0 4.3 0.9 4 1.1 4 1.5 3.5 1.7 0 97.8-53.5 0 0-21.3 2.4 2.3 2.1 1.5 2.6 1.5 2.9 1.4 3 1.1 2.5 0.6 3 0.5 3 0.2 3 0 2.5-0.3 2.5-0.7 2-1 1.7-1.3 1.3-1.5 0.6-1.5 0.3-2-0.2-2-0.7-1.5-1-1.1-1.9-1.4-0.6-1-1.4-4-4.2-11-1.1-3.5-0.8-3.7-1.5 2.4-1.5 1.7-2 1.5-1 0.2-0.2-0.6 0.2-0.5 0.9-1.5 1.4-1.5 2.8-2-5.1-0.4-8-1.2-3-0.3-3.5 0.1-3 0.8z"/>
<path fill="#0032ff" d="M316.5 142.2l2.5-0.7 9.5-1.4 5-1.5 3.5-0.7 4-0.3 11.9 0 4.6 0.9 4.5 1.2 4 1.4 4 2 0 97.5-53.5 0 0-20.6 2.3 2.1 2.1 1.5 2.6 1.5 3.5 1.7 3 1 3 0.8 3 0.4 3.5 0.1 3-0.1 2.5-0.4 2.5-0.9 1.9-1.1 1.6-1.4 1.1-1.6 0.5-1.5 0.2-2-0.2-2-0.6-1.5-1.2-1.5-1.9-1.5-6.3-15-1.4-4-0.7-3-0.5-1-2 2.7-1 0.9-1 0.5-0.2-0.1 0.1-0.5 0.2-0.5 1.3-1.5 2-1.5-0.4-0.3-5-0.4-8-1.4-3-0.4-3.5 0-3 0.6z"/>
<path fill="#0040ff" d="M316.5 142.7l3-0.9 9-1.4 5-1.5 3-0.7 8.8-0.6 5.7 0 4.5 0.7 5.5 1.3 4.5 1.6 4.5 2.2 0 97.2-53.5 0 0-19.9 2.2 1.9 2.3 1.6 3.3 1.9 3.2 1.4 3 1 3 0.7 3 0.5 3.5 0.1 3.5-0.2 2.5-0.5 2-0.7 2-1.1 1.9-1.7 1-1.5 0.6-1.5 0.2-2-0.2-2-0.6-2-1-1.5-2.2-2-6.6-14.5-1.9-5-0.7-2.5-0.5-0.6-1-0.3-5.5-0.6-10-2-4-0.2-3 0.5zM339.5 190.8l0 0.4-1.5 1.5-0.3-0.1 0.7-1z"/>
<path fill="#004eff" d="M316.5 143.1l3-0.9 9-1.4 5-1.6 2.5-0.6 3-0.4 9.5-0.5 5 0.4 6 1.3 5.5 1.9 5 2.3 0 97-53.5 0 0-19.3 2.5 2.1 2.5 1.6 3.5 1.9 3 1.3 3 1 3.5 0.8 3 0.3 3.5 0.1 3-0.2 2.9-0.6 2.6-1 1.6-1 1.6-1.5 1-1.5 0.7-2 0.2-2-0.4-2.5-0.7-2-1-1.5-2-1.9-6.7-13.6-2-4.5-1.3-3.6-0.5-0.7-0.4-0.2-5.6-0.7-10.5-2.4-3.5-0.2-3.5 0.3z"/>
<path fill="#005cff" d="M370 143.9l0 96.7-53.5 0 0-18.7 2.5 2 2.6 1.7 3.7 2 3.2 1.3 3 0.9 3 0.6 3.5 0.4 3.5 0.1 3-0.3 2.8-0.5 2.7-1 1.9-1 1.7-1.5 1-1.5 0.7-2 0.1-2-0.3-2.5-0.7-2.5-1.4-2-1.7-1.5-7-13.5-3.8-8.2-0.5-0.8-5.5-0.8-11-2.8-3.5-0.3-3.5 0.2 0-42.8 3-1 9-1.5 5-1.6 2.5-0.6 2.5-0.3 10-0.7 5 0.4 6 1.4 5.7 1.9z"/>
<path fill="#006aff" d="M370 144.2l0 96.4-53.5 0 0-18.2 2.5 2 2.6 1.7 3.9 2.1 3 1.2 3 0.9 3 0.6 3 0.3 3.5 0.1 3.5-0.2 2.9-0.5 3.1-1 2-1 1.4-1 1.4-1.5 0.8-2 0.2-2-0.4-3.5-1-3-1-1.5-1.9-2-7.5-13.3-4-8-0.5-0.7-5-0.9-11.5-3.2-3.5-0.4-3.5 0 0-41.6 3-1 9-1.5 5.5-1.8 2.5-0.6 12.5-0.9 4.8 0.4 6.2 1.4 5.5 2z"/>
<path fill="#0078ff" d="M370 144.5l0 96.1-53.5 0 0-17.7 2.8 2.2 2.4 1.5 3.7 2 2.4 1 3 1 2.7 0.6 3.1 0.4 3.9 0.1 3.5-0.1 3.4-0.5 3.1-0.9 2.6-1.1 1.6-1 1.5-1.5 0.8-1.5 0.2-2-0.4-4-0.5-2-0.8-1.9-1-1.5-1.9-2.1-7.6-12.5-4.5-8.5-0.5-0.5-5.5-1.2-11-3.4-3.5-0.5-3.5 0 0-40.5 3.5-1.2 8.5-1.5 5-1.6 2.5-0.6 2.5-0.4 10.5-0.8 4.5 0.4 6 1.3 5.6 2z"/>
<path fill="#0087ff" d="M370 144.8l0 95.8-53.5 0 0-17.2 2.3 1.7 3.1 2 2.7 1.5 3.3 1.5 3.1 1 2.4 0.5 3.1 0.4 3 0.1 4 0 3-0.4 3-0.6 3-1 2.9-1.5 1.8-1.5 1-1.5 0.2-1.5-0.2-2-0.6-3-1.4-4-1.2-1.8-1.5-1.7-7-10.8-3-4.8-3-5.4-0.5-0.5-5-1.3-11.5-3.8-3.5-0.6-3.5-0.1 0-39.4 3.5-1.1 8.5-1.6 5-1.7 2.5-0.6 2.5-0.4 10.5-0.8 5 0.4 5.5 1.3 5.5 1.9z"/>
<path fill="#0095ff" d="M370 145.1l0 79.9-0.9 1.6-0.2 1.5 0.1 1 1 1.7 0 9.8-53.5 0 0-16.8 2.5 1.8 3.1 2 2.9 1.6 3 1.3 3 1 2.5 0.5 6 0.5 4-0.1 3.3-0.3 3.2-0.7 3.5-1.1 2.6-1.2 2.3-1.5 1.2-1.5 0.3-1.5-1.8-6.5-1.4-3.5-1.2-1.8-1.5-1.7-7-10.2-4-6.1-2.5-4.2-0.5-0.5-5.2-1.5-11.3-4.1-3.5-0.7-3.5-0.2 0-38.2 3.5-1.2 8.5-1.6 5-1.7 2.5-0.7 10.5-1.1 3-0.2 4.5 0.4 5.5 1.3 5.5 2z"/>
<path fill="#00a3ff" d="M370 145.4l0 77.4-2.9 2.3-0.4 0.5-0.2 1 1 3 2.5 2.9 0 8.1-53.5 0 0-16.5 2.7 2 3.2 2 5.1 2.6 5 1.5 3 0.5 3 0.1 4 0.1 3.5-0.3 3.2-0.5 3.3-0.8 4.5-1.7 3-1.5 2-1.5 0.3-1-0.6-1.5-1.7-3.1-1.8-4.9-1.2-2.4-10-13.4-3.5-5-2.9-4.7-0.6-0.6-5.5-1.7-8-3.2-3-1.1-3-0.7-4-0.4 0-37 3.5-1.3 8.5-1.6 5-1.7 2.5-0.7 11-1.3 2.5-0.1 4.7 0.4 5.8 1.4 5 1.9z"/>
<path fill="#00b1ff" d="M316.5 146.4l3.5-1.3 8.5-1.7 5-1.8 2.5-0.6 11-1.4 2.5-0.1 4.5 0.3 5.5 1.3 5.4 2 5.1 2.6 0 75.6-3 1.5-2 0.4-1.5-0.3-1.5-1.1-1.5-2.1-2-4.6-1.1-2-10.4-13.3-6.4-9.2-0.6-0.6-5.6-1.9-10.4-4.4-3.5-0.9-4-0.5zM316.5 224.4l4.5 3.2 5.5 3 4.5 1.6 5 0.8 6.5 0.2 5-0.4 5.5-1.1 8-2.5 1.5-0.3 1.5 0.1 1 0.4 1.3 1.2 2.2 1.6 1.2 1.4 0.3 1.1-0.2 3.9 0.2 2-53.5 0z"/>
<path fill="#00bfff" d="M316.5 146.9l3.5-1.3 8.5-1.8 5-1.8 2.5-0.7 11-1.4 2.5-0.2 4.5 0.4 5.5 1.3 5.5 2 5 2.6 0 74.1-2.5 1.1-2 0.4-1-0.1-1-0.3-1.4-1.1-1.1-1.5-2.2-4.5-1.3-2-10-12.2-6.9-9.3-0.6-0.6-5.2-1.9-10.8-4.9-3-0.9-4.5-0.7zM316.5 224.6l5 3.6 4.5 2.5 4.5 1.7 4.5 0.9 5.5 0.3 5.5-0.2 5.4-0.8 8.6-2.1 2-0.2 1.5 0.3 4 2 1 0.7 0.5 0.7 0.4 1.6-0.1 3 0.2 2-53 0z"/>
<path fill="#00cdff" d="M316.5 147.5l3.5-1.3 8-1.8 5.5-2 2.5-0.7 11-1.5 2.5-0.2 4.5 0.3 5.5 1.4 5.2 1.9 5.3 2.7 0 72.7-2.5 1-2 0.3-1.5-0.3-1.5-1-1-1.4-2.1-4-1.8-2.5-10.1-11.7-6.8-8.8-0.7-0.6-4.8-1.9-11.2-5.4-3-0.9-4.5-0.9zM316.5 224.9l5 3.6 4.5 2.5 4.2 1.6 4.3 0.9 5 0.4 6 0 5-0.6 9-1.8 2-0.1 1.5 0.3 4 1.6 1 0.7 0.5 0.6 0.3 1 0.1 5-52.4 0z"/>
<path fill="#00dcff" d="M316.5 148.1l3.5-1.4 8-1.8 7.5-2.7 2.5-0.5 11.5-1.4 4.5 0.3 5.5 1.3 5 1.9 5.5 2.9 0 71.2-2 0.9-2 0.3-1.5-0.2-1.5-1-1-1.3-2.4-4-3.1-4-8-8.5-4-4.7-3.8-4.8-0.7-0.6-5.5-2.4-10.5-5.4-2.5-0.8-5-1.3zM316.5 225.1l4.5 3.3 4.5 2.7 4 1.6 4.5 1.1 5 0.4 6.5 0.1 4-0.4 8-1.4 2.5-0.2 1.5 0.1 3.5 0.9 2 0.9 1 1.1 0.3 1.3 0.1 4-51.9 0z"/>
<path fill="#00eaff" d="M316.5 148.8l3-1.3 8-2 8-2.9 2.5-0.5 11.5-1.5 4.5 0.3 5.5 1.3 5.1 1.9 5.4 2.9 0 69.9-2 0.8-2 0.3-1.5-0.4-1-0.7-3.3-4.8-3.2-4-8-8-9-10.1-5.2-2.4-10.8-5.9-2.5-0.9-4-1-1-0.4zM316.5 225.4l4.5 3.3 4.5 2.7 4 1.6 4 1 4.5 0.5 7 0.2 4-0.3 10-1.3 2 0.1 4 0.8 1.5 0.7 0.5 0.4 0.5 0.8 0.4 4.7-51.4 0z"/>
<path fill="#00f8ff" d="M316.5 149.6l3.3-1.5 7.7-2.2 8-2.9 14-2.1 4.5 0.2 5.5 1.4 5 1.9 5.5 2.9 0 68.5-1.5 0.6-1.5 0.4-1.5-0.1-1.1-0.6-1-1-2.5-3.5-3.4-3.9-8-7.5-9.5-10.2-5.8-2.9-10.2-5.9-2.5-1-5-1.5zM316.5 225.6l5 3.7 4 2.3 4 1.7 4 1 4.5 0.6 7 0.1 4-0.2 9.5-1 3.5 0.3 2.5 0.5 1.5 0.6 0.8 0.9 0.3 1 0.2 3.5-50.8 0z"/>
<path fill="#07fff8" d="M316.5 150.4l3.5-1.7 7.5-2.3 7.5-2.9 3-0.6 11.5-1.7 4.5 0.2 5.5 1.3 5 1.9 5.5 3 0 67-1.5 0.7-1.5 0.2-1-0.1-1-0.5-7-7.7-8-7-10-10.3-5.5-2.8-10.5-6.4-2.5-1.1-5-1.6zM316.5 225.8l4.5 3.4 4 2.5 4 1.7 4.5 1.2 4 0.5 6 0.3 4.5-0.1 9.5-0.9 4 0.2 2.5 0.4 1.5 0.7 0.8 0.9 0.5 4-50.3 0z"/>
<path fill="#15ffea" d="M316.5 151.2l4-2 7-2.4 7.5-2.9 2.5-0.6 12-1.8 2-0.1 2.5 0.3 5.5 1.3 5 1.9 5.5 3 0 65.4-1.5 0.7-1 0.1-1-0.1-1-0.5-7-6.8-4.5-3.5-5-4.4-9-8.9-5.2-2.8-10.8-6.9-2.5-1.2-5-1.7zM316.5 226.1l4.5 3.4 4 2.4 4 1.8 4.5 1.2 4 0.6 6 0.3 4.5-0.1 9-0.7 4 0.1 2.5 0.4 1.5 0.7 0.8 0.9 0.5 3.5-49.8 0z"/>
<path fill="#23ffdc" d="M316.5 152.1l4.5-2.4 6.5-2.4 7-2.9 3-0.7 12-1.9 2-0.1 2.5 0.3 5.5 1.3 5 1.9 5.5 3.1 0 63.6-2 0.5-1-0.1-1-0.6-14-10.8-5-4.4-7-6.6-5.7-3.3-10.3-7-3-1.4-4.5-1.5zM316.5 226.3l4 3.1 3.5 2.3 3.5 1.7 3.5 1.2 5 1 6.5 0.5 4.5 0 10-0.6 5 0.3 2 0.5 1 0.8 0.4 1 0.3 2.5-49.2 0z"/>
<path fill="#32ffcd" d="M316.5 153.1l5-2.9 13-5.4 3-0.7 12-2 2-0.1 2.5 0.2 5.5 1.4 5 1.9 5.5 3.1 0 61.5-1 0.2-1.5-0.1-4-1.8-2-1.2-6-4.2-4-3-5-4.2-6.5-5.9-5.4-3.3-8.1-5.9-3-1.9-2.5-1.3-4.5-1.5zM316.5 226.5l4 3.1 3.5 2.3 3.5 1.8 3.5 1.2 5 1 6.5 0.5 4.5 0 10.5-0.4 4 0.2 2 0.6 1 0.8 0.7 3-48.7 0z"/>
<path fill="#40ffbf" d="M316.5 154.2l3.5-2.4 2-1.1 12-5.4 3.5-0.9 12-2 2-0.1 2.5 0.2 5.5 1.3 4.5 1.8 6 3.3 0 59.1-2 0.1-3-0.5-2-0.6-2-1-8.5-5.7-5-4-7.5-6.4-5.8-3.8-9.2-6.9-4-2.4-4.5-1.5zM316.5 226.8l4 3.1 3.5 2.3 3.5 1.8 3.5 1.2 5 1 6.5 0.5 4.5 0.1 10.5-0.4 3.5 0.2 1.5 0.4 1.1 0.6 0.5 1 0.5 2-48.1 0z"/>
<path fill="#4effb1" d="M316.5 155.4l5.5-4 11.5-5.5 3.5-1 12-2.1 2-0.2 2.5 0.2 2.5 0.4 3 0.8 5.4 2.1 5.6 3.2 0 56.9-2.5 0.3-3.5-0.3-2.5-0.9-4-2.3-3.5-2.2-4-2.9-10-8-6.2-4.3-9.8-7.7-3.5-2-2.5-0.7-1.5-0.6zM316.5 227l4 3.2 3.5 2.3 3.5 1.8 3.5 1.2 5 1 6.5 0.5 5 0.1 9.5-0.3 3.5 0.2 1.5 0.4 1.1 0.7 0.4 0.7 0.5 1.8-47.5 0z"/>
<path fill="#5cffa3" d="M316.5 156.6l4.3-3.5 1.7-1.2 11-5.6 3.5-1.1 12-2.1 2-0.1 2.5 0.1 2.5 0.4 3 0.8 5 1.9 6 3.5 0 55.1-4 0.5-2.5-0.2-2-0.6-5-2.7-7-4.6-9-6.8-0.5-0.5-4.6-3.3-11.9-9.7-3-1.8-2.5-0.5-1.5-0.7zM316.5 227.3l4 3.1 3.5 2.4 3.5 1.8 3.5 1.2 5 1 6.5 0.5 5 0.1 9.5-0.2 3 0.2 1.5 0.4 1 0.7 0.9 2.1-46.9 0z"/>
<path fill="#6aff95" d="M316.5 158.1l4.2-4 2-1.5 3.3-2 7-3.7 2-0.8 2-0.5 11.5-2.1 2.5-0.2 2.5 0.1 2.5 0.4 3 0.8 5.1 2 5.9 3.4 0 53.6-4 0.8-3-0.2-1-0.2-6-3.1-6-3.7-9.5-6.8-0.5-0.5-6.3-4.8-8.2-7.3-3-2.3-1.5-1-3-0.6-1.5-0.8zM316.5 227.5l4.5 3.6 3.5 2.3 3 1.5 3.5 1.2 4.8 1 6.7 0.5 5 0.2 8.5-0.2 3 0.2 1.7 0.3 1 0.5 0.4 0.5 0.7 1.5-46.3 0z"/>
<path fill="#78ff87" d="M316.5 160l3.8-4.4 2.2-2 3.7-2.5 6.1-3.5 2.2-1 2-0.5 11.5-2.2 2.5-0.3 2.5 0 2.5 0.4 3 0.7 5 2 6.5 3.7 0 52.3-4 0.8-2 0-1.5-0.1-4.5-2-3.5-1.9-5-3-9-6.1-7.1-5.8-8.4-7.8-3-2.5-1-0.5-3-0.7-1.5-0.8zM316.5 227.8l4.5 3.6 3.5 2.3 3 1.5 3.5 1.2 4.5 1 6.5 0.5 5 0.2 9-0.1 2.5 0.2 1.5 0.3 1 0.4 0.5 0.6 0.6 1.1-45.6 0z"/>
<path fill="#87ff78" d="M321.9 155.1l1.7-1.5 2.8-2 4.9-3 2.7-1.4 3.5-1 12.5-2.2 2-0.1 2.5 0.2 2.5 0.5 3 0.9 4.5 2 5.5 3.3 0 51-4.5 1-3-0.1-5-2.1-5-2.7-12-7.5-7.3-6.3-11.2-10.7-4-1.1-1.5-1 0-9.2 4.1-5.5zM316.5 228.1l4.5 3.5 3.5 2.4 3 1.5 3.5 1.2 4 0.9 4.5 0.4 6 0.3 9.5 0.1 3 0.1 2.1 0.6 0.6 0.5 0.7 1-44.9 0z"/>
<path fill="#95ff6a" d="M323 155.1l2.3-2 2.8-2 3.9-2.5 2.5-1.2 3.5-0.9 12.5-2.2 2 0 2.5 0.2 5 1.4 4 1.7 6 3.7 0 49.8-4 0.9-3 0.1-6-2.3-6.5-3.4-10-6-8.1-7.3-9.9-10.2-4.1-1.3-1.4-0.9-0.5-0.7 0-5.8 4-6.1zM316.5 228.3l4.5 3.7 3.5 2.3 3 1.5 3.5 1.2 3.5 0.8 4.5 0.5 6.5 0.3 11.5 0.3 1.5 0.2 1 0.4 1.1 1.1-44.1 0z"/>
<path fill="#a3ff5c" d="M324 155.1l2.2-2 2.7-2 3.1-2 2.5-1.3 4-1.1 12-2.1 2 0 2.5 0.3 5 1.3 4.2 1.9 5.8 3.6 0 48.7-3.5 0.8-2.5 0.3-1-0.1-6-2.1-4-1.9-12.5-7-8.2-7.8-9.3-10.2-4-1.6-1.1-0.7-0.7-1-0.3-1-0.1-1 0.3-1.5 3.8-6.5 1.4-2zM316.5 228.6l4.5 3.7 3 2 3.4 1.8 3.6 1.2 3.5 0.8 4 0.4 6.5 0.4 11 0.3 2.5 0.5 1.2 0.9-43.2 0z"/>
<path fill="#b1ff4e" d="M325.5 154.6l2.2-2 2.7-2 2.3-1.5 1.8-0.9 4-1.1 9.5-1.8 3-0.4 2 0.1 2.5 0.3 4.6 1.3 4.3 2 5.6 3.6 0 47.6-3 0.7-3.5 0.4-3-0.9-3.5-1.2-4.5-2-12-6.4-5-4.8-3.9-4-3.9-4.5-4.2-5.2-3.6-1.8-1.3-1-0.5-1-0.1-1 0.4-1.5 0.6-1.5 3.2-5.5 1.5-2zM316.5 228.9l4.5 3.7 3 2.1 3.5 1.7 3.5 1.2 3 0.7 4 0.4 6.5 0.5 11 0.4 2 0.4 1.2 0.6-42.2 0z"/>
<path fill="#bfff40" d="M327.4 153.6l4.4-3.5 1.7-1.1 1.5-0.6 3.5-1 9-1.7 4-0.4 2 0 2.5 0.4 4.5 1.4 4 2 5.5 3.5 0 46.5-3 0.8-3 0.5-4.5-1.2-5-1.9-4.5-2.1-9.5-4.8-6.2-6.3-5.7-6.5-4.6-6.1-3.5-2.4-0.5-0.5-0.5-1-0.1-1 0.3-1.5 1.8-4 2.7-4zM316.5 229.2l4.5 3.7 3 2.1 3 1.5 3.5 1.3 3 0.7 3 0.4 7.5 0.5 10 0.5 2 0.2 1.5 0.5-41 0z"/>
<path fill="#cdff32" d="M329.3 152.6l3.7-2.8 1.5-0.8 1.5-0.6 3-0.7 9-1.7 4-0.4 4.1 0.5 4.7 1.5 3.7 1.9 5.5 3.6 0 45.4-3.5 0.9-2.5 0.4-5.5-1.5-5.5-2-12.5-6-6.9-7.2-5.3-6.5-3.8-5.5-2.9-2.5-0.6-1-0.3-1 0.1-1.5 0.5-1.5 2-4 2.6-3.5zM316.5 229.5l4.5 3.7 3 2.1 3 1.5 3.5 1.2 3 0.7 3.5 0.5 15.5 1 3.3 0.4-39.3 0z"/>
<path fill="#dcff23" d="M331.2 151.6l2.8-2 3-1.1 11.5-2.3 4-0.3 4 0.6 4.5 1.6 3.8 2 5.2 3.5 0 44.4-3.5 0.9-2.5 0.3-6-1.5-6.5-2.4-11-5-7.5-8.2-4.6-6-3.5-5.5-2.3-2.5-0.5-1-0.2-1 0.1-1.5 0.4-1.5 2.1-4 3.1-4zM316.5 229.8l4 3.3 3 2.2 3 1.6 3.5 1.3 3 0.7 3.5 0.5 16.4 1.2-36.4 0z"/>
<path fill="#eaff15" d="M331.9 151.6l2.6-1.8 3.7-1.2 10.3-2 2.5-0.3 2 0 4 0.7 4 1.5 3.9 2.1 5.1 3.6 0 43.2-5.5 1.3-6-1.3-6-2-12-5.1-6-6.7-3.1-4-2.9-4-3.2-5.5-1.6-2-0.7-2 0-1.5 0.4-1.5 0.8-2 1.2-2 3-4zM316.5 230.2l4.2 3.4 2.8 2 2.5 1.4 3 1.2 3 0.8 3.5 0.6 12.6 1-31.6 0z"/>
<path fill="#f8ff07" d="M332.6 151.6l2.4-1.6 4-1.2 10-2 4-0.1 4 0.7 4 1.5 3.5 1.9 5.5 3.9 0 42.1-3 0.9-2.5 0.4-5-0.9-5-1.4-14-5.5-4.1-4.7-4-5-3.1-4.5-2.1-3.5-1.2-2.5-1.3-2-0.7-2 0-1.5 0.3-1.5 1.6-3.5 2.8-4 2.2-2.5zM316.5 230.5l4 3.3 2.5 1.8 2.5 1.4 2.5 1.1 3 0.9 3 0.7 9.6 0.9-27.1 0z"/>
<path fill="#fff800" d="M333 151.8l2.5-1.5 4-1.3 9.5-1.8 4-0.2 4 0.8 4 1.5 3.5 2 5.5 3.9 0 41.1-5 1.3-5.5-0.8-4-1.1-4.5-1.4-10.5-4-0.7-0.7-6-7.5-3.8-5.5-2.5-4.5-2.2-4.5-0.4-1.5-0.1-1.5 0.3-1.5 1.6-3.5 2.7-4 1.7-2zM316.5 230.8l6 4.7 2 1.3 2.5 1.2 3 1 3 0.8 7.1 0.8-23.6 0z"/>
<path fill="#ffea00" d="M333.4 152.1l1.1-0.8 1.5-0.8 4.5-1.3 8.5-1.7 2.5-0.2 2 0.1 3.5 0.7 4 1.6 4 2.4 5 3.6 0 40-5 1.3-6-0.8-4-1-4.5-1.4-10-3.5-0.7-0.7-6-8-3.7-5.5-2.3-4.5-1.7-4-0.4-1.5 0-1.5 0.3-1.5 1.4-3.5 2.7-4 1.7-2zM316.5 231.1l5.5 4.4 4 2.3 5 1.8 5.8 1-20.3 0z"/>
<path fill="#ffdc00" d="M333.5 152.6l2.5-1.6 4-1.3 9-1.8 2-0.2 2 0 4 0.8 4 1.6 4 2.4 5 3.8 0 38.8-5 1.4-6-0.7-4-0.9-5-1.5-9.5-3.1-0.7-0.7-5.4-7.5-3.6-5.5-2.5-5-1.7-5-0.2-1.5 0.2-1.5 1.3-3.5 2.5-4 1.6-2zM316.5 231.4l5 4 3.5 2.2 2.2 1 2.8 1 4.6 1-18.1 0z"/>
<path fill="#ffcd00" d="M334 152.8l2.5-1.5 4-1.4 8.5-1.7 2.5-0.2 2 0.2 4 0.9 3.6 1.5 3.9 2.4 5 3.8 0 37.8-3 0.9-2 0.5-6-0.6-4-0.8-4.5-1.2-10-3.1-0.6-0.7-5.6-8-3.3-5.5-2.2-4.5-1.6-5 0-1.5 0.1-1.5 1.3-3.5 2.4-4 1.7-2zM316.5 231.7l4.9 3.9 3.1 2 4.5 1.9 4.1 1.1-16.6 0z"/>
<path fill="#ffbf00" d="M334 153.5l2.5-1.7 4-1.5 8.5-1.7 2-0.2 2 0.1 4 0.8 4 1.7 4.1 2.6 4.9 3.8 0 36.6-4.5 1.4-3-0.1-3.5-0.3-4-0.8-5-1.2-9.5-2.7-0.6-0.7-5.4-8-3.2-5.5-2.2-5-1.2-4.5-0.1-1.5 0.2-1.5 1.1-3 2.2-4zM316.5 232l4.5 3.6 3 2 3.5 1.6 4.5 1.4-15.5 0z"/>
<path fill="#ffb100" d="M334.5 153.7l2.5-1.6 4-1.5 8-1.6 2-0.2 2 0 4 0.9 4 1.8 4.1 2.6 4.9 3.8 0 35.5-4.5 1.5-3.5-0.1-3.5-0.3-4-0.7-14-3.6-0.6-0.6-5.1-8-3.1-5.5-1.9-4.5-1.2-4.5-0.1-1.5 0.1-1.5 1.1-3.5 2.3-4zM316.5 232.3l4.1 3.3 3 2 3 1.5 4.4 1.5-14.5 0z"/>
<path fill="#ffa300" d="M334.8 154.1l2.7-1.7 3.5-1.4 8-1.7 2-0.2 2 0.1 4 0.9 4 1.8 5.5 3.7 3.5 2.9 0 34.4-4.5 1.4-6-0.1-7-1.1-12.1-3-4.5-7-3.3-6-2.2-5-1.2-4.5 0-3 1-3.5 2.1-4 1.2-1.6zM316.5 232.6l4 3.2 2.7 1.8 2.9 1.5 4.1 1.5-13.7 0z"/>
<path fill="#ff9500" d="M335 154.7l1.3-1.1 1.7-0.9 3.5-1.4 7.5-1.6 2-0.2 2 0.1 4 1 4 1.8 5.5 3.7 3.5 2.9 0 33.3-2.1 0.8-2.4 0.7-3 0.1-3.5-0.1-7-1-11.6-2.7-4.5-7.5-3.2-6-1.8-4.5-1.1-4.5 0-3 1-3.5 1.8-3.5 1.1-1.5zM316.5 232.9l4 3.1 2.5 1.7 2.6 1.4 3.9 1.5-13 0z"/>
<path fill="#ff8700" d="M335.3 155.1l2.7-1.9 3.5-1.4 7.4-1.7 2.1-0.2 2 0.1 4 1 4 1.9 6 4.1 3 2.6 0 32-2.3 1-2.2 0.6-3 0.2-3.5 0-6.5-0.8-12.1-2.5-4.3-7.5-3-6-1.7-4.5-1.1-4.5 0.1-3 0.8-3 1.8-3.6 1-1.4zM316.5 233.2l6 4.4 2.7 1.5 3.7 1.5-12.4 0z"/>
<path fill="#ff7800" d="M335.6 155.6l2.7-2 3.7-1.5 7-1.6 2-0.2 2 0.1 3.5 0.9 4 1.8 4.6 3 4.9 4.1 0 30.8-2.5 1.1-2 0.6-6 0.3-6.5-0.6-12.5-2.2-0.5-0.6-3.1-6-3.2-6.5-1.7-4.5-1.1-4.5-0.1-1.5 0.1-1.5 0.8-3 1.8-3.8zM316.5 233.4l4 3.1 2.4 1.6 2.6 1.3 2.8 1.2-11.8 0z"/>
<path fill="#ff6a00" d="M336 156l2.5-1.9 3.5-1.5 7-1.7 2-0.2 2 0.1 3.5 0.9 4 1.8 5.2 3.6 4.3 3.7 0 29.5-2.5 1.2-2 0.6-3 0.3-3.5 0.2-6.5-0.5-12-1.9-0.5-0.6-2.9-6-3-6.5-1.6-4.5-1-4.5-0.1-2.5 0.9-3.5 1.7-3.5zM316.5 233.7l3.8 2.9 2.2 1.5 2.9 1.5 2.4 1-11.3 0z"/>
<path fill="#ff5c00" d="M336.7 156.1l2.8-2 3.5-1.4 6-1.4 2-0.2 2 0.1 3.5 1 4 1.8 5.2 3.6 3.6 3 0.7 0.8 0 28.2-2 1-2.5 0.9-3 0.4-3.5 0.2-6.5-0.3-12-1.6-0.5-0.6-5.6-12.5-1.5-4.5-0.9-4.5 0-2.5 0.9-3.5 1.7-3.5zM316.5 233.9l5.7 4.2 5.1 2.5-10.8 0z"/>
<path fill="#ff4e00" d="M337.5 156.1l3-1.9 4-1.4 5-1.2 2-0.1 1.5 0.2 3.5 0.9 4 2 4.5 3 4 3.3 1 1.1 0 26.9-2.3 1.2-2.2 0.8-3 0.5-3.5 0.3-6-0.1-12.5-1.4-0.4-0.6-3.1-7-2.4-6-1.3-4.5-0.8-4.5 0.1-2.5 1.1-3.5 1.8-3.2zM316.5 234.1l5.4 4 5 2.5-10.4 0z"/>
<path fill="#ff4000" d="M337.8 156.6l2.7-1.9 3.5-1.3 5-1.3 2-0.2 1.5 0.1 3.5 0.9 3.7 1.7 4.3 2.8 4.5 3.7 1.5 1.6 0 25.3-2.5 1.5-2 0.7-3 0.7-3.5 0.4-6 0-12.5-1.1-0.4-0.6-5.1-13-1.2-4.5-0.7-4.5 0.1-2.5 0.9-3 1.6-3zM316.5 234.4l5.1 3.7 4.8 2.5-9.9 0z"/>
<path fill="#ff3200" d="M338.1 157.1l2.8-2 3.6-1.4 4.5-1.1 2-0.2 1.5 0.1 3.5 0.9 3.5 1.6 3.9 2.6 4.6 3.6 2 2.3 0 23.7-2.2 1.4-2.3 1-3 0.7-3.5 0.6-6 0.1-12.5-0.9-0.4-0.5-4.6-13-1.2-4.5-0.6-4 0-2.5 0.8-3 1.6-3zM316.5 234.6l4.8 3.5 4.7 2.5-9.5 0z"/>
<path fill="#ff2300" d="M339 157.1l2.5-1.7 4-1.5 4-1 3 0 3.5 1 3.5 1.7 3.8 2.5 4.4 3.5 2.3 2.7 0 21.9-2 1.5-2.5 1.2-3 0.9-3.5 0.6-6 0.3-12.5-0.6-0.5-1-4.3-13-1-4.5-0.4-4 0-2.5 1.1-3 1.6-2.8zM316.5 234.8l4.6 3.3 4.5 2.5-9.1 0z"/>
<path fill="#ff1500" d="M339.3 157.6l2.7-1.8 3.5-1.4 4-1 3 0 3 0.8 3.5 1.6 3.5 2.3 4.4 3.5 1.6 1.6 1.5 2.1 0 19.9-2.5 1.9-2 1-3 1.1-3.5 0.7-6 0.5-12.5-0.3-0.5-1-3.9-13.5-0.8-4-0.4-4 0.1-2.5 0.8-2.5 1.4-2.5zM316.5 235l4.5 3.2 4.3 2.4-8.8 0z"/>
<path fill="#ff0700" d="M339.7 158.1l2.3-1.7 3.5-1.5 3.5-1 3-0.1 3 0.7 3.5 1.6 3.2 2 3.8 3 2.6 2.5 1.9 2.9 0 17.5-2 1.8-2.1 1.3-2.9 1.3-3.5 0.9-3 0.5-3.5 0.3-12.5 0-0.3-0.5-3.7-14-0.7-4-0.3-4 0.1-2.5 0.9-2.5 1.4-2.5zM316.5 235.2l4.5 3.2 3.9 2.2-8.4 0z"/>
<path fill="#f80000" d="M357 155.9l3.8 2.2 4.4 3.5 2.8 2.8 2 3.4 0 14.8-1.9 2-2 1.5-3 1.5-3.6 1.2-3 0.6-3 0.3-13 0.4-0.3-0.5-2.8-12.5-1-5.5-0.3-3 0.1-3 0.1-1 0.9-2 1.5-2.5 2.3-2.3 2.5-1.6 2.8-1.1 2.7-0.7 2.5-0.2 2.5 0.5zM316.5 235.4l4.5 3.2 3.6 2-8.1 0z"/>
<path fill="#ea0000" d="M356.5 156.2l4 2.3 3.9 3.1 3 3 1.6 2.5 1 2.3-0.1 11.7-1.5 2-2.3 2-3.1 1.8-3.1 1.2-2.9 0.7-3.5 0.6-13 0.7-0.3-0.5-0.7-4.6-1.8-8.4-0.7-5-0.2-3 0-3 0.2-1 0.6-1.5 1.5-2.5 1.9-2 2-1.5 3-1.4 3-0.8 2.5-0.2 2.5 0.5zM316.5 235.6l4.3 3 3.4 2-7.7 0z"/>
<path fill="#dc0000" d="M356.2 156.6l3.5 2 3.8 3 3 2.9 1.8 2.6 1 2 0.7 2.5 0 6.9-0.5 1.6-1.4 2-2.1 2-3.1 2-3.4 1.5-3 0.8-3.5 0.6-12.5 1-0.2-0.4-0.5-4.5-1.6-9-0.6-4-0.1-5.5 0.2-2 0.4-1 1.4-2.5 1.8-2 2-1.5 2.7-1.3 2.5-0.8 2.5-0.3 2.5 0.4zM316.5 235.8l4 2.8 3.4 2-7.4 0z"/>
<path fill="#cd0000" d="M356 157.1l3.5 2 3.2 2.5 3.1 3 1.8 2.5 1.4 3 0.6 3 0.1 3-0.7 3-0.5 0.9-1.3 1.6-2 2-2.9 2-3.2 1.5-2.6 0.8-3.1 0.7-12.9 1.4-0.2-0.4-0.4-5-1.7-13 0-5.5 0.2-1.5 0.4-1 1.5-2.5 1.7-1.8 2-1.4 2.6-1.3 2.4-0.7 2-0.2 2.5 0.4zM316.5 236l4 2.8 3.1 1.8-7.1 0z"/>
<path fill="#bf0000" d="M356 157.6l3.3 2 3.1 2.5 3 3 1.8 2.5 1.1 2.5 0.6 3 0 3-0.7 2.5-1.8 2.5-2 2-2.8 2-2.9 1.5-2.9 1-2.8 0.6-12.5 1.7-0.2-0.3-0.2-6-1.3-12.5 0.1-5 0.2-1.5 0.4-0.9 1.3-2.1 1.7-1.8 2.3-1.7 2.2-1.1 2.5-0.7 2-0.1 2 0.4zM316.5 236.1l3.5 2.5 3.3 2-6.8 0z"/>
<path fill="#b10000" d="M355.5 158l3 1.7 3.1 2.4 3 3 1.8 2.5 1.2 2.5 0.6 2.5 0 3-0.6 2-1.7 2.5-2.3 2.5-2.6 2-2.8 1.5-2.6 1-3.1 0.8-12 2-0.2-0.3 0-6.5-0.9-12 0.2-4 0.5-3 1.2-2 1.7-1.9 2-1.5 2.1-1.1 1.9-0.6 2-0.2 2 0.2zM316.5 236.3l6.5 4.3-6.5 0z"/>
<path fill="#a30000" d="M355.5 158.5l2.7 1.6 2.6 2 2.5 2.5 2 2.5 1.3 2.5 0.7 2.5 0.2 2.5-0.5 2-1.9 3-2.1 2.3-2.7 2.2-2.6 1.5-2.4 1-3.4 1-11.4 2.3-0.1-0.3 0.2-6.5-0.5-12.5 0.2-4 0.6-2.5 1.2-2 1.9-1.9 2-1.4 2-0.9 2-0.5 1.5-0.1 2 0.4zM316.5 236.5l6.2 4.1-6.2 0z"/>
<path fill="#950000" d="M355.5 159.2l2.5 1.4 2.5 2 2.5 2.5 1.8 2.5 1.2 2.4 0.5 2.1 0.1 2.5-0.6 1.7-1.7 2.8-2.2 2.5-2.4 2-2.5 1.5-2.2 1-3 1-11.5 2.7-0.1-0.2 0.5-6.5-0.1-13 0.3-3.5 0.6-2.5 1.3-1.9 1.6-1.6 1.9-1.4 2-0.9 1.5-0.4 1.5 0 2 0.4zM316.5 236.6l6 4-6 0z"/>
<path fill="#870000" d="M355 159.5l2.5 1.5 2.5 2 2.1 2.1 1.9 2.5 1 2 0.7 2.5 0 2-0.7 1.9-1.6 2.6-2 2.5-2.3 2-2.3 1.5-2.1 1-2.7 1-11.5 3.2 0.7-6.7 0.2-13 0.4-3 0.5-2.5 1.2-1.9 1.5-1.5 1.5-1.2 2-1 1.5-0.4 1.5-0.1 1.5 0.3zM316.5 236.8l5.7 3.8-5.7 0z"/><path fill="#00008f" fill-rule="evenodd" d="M315.5 136.6H371.3V242H315.5Z M280.505 190.123a59.76 59.76 0 1 0 119.52 0a59.76 59.76 0 1 0 -119.52 0Z"/><circle cx="343.5" cy="189.1" r="25" fill="#00008f"/></svg>
<svg style="position:absolute;left:429.3px;top:138.6px" width="51.7" height="101.4" viewBox="429.3 138.6 51.7 101.4"><rect x="428.3" y="137.6" width="53.5" height="103" fill="#000087"/>
<path fill="#000095" d="M428.7 137.6l53.1 0 0 103-53.5 0 0-102.8z"/>
<path fill="#0000a3" d="M429.2 137.6l52.6 0 0 103-53.5 0 0-102.5z"/>
<path fill="#0000b1" d="M429.7 137.6l52.1 0 0 103-53.5 0 0-102.2z"/>
<path fill="#0000bf" d="M430.2 137.6l51.6 0 0 103-53.5 0 0-101.9z"/>
<path fill="#0000cd" d="M430.8 137.6l51 0 0 103-53.5 0 0-101.6z"/>
<path fill="#0000dc" d="M431.3 137.6l50.5 0 0 103-53.5 0 0-101.3z"/>
<path fill="#0000ea" d="M431.8 137.6l50 0 0 103-53.5 0 0-101z"/>
<path fill="#0000f8" d="M432.3 137.6l49.5 0 0 103-53.5 0 0-100.7z"/>
<path fill="#0007ff" d="M432.8 137.6l49 0 0 103-53.5 0 0-100.4z"/>
<path fill="#0015ff" d="M433.4 137.6l48.4 0 0 103-53.5 0 0-100z"/>
<path fill="#0023ff" d="M432.9 138.1l1.1-0.5 47.8 0 0 103-53.5 0 0-99.7z"/>
<path fill="#0032ff" d="M434.6 137.6l47.2 0 0 103-53.5 0 0-44.3 0.7-1.2 0.4-1.5-0.2-1.5-0.9-1.6 0-49.3 2.5-1.6z"/>
<path fill="#0040ff" d="M433.8 138.2l1.5-0.6 46.5 0 0 103-53.5 0 0-42.3 1.1-1.2 1.1-1.5 0.4-1 0.2-1-0.2-1-0.6-1.5-1-1.4-1-1 0-47.1 2.9-2z"/>
<path fill="#004eff" d="M433.8 138.5l2.1-0.9 45.9 0 0 103-53.5 0 0-40.8 2.3-2.2 1.1-1.5 0.7-1.5 0.1-1-0.3-1.5-0.8-1.5-1.6-1.9-1.5-1.4 0-45.4 3-2.1z"/>
<path fill="#005cff" d="M434.1 138.6l2.5-1 45.2 0 0 103-53.5 0 0-39.5 2.7-2.5 1.8-2 0.9-1.5 0.3-1.5-0.4-1.5-1-1.5-2.2-2.5-2.1-1.9 0-44 3.1-2.1z"/>
<path fill="#006aff" d="M434.3 138.8l3.1-1.2 44.4 0 0 103-53.5 0 0-38 0.5-0.8 3.6-3.2 1.8-2 1-1.5 0.3-1.5-0.6-1.5-1.1-1.5-3.3-3.5-2.2-1.9 0-42.6 3-2.2z"/>
<path fill="#0078ff" d="M434.3 139.1l3.9-1.5 43.6 0 0 103-53.5 0 0-36.7 0.9-1.3 6.4-6 1.1-1.5 0.4-1-0.1-1-1-1.5-5.7-5.6-2-1.7 0-41.4 3.2-2.3z"/>
<path fill="#0087ff" d="M434.8 139.1l4.2-1.5 42.8 0 0 103-53.5 0 0-33.8 0.2-1.7 0.3-0.7 1-1.3 7.6-7 1.2-1.5 0.3-1-0.1-0.5-0.8-1-3.7-3.2-4.5-4.3-1.5-1.1 0-40.2 3.5-2.6z"/>
<path fill="#0095ff" d="M435.3 139.1l4.7-1.5 41.8 0 0 103-53.5 0 0-22.6 0.7-1.4 0.3-2-0.4-6 0.1-3 0.3-0.7 1.1-1.3 10.1-9 0.8-1 0-0.5-0.4-0.5-3.6-2.2-2-1.4-5.5-5.2-1.5-1.1 0-39.1 3.5-2.5zM455.1 222.1l0 0.5 0.4 0.5 0.8 0.2 1-0.1 1-0.6 0.5-0.8 0.1-0.7-0.6-0.7-0.5-0.1-1 0.1-1.2 0.7z"/>
<path fill="#00a3ff" d="M435.3 139.4l2.5-0.9 3.3-0.9 40.7 0 0 88.2-0.8 1.8-0.3 1.5 0.3 1.5 0.8 1.4 0 8.6-53.5 0 0-20.9 0.8-0.6 0.7-1 0.3-1 0.2-1.5-0.9-7.5 0-1.5 0.3-1 1.3-1.5 7.8-6.8 3-2.3 2.5-1.6 2-1 3-0.8 1.3-0.5-1.4 0-0.4 0.3-1.4 0.2-0.6 0.3-2 0.1-2-0.2-3-0.9-2-1-2.5-1.7-5.5-5.1-1.5-1.2 0-37.9 3.5-2.6zM451.8 191.3l-0.5 0.3-1 3-0.3 2 0.3 1.1 0.5 0.1 0.5-0.7 0.3-1 0.3-2zM462.5 219.1l-1.1-1-1.6-0.5-2.5 0-2.5 0.5-2.1 1-1.2 1-0.9 1.5 0 1.5 0.2 0.5 0.9 1 2.1 1.1 2.5 0.2 2.5-0.5 2.4-1.3 1.3-1.5 0.4-1.5 0-1z"/>
<path fill="#00b1ff" d="M435.5 139.6l2.8-1.1 3.9-0.9 39.6 0 0 86.1-1.4 1.4-0.6 1-0.3 1-0.2 1.5 0.3 2 1.7 2.5 0.5 1.2 0 2.3-0.4 4-53.1 0 0-19.8 1.5-0.6 0.7-0.6 0.7-1.5 0.3-1.5-0.2-2-1.2-5.5-0.1-2.5 0.7-1 7.2-6.5 3.4-2.8 4-2.5 5.6-2.7-0.6-0.3-4.5 0.4-2-0.1-2-0.3-2.5-0.8-2-1.1-2-1.4-7-6.4 0-36.8 3.6-2.7zM451.8 191.1l-0.7 0.5-1.3 3-1 3-0.4 2 0 1.5 0.4 1.4 0.5 0.6 1 0.5 1-0.3 0.9-0.7 0.5-1 0.2-1-0.1-3.9zM464.9 219.6l-0.3-1-0.6-1-1.6-1-2.6-0.4-4 0-3.5 0.9-3.5 1.5-1.5 1.5-0.3 1-0.1 1 0.3 1 0.5 1 1 1 1.6 1.1 1.5 0.6 2 0.6 1.5 0.1 2-0.1 3.5-1 1.7-0.8 1.3-1 0.7-1 0.4-1 0.2-1.5z"/>
<path fill="#00bfff" d="M435.8 139.8l3.2-1.2 4.3-1 38.5 0 0 84.5-3.1 2.5-1.1 1.5-0.1 1 0.2 1.5 0.8 2.5 2.1 2.5 0.6 1.5-0.3 5.5-52.6 0 0-18.8 2-0.5 1.3-0.7 0.9-1.5 0.3-1.5-0.2-2-1.5-4.5-0.5-2-0.2-1.5 0.1-0.5 4.1-4 6.9-6 3.6-2.5 5.7-3.2 0.2 0.2-2.4 4.5-1.4 4-0.5 3 0.2 2.5 0.9 1.8 1 1.1 5 3.2 1 0.2 0.5-0.3 0.5-1.7-0.2-3.3-0.8-4.4-3-11.1-0.5 0.2-0.5-0.6-5 0.1-2.5-0.2-2-0.5-2-0.7-2-1.1-2-1.4-7-6.6 0-35.6 4-3zM443.5 220.1l0 1 0.4 1.5 0.9 1.5 1.5 1.6 1.3 0.9 2 1 2.7 0.9 2 0.4 2 0 2.5-0.3 2.5-0.7 2-0.8 1.5-0.9 1-0.9 0.7-1.2 0.3-1 0.1-1.5-0.2-1.5-0.4-1.5-0.8-1.5-0.7-0.7-1-0.7-2.5-0.6-5-0.3-5.5 1.1-4.9 1.7-1.4 1z"/>
<path fill="#00cdff" d="M435.8 140l3.5-1.2 5.1-1.2 37.4 0 0 83.2-2.9 1.8-2.7 2-1 1-0.4 1 0.1 1 2.5 4 2.4 2.3 0.7 1.2 0.2 1.5-0.3 4-52.1 0 0-17.9 3.5-0.6 1.3-0.5 1.4-1.5 0.6-1.5-0.4-1.5-2.4-4.7-0.7-1.8-0.6-2 0.1-1 2.7-2.6 8.3-7.4 3.4-2.5 4.8-3.1 0 0.3-2.3 3.8-1.5 3-1 3-0.6 3 0.1 2.5 0.6 2 1.2 2.3 1.9 2.7-2.4 1.4-2.5 0.6-1.3 0.5-2.5 1.5-0.4 0.5-0.2 1 0.7 1.5 2.2 3 1 1 1.3 1 1.8 1 2.9 1.3 2.5 0.8 2 0.4 2 0.1 2-0.2 2.5-0.4 3.5-1 2.5-1 1.6-1 0.8-1 0.2-1-0.1-1.5-0.6-3-0.7-2-0.8-1.5-0.9-1-1-0.7-1-0.4-2.5-0.7-1.1-1.7-3.1-7-5.2-14-0.6 0 0-0.5-7.5-0.4-2-0.4-2.5-0.9-2-1.1-2.2-1.7-6.8-6.5 0-34.6 3.8-2.9z"/>
<path fill="#00dcff" d="M435.3 140.6l3.8-1.5 6.3-1.5 36.4 0 0 82.1-4.5 2.4-2.5 1-2 0.2-1-0.3-0.5-0.4-1-1.3-1.8-4.2-1-1.5-1.8-1.5-2.6-1-2.6-4-4-7.5-4.6-10.5-0.6-0.5-5-0.4-3-0.4-2-0.6-2-0.8-2-1.2-2.1-1.6-6.9-6.7 0-33.5 3.5-2.8zM447.3 194.9l0.2 0.2-1.9 3.5-1.1 2.5-0.9 2.5-0.3 2-0.2 2 0.2 2 0.4 2 0.8 2 0 1.5-0.7 0.3-5 0.9-1.5-0.1-1-0.4-1.5-1.2-1.9-2.5-1.1-2.6-0.2-0.9 0.2-0.3 10.6-9.7 2.5-2zM428.3 223.4l5.5-0.2 3 0.3 1.5 0.7 4.6 2.9 3.9 1.9 3.5 1.4 3 0.6 2.5 0 2.5-0.2 3.9-0.7 7.1-1.8 1.5 0 1 0.2 1.5 0.7 1.5 1 1.6 1.9 2.4 1.9 0.9 1.1 0.4 1.5-0.3 4-51.5 0z"/>
<path fill="#00eaff" d="M434.8 141.1l4-1.6 7.7-1.9 35.3 0 0 81-3.5 1.7-2.5 0.9-2 0.1-1.5-0.6-1-1.1-2.7-4.5-1.8-1.7-2.4-1.3-3.6-4.7-4-6.6-4.9-9.7-0.6-0.5-5.5-0.7-2.5-0.5-2-0.6-2.5-1.2-2-1.3-2-1.6-6.5-6.5 0-32.5 3.3-2.6zM440.8 202.9l0.3 0.2 0.1 0.5-0.1 4 0.2 2.5 1 4.5-3 0.4-2-0.3-1.5-0.6-1.5-1.3-1.5-2.2-0.4-1 0.1-0.5 5.3-4.4 2-1.4zM428.3 224.2l4.5 0 3 0.6 2.5 1 8.5 4.3 3.1 1 2.4 0.5 2.5 0.1 3-0.1 10.5-1.7 2 0 1.5 0.3 2 0.9 2 1.8 3 2.2 0.5 0.7 0.2 0.8-0.2 4-51 0z"/>
<path fill="#00f8ff" d="M434.3 141.7l2.3-1.1 2.2-0.8 9-2.2 34 0 0 79.9-3.5 1.6-2 0.6-2 0-1.2-0.6-1-1-2.8-4-1.7-1.5-1.8-1.1-3-3.2-2-2.4-4-6-4.8-8.8-0.7-0.6-5-0.7-3.5-0.9-2-0.7-2-1-3.5-2.6-7-7.1 0-31.4 3-2.4zM433.6 210.1l0.7-0.7 1.5-0.8 1-0.3 1 0.1 0.5 0.4 0.5 1 1.3 3.8-2.3 0.2-1.5-0.5-2-1.6-0.7-1.1zM428.3 224.7l4 0.2 2.5 0.5 2.5 1 8.7 4.2 2.8 0.9 2.5 0.5 2.5 0.3 3-0.1 11-1.3 2 0.1 2 0.4 1.5 0.8 1.5 1.1 2.5 1.4 1 0.9 0.5 0.8 0.2 0.7-0.1 3.5-50.6 0z"/>
<path fill="#07fff8" d="M433.8 142.3l2.5-1.3 2.5-0.9 10.5-2.5 32.5 0 0 78.7-3 1.4-2 0.6-1.5 0-1.4-0.7-4-4.5-5.6-4.7-3-3.1-4-5.4-5.3-8.8-0.7-0.6-8-1.7-2.5-1-2-1.1-3.5-2.7-7-7.1 0-30.4 2.9-2.4zM428.3 225.1l1.5 0.4 3 0.3 2 0.5 2.5 0.9 7.5 3.6 2.5 0.9 3 0.7 3 0.4 3 0 11-1 2 0.1 2 0.4 5 2.6 1.5 1.2 0.4 0.5 0.2 1 0 3-50.1 0z"/>
<path fill="#15ffea" d="M433.3 143l2.5-1.4 3-1.2 9-2.2 3.5-0.6 27.4 0 2.6 0.8 0.5 0.3 0 76.4-3 1.3-1.5 0.3-1.5-0.1-1-0.5-3.6-3.5-6.9-5.4-3-3-4.5-5.7-4.8-7.4-0.7-0.6-8-2-4-1.9-2-1.4-1.9-1.6-5.1-5.4-2-1.9 0-29.4 2.5-2.2zM481.6 137.6l0.2 0 0 0.4zM428.3 225.5l2 0.6 4.5 0.9 10 4.5 5 1.4 3 0.3 3 0.1 11-0.7 2 0.1 2 0.4 5 2.3 1.5 1.1 0.5 1.1 0.1 3-49.6 0z"/>
<path fill="#23ffdc" d="M431.8 144.3l3.5-2.1 3-1.3 9.1-2.3 4.4-0.8 4-0.2 11.5 0.2 9.9-0.2 2.1 0.4 2.5 1 0 74.7-2.5 1-1.5 0.3-1.5-0.3-1-0.5-7-5.5-3.5-2.3-3-2.6-4-4.5-5.8-8.2-0.7-0.6-7.5-2.1-2.5-1.1-2-1.1-3.5-2.8-5-5.4-2.5-2.3 0-28.4zM428.3 225.8l7 2.1 6.9 3.2 2.5 1 4.1 1.1 5.5 0.6 11.5-0.5 2.5 0.1 2 0.4 4.5 1.8 1.7 1 0.4 0.5 0.4 1 0.1 2.5-49.1 0z"/>
<path fill="#32ffcd" d="M431.8 144.7l3.5-2.2 3.4-1.4 9.6-2.4 4-0.6 4.5-0.2 12 0.2 7.5-0.3 3 0.4 2.5 1 0 72.9-2.5 0.5-1 0-1.5-0.4-4-1.8-3.5-2.3-4-2.3-3-2.4-3.5-3.5-3-3.7-3.7-5.1-0.8-0.6-8-2.6-4-2.1-3.3-2.7-5.2-5.7-2.5-2.3 0-27.4zM428.3 226.1l7.5 2.7 7.3 3.3 5.2 1.4 5.5 0.7 11.5-0.2 2.5 0.1 2 0.4 4.5 1.5 1.5 0.9 0.9 1.2 0.2 2.5-48.6 0z"/>
<path fill="#40ffbf" d="M431.3 145.4l3.5-2.3 3.5-1.5 10-2.5 3.5-0.6 4.5-0.3 12.5 0.2 7.5-0.4 3 0.4 2.5 1 0 70.7-1.5 0-5-0.7-2-0.5-6-2.9-2.5-1.5-3-2.3-3-2.9-3-3.4-3.7-4.8-0.8-0.6-8-2.9-3.7-2-3.6-3-4.9-5.5-2.8-2.6 0-26.4zM428.3 226.4l6 2.4 7.5 3.3 5.5 1.7 3.5 0.6 3 0.3 13 0 2 0.3 3.5 0.9 2 0.8 1.4 0.9 0.5 1 0.1 2-48 0z"/>
<path fill="#4effb1" d="M430.9 146.1l3.4-2.4 3.5-1.6 10-2.5 4-0.7 4.5-0.3 12.5 0 7.5-0.3 3 0.4 2.5 1 0 68.2-3-0.3-3.5 0.2-2-0.3-5.5-2.2-3-1.7-3-2.1-3-2.7-3.5-3.8-3.2-3.9-0.8-0.7-8-3-3.8-2.3-3.2-2.8-5-5.6-3-2.8 0-25.3zM428.3 226.7l12.5 5.5 3 1.1 3 0.8 3.5 0.7 3.5 0.3 12.5 0.2 6 1.2 2 0.8 0.9 0.8 0.5 1 0.1 1.5-47.5 0z"/>
<path fill="#5cffa3" d="M432.8 145.1l3-1.8 3-1.2 9.5-2.2 4.5-0.7 5-0.3 12 0 6.5-0.3 3 0.3 2.5 1 0 66.2-2.5 0-4 0.4-2-0.2-5.5-2-3.5-1.8-2.5-1.7-3-2.5-3-3-3.7-4.2-0.3-0.1-0.5-0.6-8-3.3-2.5-1.5-2-1.5-3.2-3-4.3-5-3-2.8 0-24.2 2-2zM428.3 227l12.4 5.6 2.7 1 3.4 0.9 3.5 0.7 3.5 0.4 12 0.2 6 1.1 1.5 0.5 1.1 0.7 0.6 1 0.3 1.5-47 0z"/>
<path fill="#6aff95" d="M430.8 147.1l3.5-2.6 3.5-1.7 10-2.4 4-0.7 5-0.4 13-0.1 6.5-0.4 3 0.4 2.5 0.9 0 64.6-6 0.6-2.5 0-5.5-1.8-4-2-2.5-1.6-3-2.5-3-2.9-3.1-3.4-0.4-0.1-0.5-0.6-7.5-3.3-2.5-1.5-2-1.5-3.2-3-4.3-5.1-3.5-3.3 0-23zM428.3 227.2l11.4 5.4 5.1 1.8 4 1 4 0.6 12 0.3 5.5 0.8 2 0.5 1.5 0.8 0.6 0.7 0.3 1.5-46.4 0z"/>
<path fill="#78ff87" d="M430.8 147.5l3.5-2.6 3.5-1.7 2.5-0.8 11.5-2.3 5.5-0.4 12.5-0.2 7-0.4 2.5 0.3 2.5 1 0 63.2-6 0.7-2 0.1-6.5-1.9-4.5-2.2-2.5-1.7-2.5-2-6.5-6.2-7-3.3-2.5-1.5-2-1.5-3.2-3-4.8-5.7-3.5-3.3 0-21.9zM428.3 227.5l10.5 5.1 6 2.2 4 1 4 0.6 11 0.3 6 0.7 2 0.6 1.3 0.6 0.7 0.8 0.3 1.2-45.8 0z"/>
<path fill="#87ff78" d="M433.3 145.9l3-1.7 2.9-1.1 9.6-2 5-0.8 4.5-0.3 12-0.2 6.5-0.4 2.5 0.3 2.5 0.9 0 62.1-6.5 0.8-1.5 0-6.5-1.8-2.5-1-2.5-1.3-2.5-1.6-2.5-1.9-6-5.5-6.5-3.3-4.5-3-3.7-3.5-4.5-5.5-3.8-3.6 0-20.7 2.4-2.7zM428.3 227.8l10.8 5.3 6.2 2.2 4 1 3.5 0.5 10.5 0.4 6 0.6 1.5 0.4 1.5 0.6 0.9 0.8 0.3 1-45.2 0z"/>
<path fill="#95ff6a" d="M433.3 146.4l2.9-1.8 2.6-1 10-2.1 5-0.7 4.5-0.4 12-0.3 6.5-0.4 2.5 0.2 2.5 1 0 61-7.5 0.9-7.5-1.9-2.5-1-3-1.6-4.5-3.1-4.6-4.1-0.4-0.1-0.5-0.6-6.1-3.3-4.4-3-3.7-3.5-4.8-5.9-4-3.9 0-19.4 2-2.4zM428.3 228.2l10.5 5.2 3.5 1.4 3.5 1.1 3.5 0.8 3.5 0.5 11 0.5 5 0.5 1.7 0.4 1.2 0.5 0.6 0.5 0.6 1-44.6 0z"/>
<path fill="#a3ff5c" d="M433.3 146.9l2.8-1.8 2.7-1.1 9.5-1.9 6-0.9 5-0.4 11.5-0.4 6-0.4 2.5 0.2 2.5 0.9 0 60.1-7 0.9-7-1.6-4.5-1.6-3-1.6-2.5-1.7-5.5-4.5-0.5-0.1-0.5-0.7-4.9-2.7-3.2-2-3.1-2.5-2.5-2.5-4.8-6-2.8-2.5-1.7-2 0-18.1 2-2.5zM428.3 228.5l11 5.5 3.5 1.3 3 1 3.5 0.8 3.5 0.5 11.5 0.5 4 0.5 2.5 0.7 1 0.7 0.4 0.6-43.9 0z"/>
<path fill="#b1ff4e" d="M433 147.6l2.8-1.9 3-1.3 9.5-1.8 5.5-0.8 5-0.5 12-0.5 6-0.5 2.5 0.2 2.5 0.9 0 59.1-6.5 0.9-7.5-1.5-5-1.7-2.5-1.3-2.5-1.5-5.5-4.3-0.5-0.2-0.5-0.6-7.7-4.7-2.5-2-2.6-2.5-5.6-7-2.8-2.5-1.8-2.3 0-16.5 2-2.7zM428.3 228.9l11 5.4 3 1.3 3.2 1 3.8 0.9 3.5 0.5 11 0.5 3.5 0.4 2.8 0.7 1.3 1-43.1 0z"/>
<path fill="#bfff40" d="M432.9 148.1l2.9-2 3-1.2 9-1.7 6-0.9 6-0.6 11-0.6 6-0.5 2.5 0.2 2.5 0.9 0 58.1-6.5 0.9-7.5-1.4-3-0.9-2.5-0.9-5-2.7-5-3.7-0.5-0.2-0.5-0.6-6.6-4.2-3.2-2.5-2.6-2.5-2.5-3-3.1-4.1-3.1-2.9-1.9-2.6 0-14.9 2-2.9zM428.3 229.2l11 5.5 3.5 1.4 3 1 3.5 0.7 3.5 0.5 13.5 0.9 2.5 0.5 1.7 0.9-42.2 0z"/>
<path fill="#cdff32" d="M433 148.6l2.8-2 3-1.3 8-1.5 6-0.9 10-1.1 8.5-0.4 5.5-0.5 2.5 0.2 2.5 0.8 0 57.3-6 0.9-8-1.4-3-0.7-3-1.1-4-2.1-5.4-3.7-0.6-0.2-0.5-0.6-7.6-5.2-3.9-3.5-2.6-3-3.7-5-3.5-3.5-1.7-2.7 0-12.9 1.7-2.9zM428.3 229.6l11 5.5 3 1.3 3 0.9 3.5 0.8 3.5 0.5 13.5 0.9 2.5 0.6 1.2 0.5-41.2 0z"/>
<path fill="#dcff23" d="M433 149.1l2.8-2 2.5-1.2 3-0.7 7.5-1.2 14-1.7 8.5-0.5 5.5-0.5 2.5 0.1 2.5 0.8 0 56.4-6 0.8-8.5-1.3-3-0.8-2.5-0.8-4.5-2.2-4.9-3.2-0.6-0.2-0.5-0.6-7.2-5.2-3.3-3-3.1-3.5-3.9-5.3-2.4-2.2-1.3-1.5-1-1.5-0.8-2 0-10.4 0.9-2.1 1-1.5zM428.3 230.1l3.5 1.6 7.5 3.9 3 1.2 3 0.9 6.5 1.2 12 0.8 2.5 0.4 1.9 0.5-39.9 0z"/>
<path fill="#eaff15" d="M433.1 149.6l2.6-2 2.6-1.2 2.5-0.7 6.5-1 16.4-2.1 13.1-1 2.5 0.1 2.5 0.8 0 55.5-6 0.8-9-1.3-3-0.7-2.5-0.9-3.5-1.6-5.3-3.2-0.7-0.2-0.5-0.6-6.3-4.7-3.3-3-3.6-4-4-5.5-3.4-3.5-1.3-2-0.9-2.5-0.2-1 0-6.8 0.9-2.7 0.8-1.5 1.3-1.7zM428.3 230.5l3.5 1.6 7 3.6 3 1.3 3 0.9 7 1.4 11 0.7 3.6 0.6-38.1 0z"/>
<path fill="#f8ff07" d="M433.3 150l2.5-1.9 2.5-1.3 2.5-0.6 5.5-0.9 17.5-2.3 13-1 2.5 0.1 2.5 0.8 0 54.6-5.5 0.7-9.5-1.2-3-0.6-3-1-3.5-1.5-4.8-2.8-0.7-0.2-0.5-0.7-5.4-4.1-3.3-3-4.1-4.5-4.2-5.9-3-3.1-1.4-2-0.8-2-0.4-2-0.2-2.5 0.1-2.5 0.3-2 0.8-2 0.8-1.5 1.2-1.5zM428.3 231l3.6 1.6 6.9 3.6 5.5 2 3.5 0.8 4 0.6 12.2 1-35.7 0z"/>
<path fill="#fff800" d="M433.8 150.1l2-1.5 2.5-1.3 3-0.8 5-0.8 18.5-2.3 12-1 2.5 0.1 2.5 0.7 0 53.7-5.5 0.7-9-0.9-3-0.6-3-0.8-3.5-1.4-5.2-2.8-0.8-0.2-0.5-0.7-5.1-4.1-2.8-2.5-4-4.5-4.6-6.5-3.4-3.5-0.9-1.5-0.8-2-0.5-2-0.2-2.5 0.1-2.5 0.3-2 0.8-2 0.9-1.5 1.2-1.5zM428.3 231.4l3.7 1.7 6.3 3.3 5.5 2 3.5 0.8 4 0.7 9 0.7-32 0z"/>
<path fill="#ffea00" d="M433.9 150.6l2.4-1.8 2-1 3-0.8 4.5-0.8 19.5-2.4 11.5-1 2.5 0.1 2.5 0.7 0 52.7-5.5 0.7-9.5-0.8-3-0.6-3-0.8-3.5-1.3-4.7-2.4-0.8-0.2-0.5-0.7-7-6.1-3.7-4-2.7-3.5-3-4.5-2.9-3-1-1.5-0.8-2-0.5-2-0.2-2 0-2.5 0.3-2 0.5-1.5 1-1.9 1.2-1.6zM428.3 231.9l4 1.8 5.5 2.9 4.5 1.7 6 1.5 6.8 0.8-26.8 0z"/>
<path fill="#ffdc00" d="M434.1 151.1l2.2-1.8 2-1 2.5-0.8 4.5-0.8 10.5-1.2 10.6-1.4 9.9-0.8 3 0 2.5 0.6 0 51.8-5 0.8-7.5-0.5-4-0.4-3.5-0.8-3-0.9-3.5-1.5-2.6-1.3-0.9-0.2-0.5-0.7-6.2-5.6-3.3-3.5-3.1-4-3.4-5.1-3-3.3-1.2-2.1-0.7-2-0.3-2-0.1-2.5 0.3-2.5 0.5-1.8 0.8-1.7 1.1-1.5zM428.3 232.4l4 1.8 4.6 2.4 3.9 1.6 4.9 1.4 5.8 1-23.2 0z"/>
<path fill="#ffcd00" d="M433.8 152.1l2-1.9 2-1.2 2.6-0.9 4.4-0.9 11.5-1.2 10.5-1.5 8.5-0.7 3.5-0.1 3 0.7 0 50.8-5 0.7-7.5-0.3-4-0.4-3-0.5-3-0.8-3-1.1-3.6-1.7-0.9-0.2-0.5-0.7-6.4-6.1-3.1-3.5-3-4-3.3-5-2.7-3-1.2-2-0.6-2-0.4-2-0.1-2 0.2-2.5 0.4-1.5 0.6-1.5 0.9-1.5zM428.3 232.9l8.5 4.1 3 1.2 4.3 1.4 5.1 1-20.9 0z"/>
<path fill="#ffbf00" d="M481.8 144.8l0 49.8-5 0.7-7.5-0.2-4-0.2-3.5-0.6-3-0.8-7-2.6-0.5-0.7-6.1-6.1-3.1-3.5-2.9-4-3.4-5.3-2-2.2-1.3-2-1.1-3-0.3-3.5 0.4-3.5 0.6-1.5 0.8-1.5 2.1-2.5 2.3-1.8 2.5-1.1 4-0.9 3.5-0.5 9.5-0.9 11-1.5 7-0.7 4-0.1zM428.3 233.3l10.5 5 4 1.3 4.3 1-18.8 0z"/>
<path fill="#ffb100" d="M481.8 145.2l0 48.8-4.5 0.7-8.5 0-4-0.2-3-0.5-3-0.7-7-2.4-6.3-6.8-3-3.5-2.9-4-3.4-5.5-2.2-2.5-1.2-2-0.9-3-0.2-3.5 0.6-3.5 1.2-2.5 1.8-2.1 2.5-1.9 2.5-1 4-1 12.5-1.2 18-2.3 4 0zM428.3 233.7l10 4.8 3.5 1.2 3.5 0.9-17 0z"/>
<path fill="#ffa300" d="M481.8 145.7l0 47.7-4.5 0.7-8.5 0.2-4-0.2-5.5-0.9-7.5-2.4-6.5-7.2-2.8-3.5-2.8-4-3-5-2.1-2.5-1.2-2-1-3-0.1-3.5 0.7-3.5 1.2-2.5 1.8-2 2.3-1.7 2.5-1 4-0.9 12-1.1 18-2.3 4 0zM428.3 234.1l9 4.3 3.1 1.2 3.4 1-15.5 0z"/>
<path fill="#ff9500" d="M481.8 146.2l0 46.6-4.5 0.7-8.5 0.4-4-0.1-3-0.3-3-0.6-7-2.1-6.2-7.2-3.1-4-2.7-4-3-5-1.9-2.5-1.1-1.9-0.8-2.6-0.1-3.5 0.6-3 1.3-2.8 1.5-1.8 2-1.5 2.5-1 4-1 12.5-1.2 18-2.3 3.5 0zM428.3 234.4l8.5 4.2 5.7 2-14.2 0z"/>
<path fill="#ff8700" d="M481.8 146.7l0 45.5-4.5 0.7-9 0.6-4 0-5.5-0.7-7-2-6.3-7.7-2.7-3.5-2.6-4-2.9-5.1-2.1-2.9-0.8-1.5-0.9-3 0-3 0.7-3 1.2-2.5 1.4-1.7 2-1.5 3-1.2 3.5-0.9 12-1 18-2.3 3.5 0.1zM428.3 234.8l7.7 3.8 5.4 2-13.1 0z"/>
<path fill="#ff7800" d="M481.8 147.2l0 44.4-4 0.6-8.5 0.8-5 0.2-5.5-0.6-7-1.8-6.1-7.7-2.8-4-7.9-13-0.8-3 0-3 0.7-3 1.3-2.5 1.6-1.8 1.8-1.2 2.7-1.1 3-0.7 12.5-1.1 9.5-1 8-1.1 3.5 0zM428.3 235.1l7 3.5 5.1 2-12.1 0z"/>
<path fill="#ff6a00" d="M481.8 147.8l0 43.1-12.7 1.7-4.8 0.3-5.5-0.5-7-1.6-8.6-11.7-7.6-13-0.7-2.5-0.1-3 0.6-3 1.4-2.7 1.5-1.7 1.7-1.1 2.8-1.2 3-0.7 20-1.7 10-1.4 3 0zM428.3 235.4l6.3 3.2 5 2-11.3 0z"/>
<path fill="#ff5c00" d="M481.8 148.4l0 41.8-13 2-4.5 0.4-5.5-0.4-7-1.4-8.5-12.2-7-12.5-0.8-2.5 0-3 0.7-3 1.3-2.5 1.4-1.5 1.9-1.2 2.5-1.1 2.5-0.6 21-1.7 9.5-1.3 2.5 0.1zM428.3 235.7l5.7 2.9 4.8 2-10.5 0z"/>
<path fill="#ff4e00" d="M481.8 149l0 40.5-6.5 0.9-7 1.4-4 0.5-5.5-0.2-7-1.3-8.5-12.7-6.4-12-0.7-2.5 0-3 0.6-2.6 1.3-2.4 1.3-1.5 1.9-1.3 2.5-1 2-0.5 22-1.8 8.5-1.1 2.5 0zM428.3 236l5.1 2.6 4.7 2-9.8 0z"/>
<path fill="#ff4000" d="M481.8 149.7l0 39-6 0.9-8 1.9-4 0.5-5-0.1-7-1.1-8.1-12.7-2.5-4.5-3.7-7.5-0.6-2.5-0.1-2.5 0.6-2.5 1.2-2.5 1.4-1.5 1.8-1.3 2.5-1.1 2-0.4 22.5-1.7 8-0.9 2 0zM428.3 236.3l4.6 2.3 4.6 2-9.2 0z"/>
<path fill="#ff3200" d="M481.8 150.6l0 37.3-5.5 0.8-8 2.3-4.5 0.7-5 0-7-0.9-8-13.2-2.6-5-3-6.5-0.6-2.5 0-2.5 0.6-2.5 1.1-2.1 1.3-1.4 1.7-1.3 2-0.9 2-0.5 31-2.3zM428.3 236.5l4.1 2.1 4.5 2-8.6 0z"/>
<path fill="#ff2300" d="M481.8 151.6l0 35.4-5.5 0.9-8.4 2.7-4.1 0.8-5 0.2-7-0.8-8.1-14.2-2.5-5-2.3-5.5-0.6-2.5 0.1-2.5 0.7-2.5 1.2-2 1.5-1.5 1.5-1 1.5-0.7 2-0.4 15-1.2 15-0.6zM428.3 236.7l8.1 3.9-8.1 0z"/>
<path fill="#ff1500" d="M440.6 157.6l1.2-1.5 2-1.5 1.5-0.6 2-0.4 15-1.2 13 0 6.5 0.5 0 33.1-5.5 1-8.4 3.1-4.1 1-5 0.3-7-0.6-7.7-14.2-2.4-5-2-5-0.6-2.5 0-2 0.5-2.5zM428.3 237l7.5 3.6-7.5 0z"/>
<path fill="#ff0700" d="M441.3 158.1l1-1.3 1-0.9 1.3-0.8 1.2-0.4 13-1.3 4-0.2 10 0.2 4.5 0.4 4.5 0.8 0 30.4-2.5 0.3-3 0.7-8.4 3.6-4.1 1.2-2.5 0.3-2.5 0.1-7-0.4-7-13.7-2.5-5.5-1.8-4.5-0.6-2.5 0-2.5 0.4-2zM428.3 237.2l7 3.4-7 0z"/>
<path fill="#f80000" d="M442.1 158.6l1.8-2 0.9-0.6 1.5-0.6 2.5-0.4 11.5-1.1 5 0.1 7.5 0.5 6 1 3 0.9 0 27.4-3 0.4-2.5 0.7-8.6 4.2-4.4 1.4-2.5 0.4-2.5 0.2-6.5-0.4-7-14.6-3.6-8.5-0.5-2.5 0-2.5 0.4-2zM428.3 237.4l6.6 3.2-6.6 0z"/>
<path fill="#ea0000" d="M442.8 159.2l0.8-1.1 1.2-1 2-0.9 8.5-1.1 5.5-0.5 4.5 0.2 7 0.7 6.5 1.4 3 1.2 0 24.4-3 0.5-2.5 0.7-2 0.9-6.8 4-3.9 1.5-2.3 0.5-3 0.3-6.5-0.2-6.5-14.6-3.4-8.5-0.5-2.5 0.1-2 0.4-2zM428.3 237.6l6.1 3-6.1 0z"/>
<path fill="#dc0000" d="M481.8 159.7l0 21.3-1 0.4-3 0.4-2 0.8-2 1.1-5.7 3.9-2.3 1.2-2.5 1-2.5 0.6-2.5 0.3-3 0.1-3.6-0.2-6.9-16.9-2.4-6.6-0.2-2.5 0.3-2 0.8-2.3 1.3-1.7 1.7-1.1 2.5-0.7 8.6-1.2 4.9-0.2 4 0.3 5.5 0.9 7.5 1.9zM428.3 237.8l5.7 2.8-5.7 0z"/>
<path fill="#cd0000" d="M443.8 161.6l1.5-2.1 1-0.8 1.5-0.6 7.5-1.4 5.5-0.6 3.5 0.2 4.5 0.8 11.5 3.4 1.5 0.8 0 18-1 0.6-3 0.5-2 0.8-2 1.2-6.1 4.7-2.5 1.5-1.9 0.8-2.3 0.7-2.7 0.5-6.5 0.1-6.1-16.1-2.5-7.5-0.2-1.5 0.1-1.5zM428.3 238l5.2 2.6-5.2 0z"/>
<path fill="#bf0000" d="M481.8 163.2l0 14-0.5 0.5-1 0.7-3 0.6-2 1-2 1.4-5.9 5.2-2.3 1.5-2.1 1-2.7 0.9-2.5 0.4-3 0.2-3.1 0-6.4-19.2-1.4-4.8 0-1.5 0.4-1.9 0.8-1.6 0.8-1 0.9-0.7 1.5-0.8 4-1 6-1 4.5-0.1 3 0.4 3.5 0.9 3 1.1 3.5 1.8 3.5 0.6 1.5 0.7zM428.3 238.2l4.8 2.4-4.8 0z"/>
<path fill="#b10000" d="M481.8 166.1l0 8-0.6 1-0.9 1.1-1 0.7-3 0.9-1.5 0.9-7.3 6.9-1.9 1.5-2.5 1.5-2.5 1-2.3 0.6-3.5 0.4-3.1 0-6.9-24 0.1-1.5 0.4-1.5 0.9-1.5 1-1 1.1-0.6 2-0.8 6.5-1.6 4-0.4 3.5 0.3 3 0.6 3 1.2 2 1 3.5 2.4 4.5 1.6zM428.3 238.4l4.4 2.2-4.4 0z"/>
<path fill="#a30000" d="M478.9 167.6l1 1.5 0.3 1.5-0.2 2-0.7 1.5-1 1-2.5 1.2-1.5 1-5.7 6.3-2.7 2.5-2.8 2-3.5 1.5-3.3 0.7-4.6 0.3-5.9-24.5 0.6-2 1.4-1.8 1-0.7 2-0.9 6-1.6 4-0.5 3.5 0.3 3.5 0.9 3 1.5 2 1.3zM428.3 238.6l4 2-4 0z"/>
<path fill="#950000" d="M470.1 162.1l3.1 2.5 2.4 2.5 1.1 1.5 0.6 1.5 0.2 1-0.1 1-0.5 1-3.1 2.7-6.3 7.8-1.9 2-1.9 1.5-2.5 1.5-2.6 1-2.3 0.6-4.5 0.5-4.3-22.6-0.3-2 0.2-1 0.2-0.5 1.5-1.5 2.2-1.2 4.5-1.5 4-0.8 2.9 0 2.6 0.4 2.5 0.9zM428.3 238.8l3.6 1.8-3.6 0z"/>
<path fill="#870000" d="M468.8 162.6l1.5 1.1 1.6 1.4 2.3 3 0.6 1.5 0.2 1-0.1 1-0.5 1-1.6 2-5 7.5-2.1 2.5-2.2 2-2.2 1.5-3 1.3-2.5 0.7-4 0.6-2.5-19.1-0.3-4.5 0.2-2 1.6-1.4 2.1-1.1 3.4-1.1 3.5-0.8 2.5-0.1 2 0.3 2.4 0.7zM428.3 239l3.2 1.6-3.2 0z"/><path fill="#00008f" fill-rule="evenodd" d="M427.3 136.6H483V242H427.3Z M391.75 190.625a60 60 0 1 0 120 0a60 60 0 1 0 -120 0Z"/><circle cx="455.5" cy="189.1" r="25" fill="#00008f"/></svg>
<svg style="position:absolute;left:0;top:0" width="550" height="308" viewBox="0 0 550 308"><rect x="61.6" y="99.4" width="157.1" height="85.2" fill="none" stroke="#e36c68" stroke-width="3.4"/><line x1="201" y1="99.4" x2="274.5" y2="68.4" stroke="#e36c68" stroke-width="3.1"/><g opacity="0.9"><rect x="103.1" y="68" width="85.2" height="157.3" fill="none" stroke="#52b6a0" stroke-width="3.4"/></g><line x1="188.4" y1="205" x2="274.5" y2="216.4" stroke="#52b6a0" stroke-width="3"/><line x1="80.3" y1="119.8" x2="96.6" y2="125.5" stroke="#9fe8ff" stroke-opacity="0.25" stroke-width="0.8"/><line x1="297" y1="26" x2="311.5" y2="33.6" stroke="#9fe8ff" stroke-opacity="0.28" stroke-width="0.8"/><path d="M455.6 138.6V164.2M455.6 214V240" stroke="#e6e2b4" stroke-opacity="0.32" stroke-width="0.7"/><rect x="275.1" y="7.5" width="240.9" height="121.6" fill="none" stroke="#e36c68" stroke-width="3.4"/><rect x="275.1" y="134.6" width="240.9" height="166.5" fill="none" stroke="#52b6a0" stroke-width="3.4"/></svg>
<div id="t_title" class="t" style="left:103.6px;top:23px;font-size:11.4px;transform:translateX(-50%) scaleX(0.9367);color:#1c1c9c"><b>Wavefront map (without diaphragm)</b></div>
<div id="t_scr0" class="t" style="left:148px;top:249px;font-size:12.8px;transform:translateX(-50%) scaleX(0.9157);color:#505050">Self-collimating result</div>
<div id="t_pv0" class="t" style="left:149.2px;top:264px;font-size:11.7px;transform:translateX(-50%) scaleX(1.1234);color:#808080"><i>PV</i> = 9.2047<i>λ</i></div>
<div id="t_rms0" class="t" style="left:148.3px;top:276px;font-size:12.8px;transform:translateX(-50%) scaleX(0.9657);color:#757575">rms<span style="color:#b4b4b4">=</span>1.3682<i>λ</i></div>
<div id="t_ra1a" class="t" style="left:243px;top:11px;font-size:10.5px;transform:translateX(-50%) scaleX(0.9873);color:#e2706c"><b>Rectangular</b></div>
<div id="t_ra1b" class="t" style="left:242.6px;top:24px;font-size:10.5px;transform:translateX(-50%) scaleX(0.9766);color:#e2706c"><b>aperture 1</b></div>
<div id="t_ra2a" class="t" style="left:244.7px;top:264px;font-size:10.5px;transform:translateX(-50%) scaleX(1.0073);color:#4fb8a2"><b>Rectangular</b></div>
<div id="t_ra2b" class="t" style="left:244.6px;top:277px;font-size:10.5px;transform:translateX(-50%) scaleX(0.9936);color:#4fb8a2"><b>aperture 2</b></div>
<div id="t_scr1" class="t" style="left:338px;top:71px;font-size:12.8px;transform:translateX(-50%) scaleX(0.9113);color:#505050">Self-collimating result</div>
<div id="t_pv1" class="t" style="left:337.7px;top:86px;font-size:11.7px;transform:translateX(-50%) scaleX(1.1250);color:#808080"><i>PV</i> = 6.34<i>λ</i></div>
<div id="t_rms1" class="t" style="left:337.6px;top:99px;font-size:12.8px;transform:translateX(-50%) scaleX(0.9433);color:#757575">rms<span style="color:#b4b4b4">=</span>1.2813<i>λ</i></div>
<div id="t_pd1" class="t" style="left:458.4px;top:70px;font-size:12.8px;transform:translateX(-50%) scaleX(0.9089);color:#505050">PD method result</div>
<div id="t_pv2" class="t" style="left:457.7px;top:86px;font-size:11.7px;transform:translateX(-50%) scaleX(1.1115);color:#808080"><i>PV</i> = 6.13<i>λ</i></div>
<div id="t_rms2" class="t" style="left:457.4px;top:99px;font-size:12.8px;transform:translateX(-50%) scaleX(0.9522);color:#757575">rms<span style="color:#b4b4b4">=</span>1.2568<i>λ</i></div>
<div id="t_rel1" class="t" style="left:402px;top:113px;font-size:12.8px;transform:translateX(-50%) scaleX(0.9200);color:#ea6460">relative error<span style="color:#f2a29f">=</span>1.9%</div>
<div id="t_scr3" class="t" style="left:338.6px;top:243px;font-size:12.8px;transform:translateX(-50%) scaleX(0.9104);color:#505050">Self-collimating result</div>
<div id="t_pv3" class="t" style="left:338.5px;top:258px;font-size:11.7px;transform:translateX(-50%) scaleX(1.1135);color:#808080"><i>PV</i> = 6.35<i>λ</i></div>
<div id="t_rms3" class="t" style="left:338px;top:271px;font-size:12.8px;transform:translateX(-50%) scaleX(0.9119);color:#757575">rms<span style="color:#b4b4b4">=</span>1.4184<i>λ</i></div>
<div id="t_pd4" class="t" style="left:455.5px;top:243px;font-size:12.8px;transform:translateX(-50%) scaleX(0.9100);color:#505050">PD method result</div>
<div id="t_pv4" class="t" style="left:454.7px;top:258px;font-size:11.7px;transform:translateX(-50%) scaleX(1.1250);color:#808080"><i>PV</i> = 6.13<i>λ</i></div>
<div id="t_rms4" class="t" style="left:455.5px;top:271px;font-size:12.8px;transform:translateX(-50%) scaleX(0.9597);color:#757575">rms<span style="color:#b4b4b4">=</span>1.3845<i>λ</i></div>
<div id="t_rel2" class="t" style="left:402px;top:286px;font-size:12.8px;transform:translateX(-50%) scaleX(0.9200);color:#ea6460">relative error<span style="color:#f2a29f">=</span>2.4%</div>
<div class="c" style="left:24px;top:53.25px;font-size:7.3px">5</div>
<div class="c" style="left:24px;top:75.45px;font-size:7.3px">4</div>
<div class="c" style="left:24px;top:97.65px;font-size:7.3px">3</div>
<div class="c" style="left:24px;top:119.75px;font-size:7.3px">2</div>
<div class="c" style="left:24px;top:142.15px;font-size:7.3px">1</div>
<div class="c" style="left:24px;top:164.25px;font-size:7.3px">0</div>
<div class="c" style="left:24px;top:186.25px;font-size:7.3px">-1</div>
<div class="c" style="left:24px;top:208.35px;font-size:7.3px">-2</div>
<div class="c" style="left:24px;top:230.15px;font-size:7.3px">-3</div>
<div class="c" style="left:539.6px;top:48.40px;font-size:9px">3</div>
<div class="c" style="left:539.6px;top:84.30px;font-size:9px">2</div>
<div class="c" style="left:539.6px;top:120.10px;font-size:9px">1</div>
<div class="c" style="left:539.6px;top:156.00px;font-size:9px">0</div>
<div class="c" style="left:539.6px;top:191.80px;font-size:9px">-1</div>
<div class="c" style="left:539.6px;top:227.60px;font-size:9px">-2</div>
</div></body></html>
